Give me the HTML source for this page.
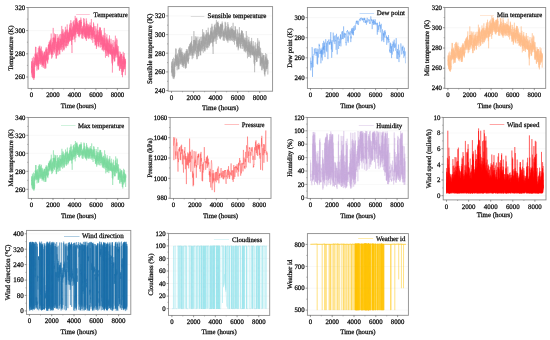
<!DOCTYPE html>
<html><head><meta charset="utf-8"><title>Weather time series</title>
<style>html,body{margin:0;padding:0;background:#fff}svg{display:block}text{stroke:#111;stroke-width:0.26px;text-rendering:geometricPrecision}</style>
</head><body>
<svg width="550" height="340" viewBox="0 0 550 340" font-family='"Liberation Serif", "DejaVu Serif", serif' font-size="6.6" fill="#111">
<rect width="550" height="340" fill="#fff"/>
<g font-size="6.77">
<line x1="28" y1="30.6" x2="129" y2="30.6" stroke="#f0f0f0" stroke-width="0.5"/>
<line x1="28" y1="53.8" x2="129" y2="53.8" stroke="#f0f0f0" stroke-width="0.5"/>
<line x1="28" y1="77" x2="129" y2="77" stroke="#f0f0f0" stroke-width="0.5"/>
<polyline points="31.4,67.9 31.5,72.6 31.5,70.6 31.6,65.2 31.6,61.1 31.6,65.6 31.7,67.8 31.7,66.2 31.7,68 31.8,62.1 31.8,62.3 31.9,70.4 31.9,73.5 32,69.8 32,76.9 32.1,64.5 32.1,64.3 32.2,72.6 32.2,74.8 32.2,69.8 32.3,68.5 32.3,58.1 32.3,58.3 32.4,68.5 32.5,72 32.5,68.7 32.5,68.5 32.6,61.3 32.6,60.4 32.7,73.4 32.7,77.2 32.8,69.2 32.8,70.1 32.9,67.2 32.9,69.8 32.9,74.4 33,78.4 33,73.8 33,75 33.1,78 33.1,75.3 33.2,69.2 33.2,77.9 33.3,69.2 33.3,66.7 33.4,56.7 33.4,59.5 33.5,71.1 33.5,73.6 33.5,70.1 33.5,68.8 33.6,62.9 33.6,64.9 33.7,77.4 33.8,80 33.8,76.9 33.8,77.3 33.9,73.5 33.9,69.9 34,72.4 34,78.5 34.1,75.5 34.1,73.6 34.1,60.8 34.2,65.8 34.2,70.9 34.2,72.9 34.3,78 34.3,71.9 34.4,61.7 34.4,63.7 34.5,73.9 34.5,73.3 34.5,76.6 34.6,73.1 34.7,58.1 34.7,58.7 34.7,66.3 34.8,64.5 34.8,67 34.8,64.4 34.9,58.2 34.9,57.2 35,62.2 35.1,65 35.1,62.1 35.1,59.9 35.2,54.3 35.2,56.3 35.2,53.4 35.3,60.6 35.3,56.6 35.4,54.9 35.4,50.2 35.5,46.8 35.5,56.7 35.5,57.7 35.6,62.4 35.7,54.8 35.7,57.2 35.7,55.9 35.8,60.9 35.8,64.7 35.9,58.6 35.9,56.2 35.9,47 36,47.8 36,63.3 36,62.6 36.1,65.6 36.1,65.6 36.2,58.7 36.2,57.7 36.3,61.4 36.3,62.8 36.3,63.9 36.4,61.4 36.5,53.8 36.5,57.7 36.5,64.5 36.6,66.1 36.6,63.6 36.6,61.5 36.7,55.2 36.7,55.4 36.8,62.7 36.8,63.2 36.9,70.6 36.9,64.2 37,53.3 37,54.5 37.1,63.3 37.1,65 37.1,62.1 37.2,60.9 37.2,52.2 37.2,52.8 37.3,61.8 37.3,60.3 37.4,63 37.4,61.3 37.4,58.9 37.5,56.9 37.6,64.8 37.6,65.6 37.7,62.6 37.7,59.8 37.7,54.9 37.8,55.2 37.8,62 37.9,69.3 37.9,63.8 37.9,64.2 38,56.5 38,57 38.1,64.7 38.1,66.7 38.2,63.1 38.2,63.9 38.3,55.2 38.3,48.1 38.4,65.2 38.4,69.7 38.4,65.4 38.5,65.2 38.5,60 38.5,60.8 38.6,66.8 38.6,69.3 38.7,63.1 38.8,60.5 38.8,61.8 38.8,57.9 38.9,63 38.9,65.6 39,57.9 39,58.1 39,46.5 39.1,49.6 39.1,54.2 39.1,52.7 39.2,56.3 39.2,53.3 39.3,50.4 39.3,51 39.4,59.4 39.4,63.8 39.5,57.5 39.5,54.3 39.6,46.9 39.6,46.8 39.6,60.3 39.7,61.1 39.7,55.6 39.7,55.2 39.8,46.1 39.8,45.7 39.8,51 39.9,52.7 40,54.7 40,53.6 40.1,48.6 40.1,48.3 40.2,58.5 40.2,60.7 40.2,63.9 40.3,62.1 40.3,51.2 40.3,51.5 40.4,55.5 40.4,56.1 40.5,62.8 40.5,57.7 40.6,48.8 40.6,49.6 40.7,59.1 40.7,60.6 40.7,64.8 40.8,59.6 40.8,53.6 40.9,52.4 40.9,55.8 40.9,54.9 41,60.3 41,53.7 41.1,50.7 41.1,52.3 41.2,57.6 41.2,58.7 41.2,61.2 41.3,57 41.4,46.6 41.4,48 41.5,58.5 41.5,59.6 41.5,62.3 41.6,61.7 41.6,55.2 41.6,55.7 41.7,59.3 41.8,64.3 41.8,60 41.8,59.3 41.9,50.5 41.9,50.5 42,66.7 42,67 42.1,59.3 42.1,63.2 42.1,53.4 42.2,52.8 42.2,59 42.2,59.7 42.3,65.1 42.3,62.4 42.4,56.8 42.4,56.8 42.5,61.3 42.5,62.8 42.6,65.3 42.6,63.8 42.7,52.4 42.7,51.3 42.7,60.3 42.8,59.4 42.8,63.2 42.9,56.3 42.9,65.5 43,57.1 43,58.9 43,64.8 43.1,61.6 43.1,64.3 43.1,53.9 43.2,55.6 43.3,66.4 43.3,67.9 43.3,62.4 43.4,61 43.4,56.6 43.5,55.4 43.5,62.5 43.6,66.2 43.6,61.5 43.6,61.2 43.7,57 43.7,55.9 43.8,63.8 43.8,64 43.8,59.1 43.9,59.3 43.9,52.9 44,52.5 44,60.4 44.1,63.4 44.1,59.6 44.1,60.7 44.2,56.8 44.2,55.1 44.2,58.7 44.3,57.6 44.4,52.2 44.4,58.9 44.5,52.1 44.5,52.3 44.5,53.9 44.6,61.8 44.6,57.9 44.6,55.6 44.7,51.3 44.7,51.6 44.8,65.6 44.8,68.5 44.9,66.1 44.9,64.1 45,59.8 45,59.4 45.1,65 45.1,68.7 45.1,63.5 45.2,63.1 45.2,56.3 45.3,56 45.3,62.3 45.3,62.2 45.4,66.7 45.4,61.4 45.5,51.8 45.5,49.6 45.6,65 45.6,65 45.7,63.4 45.7,63.5 45.7,54.9 45.8,59.7 45.8,63.2 45.9,68.3 45.9,62.2 45.9,60.8 46,47.5 46,53.6 46.1,59.8 46.1,56.4 46.2,57.7 46.2,56.7 46.3,50.4 46.3,49.8 46.4,55.2 46.4,59.8 46.4,54.1 46.5,59.6 46.5,49.3 46.5,50.6 46.6,59.1 46.6,60.9 46.7,57 46.7,56 46.8,51 46.8,47.4 46.9,54.4 46.9,53.9 46.9,56.3 47,56.2 47,51.6 47.1,52.5 47.1,58.8 47.2,61.7 47.2,58.1 47.2,56.9 47.3,48.8 47.3,48.8 47.4,58.7 47.4,58.5 47.5,62.5 47.5,62 47.6,54.5 47.6,52.8 47.6,58.7 47.7,59.6 47.7,63.3 47.7,63.7 47.8,57.7 47.8,60.1 47.9,57.8 47.9,60.1 48,55.5 48,55.2 48.1,51.9 48.1,51.9 48.2,54.9 48.2,54.3 48.2,51 48.3,50.7 48.3,45.1 48.3,45.9 48.4,54.4 48.4,58.6 48.5,51.8 48.5,51.1 48.6,44.2 48.6,44.7 48.7,48.5 48.7,45 48.8,48.6 48.8,48.8 48.8,46 48.9,44.9 48.9,52.2 49,54.4 49,48.2 49,49.2 49.1,43 49.1,41.9 49.2,47.9 49.2,47.8 49.3,52.7 49.3,50.9 49.3,43.8 49.4,45.5 49.4,50.7 49.5,52.6 49.5,49.5 49.5,49.3 49.6,43.5 49.6,42.3 49.7,54.3 49.7,55.1 49.8,48.4 49.8,46.4 49.9,40.7 49.9,42 50,49.2 50,49.3 50,50.9 50.1,48.7 50.1,43.9 50.2,43.4 50.2,46 50.2,49.3 50.3,51.7 50.3,53.8 50.4,41.1 50.4,40 50.5,47.4 50.6,50.2 50.6,47.7 50.6,47.1 50.7,41.2 50.7,41.6 50.7,50.3 50.8,52.1 50.8,44.3 50.8,43.5 50.9,38.6 50.9,38.9 51,46.9 51.1,49.9 51.1,45.5 51.1,44.6 51.2,33.6 51.2,34.5 51.3,47.2 51.3,48.3 51.3,55 51.4,52.7 51.4,45.3 51.4,45.8 51.5,53.6 51.5,55.5 51.6,58.6 51.6,56.2 51.7,49.6 51.7,49.3 51.7,53.4 51.8,52.4 51.8,54.7 51.9,49.9 51.9,44.8 52,43.8 52,52.4 52.1,51.2 52.1,54 52.1,49.9 52.2,47.3 52.2,47.6 52.3,56.1 52.3,57.4 52.4,53.4 52.4,51.3 52.5,42.8 52.5,42.1 52.5,46.2 52.6,44.4 52.6,48.1 52.6,46.5 52.7,44.3 52.7,43.2 52.8,47.1 52.8,49.4 52.9,51.9 52.9,48.2 52.9,37.8 53,45.4 53.1,51.2 53.1,54.9 53.1,48.6 53.2,45.1 53.2,30.7 53.2,27.9 53.3,43.6 53.4,42.8 53.4,40.1 53.5,40.8 53.5,39 53.5,37.8 53.6,48.2 53.6,50.7 53.7,47.2 53.7,46.2 53.7,40.4 53.8,37.9 53.8,44.8 53.9,48.2 53.9,44 54,43.3 54,37.8 54,37.4 54.1,48.8 54.1,47.6 54.2,52 54.2,47 54.3,42.7 54.3,38.2 54.4,40.7 54.4,53.4 54.4,44.9 54.5,42.5 54.5,33.5 54.5,34.5 54.6,46.9 54.7,49.9 54.7,44.7 54.7,42.4 54.8,38.7 54.8,40.3 54.9,49 54.9,48.4 54.9,44.8 55,44.6 55,39.5 55,40.2 55.1,45.1 55.1,46 55.2,49 55.2,48.3 55.3,37.5 55.3,37.5 55.4,41.2 55.4,41.8 55.5,38.2 55.5,34 55.5,42.8 55.6,35.5 55.6,39.2 55.7,41.4 55.7,47.1 55.7,46.8 55.8,41.7 55.8,43.5 55.9,49.7 56,50.6 56,49.1 56,50.2 56,55.8 56.1,47.8 56.1,53.8 56.2,58.7 56.2,54.4 56.3,54.1 56.3,49.7 56.3,51.9 56.4,57.5 56.4,58.3 56.5,52.3 56.5,50.7 56.6,42.9 56.6,41.9 56.7,46.3 56.7,50.8 56.7,45.5 56.8,47.6 56.8,44.6 56.9,43.8 56.9,49.6 56.9,52.4 57,44.5 57,47.8 57.1,36.8 57.1,34 57.2,43.7 57.2,47.8 57.3,44.3 57.3,44.5 57.4,37.9 57.4,38.2 57.4,48.1 57.5,52.2 57.5,49.4 57.5,47.4 57.6,40.9 57.7,41.5 57.7,52.8 57.7,55.5 57.8,51.8 57.8,49 57.9,42.3 57.9,43.6 58,49.7 58,55.2 58,48.7 58.1,46 58.1,38.1 58.1,40 58.2,49.1 58.3,49.4 58.3,46.3 58.3,45.8 58.4,40.4 58.4,45 58.5,42.3 58.5,46 58.5,50.3 58.6,48.1 58.6,40 58.7,36.5 58.7,46.7 58.7,48.8 58.8,48 58.8,47.7 58.9,39.2 58.9,38.2 59,50.4 59,49.8 59,47.7 59.1,47 59.2,42.1 59.2,41.4 59.3,42.8 59.3,43.8 59.3,34.5 59.4,36.3 59.4,39.7 59.4,39.3 59.5,48.5 59.5,49.5 59.5,54 59.6,48.6 59.7,43.7 59.7,43 59.8,51.6 59.8,51.5 59.8,54.5 59.9,51.5 59.9,43.9 60,44 60,47 60.1,49.8 60.1,46.8 60.1,46.2 60.2,40.4 60.2,39.2 60.3,45.6 60.3,48.1 60.4,43.6 60.4,43.1 60.5,33.9 60.5,36.3 60.5,42.9 60.6,43 60.6,39.9 60.7,39.1 60.7,41.9 60.7,39.8 60.8,45.4 60.8,46.7 60.9,43.9 60.9,44.8 61,38.3 61,41.7 61,46.6 61.1,50.2 61.1,46.2 61.2,46.3 61.2,41.4 61.3,43 61.3,48.7 61.3,49.2 61.4,41.7 61.4,41.2 61.5,36.1 61.5,34.3 61.6,41 61.6,45.4 61.7,39.9 61.7,36.4 61.7,26.3 61.8,25.9 61.8,36.7 61.8,38.8 61.9,41.5 61.9,39.1 62,31.6 62,33.9 62.1,43.9 62.1,43.3 62.1,47.1 62.2,44.9 62.2,38.4 62.3,42.8 62.3,47.3 62.4,46.7 62.4,51.6 62.4,45.7 62.5,35.5 62.5,33.9 62.6,40.3 62.6,41.4 62.6,44.9 62.7,40 62.8,29 62.8,32.1 62.9,38.8 62.9,40.8 63,37 63,36.7 63,30.4 63,31.3 63.1,37.6 63.1,39.8 63.2,43.8 63.2,41.1 63.3,33.9 63.3,32.9 63.4,43.1 63.4,47.3 63.5,45.6 63.5,44 63.6,34.1 63.6,34.1 63.6,47.2 63.7,49.9 63.7,46.2 63.7,44.7 63.8,39.5 63.8,40.1 63.9,46.7 63.9,47.5 64,50.5 64,47.9 64.1,40.8 64.1,41.7 64.1,45.9 64.2,49 64.2,45.8 64.3,45.3 64.3,35.8 64.3,34.6 64.4,41.9 64.4,38.2 64.5,40.2 64.5,42.4 64.5,36.1 64.6,35.4 64.7,40.5 64.7,45.6 64.8,42.7 64.8,41.1 64.8,31.6 64.9,31.8 64.9,35 65,39.1 65,36.4 65,33 65.1,34.9 65.1,32 65.2,36.9 65.2,37.9 65.3,36 65.3,34.4 65.4,26.9 65.4,26.8 65.4,36.5 65.5,36.5 65.5,42.1 65.5,46.4 65.6,35.1 65.6,32.9 65.7,36.6 65.7,39 65.8,32 65.8,30 65.8,32.5 65.9,31.5 66,42.7 66,43.1 66,39.6 66.1,48.1 66.1,38 66.2,39.6 66.2,45.3 66.3,44 66.3,46.3 66.3,45.4 66.4,37.9 66.4,37.5 66.5,42.2 66.6,43.3 66.6,41.2 66.6,40.9 66.6,31.5 66.7,29.5 66.7,37.6 66.8,38.3 66.8,36.1 66.8,35.6 66.9,31.3 66.9,31.9 67,41.9 67,45.9 67.1,40.5 67.1,38.1 67.2,25 67.2,24.4 67.3,36.7 67.3,38.1 67.3,35 67.4,34.1 67.4,29.6 67.4,31.3 67.5,36.4 67.5,37.1 67.6,42.5 67.6,40.2 67.7,33.6 67.7,34.3 67.8,43.8 67.8,46.1 67.9,41.6 67.9,39.6 67.9,32.3 67.9,33.1 68,42.1 68.1,43.4 68.1,38.2 68.1,36.5 68.2,35.1 68.2,34.9 68.3,40.1 68.3,44.3 68.4,40.6 68.4,37.5 68.4,32.5 68.5,35.4 68.5,39.1 68.6,40.2 68.6,42.6 68.7,42.6 68.7,33.9 68.7,33 68.8,36 68.8,37.3 68.9,40.8 68.9,39.2 69,32.4 69,31.4 69.1,35.6 69.1,38.4 69.1,35.8 69.2,35.2 69.2,29.8 69.2,30 69.3,38.9 69.4,41.8 69.4,38.7 69.4,37.6 69.5,27.6 69.5,28.3 69.6,36.6 69.6,39.9 69.7,35.3 69.7,33.7 69.7,24.6 69.8,26.1 69.8,37 69.9,40.6 69.9,37.8 69.9,36.9 70,30.4 70,29.1 70.1,36.7 70.1,41 70.2,37.1 70.2,33.4 70.2,25.4 70.3,23.1 70.3,30.9 70.4,29.2 70.4,32.4 70.5,30.2 70.5,27.8 70.5,28.8 70.6,35.4 70.7,37 70.7,34 70.7,33.1 70.8,24.9 70.8,20.2 70.9,36 70.9,37.1 70.9,40.4 71,38.1 71,28.7 71,28.9 71.1,35.6 71.1,35.9 71.2,30.5 71.2,34.5 71.3,30 71.3,30.9 71.4,34.2 71.4,36.6 71.4,41.6 71.5,38.5 71.5,23.2 71.6,30 71.6,42.2 71.6,44.9 71.7,39.2 71.7,38.8 71.8,34.1 71.8,35 71.9,39.7 72,53 72,39.2 72,36.7 72.1,33.7 72.1,33.3 72.2,37.2 72.2,39.8 72.2,34.4 72.2,33.5 72.3,29.3 72.3,30.5 72.4,36.3 72.4,39.2 72.5,35.1 72.5,35.1 72.6,26.5 72.6,27.6 72.7,37.4 72.7,33.7 72.7,37 72.8,32.9 72.8,27.7 72.9,29 72.9,33.2 72.9,36.1 73,39.8 73,35.3 73.1,22.1 73.1,22.2 73.2,28.7 73.2,30.9 73.3,27.2 73.3,25.9 73.3,21.2 73.4,25.3 73.4,33.6 73.5,36.1 73.5,31.1 73.5,30.7 73.6,24.4 73.6,23.6 73.7,32.8 73.8,36.1 73.8,32.2 73.8,31.5 73.8,28.9 73.9,27.1 73.9,32.4 74,36.5 74,33 74.1,32.3 74.1,20.6 74.1,20 74.2,32 74.2,31.1 74.3,34.8 74.3,31.8 74.4,25.5 74.4,25.7 74.5,38.4 74.5,39.3 74.6,32.4 74.6,31.4 74.6,24.8 74.7,26.5 74.7,30.1 74.8,32.6 74.8,27.6 74.9,23.6 74.9,27.3 74.9,26.4 75,29.7 75,42.2 75.1,28.5 75.1,29.5 75.2,15.9 75.2,17 75.2,30 75.3,30.4 75.3,34.2 75.3,30 75.4,24.8 75.4,26.1 75.5,31.4 75.6,35.1 75.6,30.9 75.6,28.5 75.7,18.5 75.7,20.6 75.8,33.3 75.8,37.8 75.9,33.1 75.9,31.5 75.9,21.1 75.9,23.6 76,31 76.1,32.2 76.1,28.8 76.1,29.2 76.2,18.7 76.2,18.3 76.3,25 76.3,27.9 76.4,24.9 76.4,25 76.5,20.9 76.5,19.7 76.5,29.4 76.6,32.3 76.6,26.4 76.6,25 76.7,18.2 76.7,17.7 76.8,25.4 76.9,29.3 76.9,26.1 76.9,24.8 76.9,19.4 77,20.3 77,28.8 77.1,30.8 77.1,34 77.2,30 77.2,23.3 77.3,21.9 77.3,31.1 77.4,31.4 77.4,28.5 77.4,28.9 77.5,24.1 77.5,25.8 77.5,22.7 77.6,24.6 77.6,33.7 77.7,28.2 77.7,25.2 77.8,27.7 77.8,30.6 77.9,31 77.9,28.6 77.9,29.7 78,23.6 78,24.8 78.1,29.4 78.1,29.8 78.1,33.9 78.2,30.7 78.2,28.1 78.3,29.7 78.3,36.1 78.4,35.8 78.4,31.9 78.4,30.8 78.5,26.6 78.6,25 78.6,28.6 78.6,29.4 78.6,31.6 78.7,28.5 78.7,23.3 78.8,25.9 78.9,30.6 78.9,36.3 78.9,31.6 79,30.8 79,20.8 79,22 79.1,33.9 79.2,37.3 79.2,29.9 79.2,28.9 79.3,24.1 79.3,21 79.4,31 79.4,34.2 79.5,29.6 79.5,28.3 79.5,20 79.6,20.5 79.6,33.2 79.6,32.8 79.7,35.5 79.7,32 79.8,22.2 79.8,22.2 79.9,28.4 80,30.5 80,25.2 80,26.7 80.1,20.8 80.1,21.8 80.2,30.3 80.2,34.3 80.2,28.7 80.2,27.9 80.3,21.8 80.4,23.7 80.4,31.6 80.4,31.7 80.5,28.5 80.5,28.4 80.6,19.9 80.6,21.5 80.7,29.8 80.7,34.3 80.8,29.6 80.8,29.8 80.8,17.6 80.9,18.2 80.9,26.4 81,27 81,22.1 81,23 81.1,20.5 81.1,19.7 81.2,26.9 81.2,27.8 81.2,26.1 81.3,25.5 81.3,21.9 81.4,22.5 81.4,27.6 81.5,27.7 81.5,33.3 81.5,32.4 81.6,28.4 81.6,29.1 81.7,33.2 81.8,38.2 81.8,34.7 81.8,32.5 81.8,27.9 81.9,33.6 81.9,29.4 82,31.1 82,34.1 82.1,32.8 82.1,31.2 82.1,30.6 82.2,34.2 82.2,37.1 82.3,38.7 82.3,37 82.4,28.1 82.4,27.3 82.5,33.8 82.5,32.9 82.5,35.1 82.6,34.3 82.6,27.4 82.7,26 82.7,32.7 82.8,32.1 82.8,29.8 82.9,28.9 82.9,31.5 82.9,31.6 83,36.7 83,38.7 83.1,35.1 83.1,33.9 83.2,29.5 83.2,29.6 83.2,34.3 83.3,34.2 83.3,31.9 83.3,30.7 83.4,25.1 83.4,25.3 83.5,30.4 83.5,31.5 83.5,29.7 83.6,30.7 83.7,18 83.7,25.1 83.8,32.2 83.8,35.8 83.8,32.2 83.9,30.5 83.9,23.3 84,24.3 84,29.1 84.1,32.5 84.1,28.7 84.1,26.6 84.2,20.4 84.2,18.9 84.3,26.8 84.3,25.1 84.4,28.2 84.4,28 84.4,31.3 84.5,28.2 84.5,35.3 84.5,37.3 84.6,27.6 84.6,27.8 84.7,22.5 84.7,23.5 84.8,34.5 84.8,31.8 84.8,33.8 84.9,32.8 85,29.4 85,29.8 85,34.5 85.1,34.1 85.1,36.5 85.1,33.4 85.2,28.5 85.2,29.9 85.3,34.2 85.4,37.4 85.4,32.4 85.4,30.8 85.5,26.2 85.5,26.3 85.6,38.3 85.6,33 85.6,39.2 85.7,35 85.7,27.8 85.8,27.5 85.8,32.5 85.9,37.3 85.9,33.7 85.9,31.7 86,24.3 86,24.1 86.1,31.3 86.1,34.2 86.2,31 86.2,29.6 86.2,23.4 86.3,18.4 86.3,34.1 86.4,36.3 86.4,40.9 86.4,34.8 86.5,28.3 86.6,20.8 86.6,34.9 86.6,34.7 86.7,31.5 86.7,31.6 86.7,28.2 86.8,30 86.9,35 86.9,38.5 86.9,33 87,31.3 87,23.3 87.1,24.9 87.1,34.7 87.1,37.3 87.2,31.9 87.2,31.5 87.3,24.2 87.3,24.3 87.4,35.1 87.4,34.9 87.4,32.7 87.5,33.1 87.5,25.9 87.6,26.7 87.6,33.1 87.7,32.1 87.7,30.1 87.7,29 87.8,26.9 87.8,26.8 87.9,28.1 87.9,31 87.9,36 88,31.8 88.1,29.2 88.1,28.4 88.1,36 88.2,38 88.2,34.4 88.2,31.6 88.3,27.3 88.3,27.9 88.4,35.7 88.5,39.1 88.5,36 88.5,34.5 88.6,25.1 88.6,25.9 88.7,33.2 88.7,35.6 88.8,32 88.8,29.4 88.8,24.9 88.9,24 88.9,29.6 88.9,31.4 89,36.7 89,31.5 89.1,27.5 89.1,26.9 89.2,34.3 89.2,35.5 89.2,33.5 89.3,34.5 89.3,29.4 89.4,29.4 89.4,32.6 89.4,35.3 89.5,38.5 89.5,36.7 89.6,26.8 89.6,27.9 89.7,37.1 89.7,38 89.8,35 89.8,33.7 89.9,25.4 89.9,25.4 89.9,31.5 90,33 90,35 90.1,31.5 90.1,22.5 90.1,24.6 90.2,31.7 90.3,31.7 90.3,28.7 90.3,29.1 90.4,26 90.4,25.6 90.5,27.3 90.5,26.4 90.5,32.1 90.6,31.5 90.6,25.8 90.7,25.4 90.7,32.9 90.8,36.4 90.8,39.1 90.8,37.3 90.9,27.6 90.9,27.3 91,33.5 91,35.1 91.1,31 91.1,30.2 91.2,26.2 91.2,28.1 91.2,31.7 91.3,37.7 91.3,32.2 91.3,29.8 91.4,19 91.4,20.7 91.5,31.3 91.5,31.3 91.6,34.9 91.6,33.2 91.7,27.4 91.7,26.9 91.8,34.6 91.8,40.2 91.8,36.8 91.9,35.5 91.9,27 92,27.7 92,35.7 92.1,35.7 92.1,32.8 92.1,32.1 92.2,30.5 92.2,31.1 92.3,34.9 92.3,35.3 92.3,37.9 92.4,35.7 92.4,30.6 92.5,31.8 92.5,34.8 92.6,33.1 92.6,36.3 92.6,34.4 92.7,28.2 92.7,29 92.8,38 92.8,42.9 92.9,39.1 92.9,38 93,27.1 93,28.2 93.1,38.2 93.1,38.9 93.1,34.1 93.1,33.9 93.2,29.5 93.2,30.7 93.3,29.2 93.3,35 93.4,31.9 93.4,31.5 93.5,23.2 93.5,22.4 93.6,30.9 93.6,27.4 93.6,30 93.7,26.6 93.7,23.6 93.8,25.3 93.8,34.2 93.8,33.5 93.9,37 93.9,32.8 94,30.9 94,30.7 94.1,35.3 94.1,37.4 94.2,34 94.2,33.7 94.3,26.5 94.3,26.1 94.3,37.3 94.4,38.9 94.4,35.4 94.4,34.8 94.5,31 94.5,31.6 94.6,37.7 94.6,39 94.7,36.8 94.7,36.5 94.7,34.3 94.8,35.6 94.9,41.1 94.9,42 94.9,39.8 95,39.8 95,38.6 95.1,39 95.1,41.9 95.1,43.6 95.2,45.7 95.2,42.7 95.3,37.7 95.3,39.3 95.3,43.9 95.4,45 95.5,40.3 95.5,39.9 95.5,34.9 95.6,36.4 95.6,39.9 95.7,44.4 95.7,36.9 95.7,35.4 95.8,26.2 95.8,27.8 95.9,39.9 95.9,42.7 96,40.6 96,39.1 96.1,28.6 96.1,28.6 96.1,39.2 96.2,39.8 96.2,43.1 96.2,38.9 96.3,34.5 96.3,35.3 96.4,42.5 96.4,49 96.5,44.3 96.5,43.8 96.6,35.4 96.6,36.7 96.7,46 96.7,47.2 96.7,41.1 96.8,40.9 96.8,34.2 96.8,34.9 96.9,45.8 96.9,46.2 97,39.1 97,36.9 97.1,30.8 97.1,33.1 97.2,40.1 97.2,41.5 97.3,37.3 97.3,38.7 97.3,30.5 97.4,30.7 97.4,34.8 97.4,36.5 97.5,39 97.5,36.1 97.6,23.6 97.6,26.4 97.7,38.6 97.7,42 97.7,39.1 97.8,40.5 97.8,38 97.9,38.1 97.9,42.6 98,44.2 98,39.5 98,38.7 98.1,30.8 98.1,30.2 98.2,36.4 98.2,37.1 98.3,40.1 98.3,38.1 98.4,36.3 98.4,35.5 98.5,41 98.5,42.7 98.5,46.1 98.6,41 98.6,35.3 98.7,36.2 98.7,43.9 98.8,46.3 98.8,43 98.8,42.4 98.9,33 98.9,31.8 99,41.2 99,47.4 99.1,41.6 99.1,40.3 99.2,33.1 99.2,32.1 99.2,41.3 99.3,42.2 99.3,35.9 99.3,35.8 99.4,29.5 99.4,30.2 99.5,35.8 99.5,37.5 99.6,39.8 99.6,37.1 99.7,27.2 99.7,28 99.8,37.6 99.8,42.2 99.8,38 99.9,35.7 99.9,30.5 100,28.4 100,32.5 100,34.8 100.1,37.4 100.1,33.2 100.2,27.7 100.2,27.5 100.3,39.9 100.3,41.8 100.3,44.4 100.4,42.8 100.4,27.8 100.5,33 100.5,45.3 100.5,47.5 100.6,43.2 100.6,44.5 100.7,37.4 100.8,35.8 100.8,39 100.8,40.1 100.9,36.2 100.9,35.4 100.9,31.8 101,33.4 101,41.6 101.1,43.9 101.1,39.9 101.1,39.6 101.2,34.2 101.2,33.6 101.3,40.6 101.3,40.6 101.4,36.5 101.4,36.2 101.5,30.4 101.5,31.3 101.6,40 101.6,39.5 101.6,45 101.7,42.2 101.7,36.8 101.7,38.5 101.8,46.9 101.8,46.2 101.9,42.9 101.9,42.4 102,36.2 102,37.2 102.1,42.8 102.1,44.9 102.1,50.1 102.2,46.9 102.2,38.1 102.3,37.7 102.3,44 102.4,44.2 102.4,40.7 102.4,41.1 102.5,37.7 102.5,37.8 102.6,46.4 102.6,49.3 102.7,46.1 102.7,45.9 102.8,37.2 102.8,39.2 102.9,45.9 102.9,48.5 102.9,44.7 103,43.4 103,34.8 103,35.7 103.1,46.9 103.1,50.6 103.2,43.1 103.2,42.1 103.3,35.4 103.3,37.4 103.4,47 103.4,47.3 103.4,44.7 103.5,46.5 103.5,43.2 103.6,43.6 103.6,46 103.7,47.5 103.7,43.6 103.7,45 103.8,40 103.9,46.1 103.9,38.5 103.9,51.6 104,47.2 104,50.1 104.1,38.2 104.1,40.4 104.1,44.2 104.2,46.5 104.2,42.9 104.2,41.5 104.3,34.3 104.3,27.9 104.4,45.3 104.4,44 104.5,41 104.5,42.6 104.5,40.2 104.6,41.6 104.7,47.2 104.7,49.6 104.7,47.5 104.8,46.1 104.8,36.9 104.9,35.8 104.9,41 105,46.3 105,43 105,40.1 105.1,33.1 105.1,32.9 105.2,44.9 105.2,46.5 105.2,49.8 105.3,47 105.3,43 105.4,43.9 105.4,56.7 105.5,57.7 105.5,54.8 105.5,53.9 105.6,45.7 105.6,44.4 105.7,51 105.7,53.4 105.8,47.7 105.8,46.7 105.9,39.3 105.9,38.5 105.9,42.4 106,45.6 106,50.6 106,46.7 106.1,39.7 106.1,39.9 106.2,49.7 106.3,50.4 106.3,45.4 106.3,48.2 106.4,43.8 106.4,43.9 106.5,50.1 106.5,49.5 106.5,56 106.6,50.4 106.6,37.3 106.7,39.4 106.7,49.7 106.7,48.5 106.8,44.7 106.8,43.4 106.9,34.3 106.9,35.3 107,45.3 107,47.1 107,50.3 107.1,46.6 107.1,42.1 107.2,45 107.2,51.6 107.3,56.1 107.3,46.8 107.3,51.2 107.4,41.7 107.4,39.7 107.5,51.6 107.5,52.2 107.6,49.8 107.6,48.2 107.6,42.9 107.7,41.1 107.8,48.7 107.8,54.3 107.8,50.4 107.9,46.7 107.9,38.7 107.9,39.3 108,50.1 108,51.5 108.1,48.2 108.1,47.8 108.2,42.4 108.2,44.4 108.3,49.2 108.3,52.6 108.3,51.1 108.4,52.5 108.4,48.6 108.5,49.7 108.5,52.6 108.6,57.2 108.6,53.8 108.6,49.9 108.7,43 108.7,45.4 108.8,51 108.9,54.4 108.9,50 108.9,49.9 109,40.3 109,40.3 109,53.6 109.1,54.1 109.1,50 109.1,47.9 109.2,40 109.2,38.6 109.3,46.6 109.3,44.7 109.4,50.8 109.4,44.4 109.5,36.9 109.5,35.4 109.6,39.5 109.6,42.1 109.6,40.8 109.7,42.1 109.7,43.1 109.7,43 109.8,49.7 109.8,53.3 109.9,50.7 109.9,51.2 110,44.8 110,44.4 110.1,52.3 110.1,50.8 110.2,53.7 110.2,52.5 110.2,44.3 110.3,44.8 110.3,49 110.3,51 110.4,54.2 110.4,50.9 110.5,45.7 110.5,45.8 110.6,53.9 110.6,54.5 110.7,51.6 110.7,50.5 110.8,42.6 110.8,43.8 110.8,47.9 110.9,50.6 110.9,54 111,51.5 111,38.8 111,38.9 111.1,50 111.2,50.2 111.2,53 111.2,54.8 111.3,46.4 111.3,45.9 111.4,50.1 111.4,53 111.5,50.7 111.5,49.7 111.5,44.1 111.6,45 111.6,52.7 111.7,56 111.7,51.8 111.7,53.1 111.8,50 111.8,50 111.9,58.9 111.9,63.4 112,61.4 112,59.3 112,52.8 112.1,45 112.1,56.5 112.2,61.6 112.2,55.8 112.2,57.2 112.3,49 112.3,49.4 112.4,72.6 112.5,62.6 112.5,65.4 112.5,60.2 112.5,52.6 112.6,51.2 112.7,57.5 112.7,62.9 112.7,58.5 112.8,57.5 112.8,43.4 112.8,43.7 112.9,53 112.9,54.1 113,49.7 113,47.5 113.1,40 113.1,40.5 113.2,51.2 113.2,51.2 113.2,54.1 113.3,53.7 113.3,49.5 113.4,52.3 113.4,59.3 113.5,58.3 113.5,55.1 113.6,54.3 113.6,50.3 113.6,47 113.7,51.8 113.7,54.7 113.8,52.3 113.8,51.2 113.9,46.8 113.9,48.9 113.9,51.4 114,52 114,55.5 114,52.8 114.1,47.8 114.1,48.7 114.2,57.2 114.3,57.6 114.3,61.5 114.3,57.8 114.4,49.5 114.4,49.6 114.5,55.6 114.5,56.7 114.5,61 114.6,60.2 114.6,50 114.6,49.9 114.7,56.5 114.8,61.4 114.8,53.2 114.8,50.7 114.9,42 115,42.7 115,49 115,53.9 115.1,49.7 115.1,48.8 115.1,40.5 115.2,42.4 115.2,54.5 115.3,55.8 115.3,48.6 115.3,48.2 115.4,35.7 115.4,42.1 115.5,52.5 115.5,51 115.6,55.4 115.6,50.2 115.7,44.8 115.7,45.6 115.8,51.5 115.8,51.4 115.8,57.7 115.9,56.1 115.9,50.1 115.9,50.8 115.9,48.9 116,52.6 116.1,57.3 116.1,53.1 116.2,47.9 116.2,51 116.2,53.7 116.3,53.9 116.4,49.6 116.4,49.6 116.4,44.1 116.5,45.9 116.5,49.4 116.6,53.3 116.6,44.2 116.6,43 116.7,38.4 116.7,41.3 116.8,48.5 116.8,49.7 116.9,52.8 116.9,48 117,39.8 117,41.3 117,54.8 117.1,53.5 117.1,55.1 117.2,54 117.2,47.8 117.2,49 117.3,51.7 117.3,50.9 117.4,53.8 117.4,49.8 117.5,45.6 117.5,47.1 117.6,55.5 117.6,57.5 117.6,53.9 117.7,53.4 117.7,49.5 117.7,53.8 117.8,58.4 117.8,62.3 117.9,66.2 117.9,62.4 118,52.3 118,52.2 118.1,61.4 118.1,64.4 118.2,58.6 118.2,56.4 118.2,48.4 118.3,46.2 118.3,63.4 118.3,62.5 118.4,65.3 118.4,63.1 118.5,58.4 118.5,57.8 118.6,62.7 118.6,66.2 118.7,63.6 118.7,62.4 118.8,55.7 118.8,55.4 118.9,61.9 118.9,62.1 118.9,60 118.9,57.2 119,51.3 119,54.2 119.1,61.2 119.1,62.5 119.2,59.3 119.3,60.4 119.3,57.5 119.3,56.8 119.4,65.1 119.4,70.4 119.5,64 119.5,62.8 119.5,56.9 119.5,60.5 119.6,67.1 119.6,68 119.7,70.8 119.7,67.1 119.8,56.7 119.8,57 119.9,63 119.9,59.8 120,63.6 120,61.3 120,56.8 120.1,56.9 120.1,58.9 120.2,61.8 120.2,59.4 120.2,56.9 120.3,51.8 120.3,53.9 120.4,62.7 120.4,63.2 120.5,68.8 120.5,65.2 120.6,54.8 120.6,56 120.7,63.4 120.7,66.3 120.7,61.8 120.8,60.6 120.8,53.8 120.9,56.1 120.9,63.9 120.9,67.8 121,61.7 121,61.1 121.1,53.9 121.1,54.4 121.2,65.4 121.2,69 121.2,62.4 121.3,61.7 121.3,55.4 121.4,54.2 121.4,65.9 121.4,64.8 121.5,62 121.5,60.4 121.6,54 121.6,55.6 121.7,67.7 121.7,71.6 121.8,68.1 121.8,65.4 121.8,60.3 121.9,61 121.9,72.5 122,75 122,70.4 122,69.8 122.1,65.7 122.2,66.4 122.2,71.8 122.3,75.1 122.3,71.2 122.3,68.3 122.4,58.9 122.4,60.7 122.5,71.6 122.5,77.2 122.5,68.6 122.6,67 122.6,62.1 122.6,61.3 122.7,68.1 122.8,72.3 122.8,67.7 122.8,66.8 122.9,59 122.9,56.4 123,60.3 123,61.2 123,64.3 123.1,61.7 123.2,52.9 123.2,51.8 123.2,57.7 123.2,56.9 123.3,63.7 123.4,63.3 123.4,55.3 123.4,63.5 123.5,69.7 123.5,71.7 123.6,68.1 123.6,65.8 123.7,58.1 123.7,57.8 123.8,68.4 123.8,66.2 123.8,69.4 123.8,66.9 123.9,61.9 124,60.9 124,65.4 124.1,69.2 124.1,63.2 124.1,62.6 124.2,57.8 124.2,53 124.3,60.9 124.3,66.6 124.4,60.9 124.4,64.8 124.4,56.9 124.5,57.4 124.5,64.4 124.6,65.4 124.6,60.9 124.7,62.4 124.7,59.9 124.7,58.9 124.8,66.6 124.8,69 124.9,65.9 124.9,67.2 124.9,59.1 125,58.7 125,63.7 125.1,62 125.1,65.7 125.1,65.1 125.2,62.5 125.2,60.9 125.3,69.5 125.3,75.2 125.4,70.9 125.4,69.5 125.5,59.5 125.5,59.2 125.6,63.6" fill="none" stroke="#ff6292" stroke-width="0.45" stroke-opacity="1.0" stroke-linejoin="round"/>
<rect x="28" y="7.5" width="101" height="80.9" fill="none" stroke="#8c8c8c" stroke-width="0.9"/>
<line x1="26.2" y1="7.5" x2="28" y2="7.5" stroke="#555" stroke-width="0.6"/>
<text x="25.2" y="9.7" text-anchor="end">320</text>
<line x1="26.2" y1="30.6" x2="28" y2="30.6" stroke="#555" stroke-width="0.6"/>
<text x="25.2" y="32.9" text-anchor="end">300</text>
<line x1="26.2" y1="53.8" x2="28" y2="53.8" stroke="#555" stroke-width="0.6"/>
<text x="25.2" y="56" text-anchor="end">280</text>
<line x1="26.2" y1="77" x2="28" y2="77" stroke="#555" stroke-width="0.6"/>
<text x="25.2" y="79.2" text-anchor="end">260</text>
<line x1="42.1" y1="88.4" x2="42.1" y2="89.5" stroke="#777" stroke-width="0.5"/>
<line x1="63.6" y1="88.4" x2="63.6" y2="89.5" stroke="#777" stroke-width="0.5"/>
<line x1="85.1" y1="88.4" x2="85.1" y2="89.5" stroke="#777" stroke-width="0.5"/>
<line x1="106.7" y1="88.4" x2="106.7" y2="89.5" stroke="#777" stroke-width="0.5"/>
<line x1="26.9" y1="19.1" x2="28" y2="19.1" stroke="#777" stroke-width="0.5"/>
<line x1="26.9" y1="42.2" x2="28" y2="42.2" stroke="#777" stroke-width="0.5"/>
<line x1="26.9" y1="65.4" x2="28" y2="65.4" stroke="#777" stroke-width="0.5"/>
<line x1="31.4" y1="88.4" x2="31.4" y2="90.2" stroke="#555" stroke-width="0.6"/>
<text x="31.4" y="96.9" text-anchor="middle">0</text>
<line x1="52.9" y1="88.4" x2="52.9" y2="90.2" stroke="#555" stroke-width="0.6"/>
<text x="52.9" y="96.9" text-anchor="middle">2000</text>
<line x1="74.4" y1="88.4" x2="74.4" y2="90.2" stroke="#555" stroke-width="0.6"/>
<text x="74.4" y="96.9" text-anchor="middle">4000</text>
<line x1="95.9" y1="88.4" x2="95.9" y2="90.2" stroke="#555" stroke-width="0.6"/>
<text x="95.9" y="96.9" text-anchor="middle">6000</text>
<line x1="117.4" y1="88.4" x2="117.4" y2="90.2" stroke="#555" stroke-width="0.6"/>
<text x="117.4" y="96.9" text-anchor="middle">8000</text>
<text x="78.5" y="107.8" text-anchor="middle">Time (hours)</text>
<text transform="translate(12.5 48) rotate(-90)" text-anchor="middle">Temperature (K)</text>
<line x1="76.2" y1="14.5" x2="89.8" y2="14.5" stroke="#ff6292" stroke-width="0.6" stroke-opacity="0.6"/>
<text x="93.6" y="16.8">Temperature</text>
</g>
<g font-size="7.00">
<line x1="168.1" y1="15.9" x2="272.6" y2="15.9" stroke="#f0f0f0" stroke-width="0.5"/>
<line x1="168.1" y1="34.6" x2="272.6" y2="34.6" stroke="#f0f0f0" stroke-width="0.5"/>
<line x1="168.1" y1="53.2" x2="272.6" y2="53.2" stroke="#f0f0f0" stroke-width="0.5"/>
<line x1="168.1" y1="71.9" x2="272.6" y2="71.9" stroke="#f0f0f0" stroke-width="0.5"/>
<polyline points="171.5,67.8 171.6,72.3 171.6,70.4 171.7,65.6 171.7,61.6 171.8,65.8 171.8,67.7 171.8,66.3 171.9,67.9 171.9,62.7 172,62.9 172,70.2 172.1,73 172.1,69.6 172.1,76.2 172.2,64.9 172.2,64.7 172.3,72.2 172.3,74.1 172.4,69.5 172.4,68.4 172.5,59 172.5,59.2 172.5,68.4 172.6,71.6 172.6,68.6 172.7,68.5 172.7,62 172.7,61.1 172.8,72.9 172.8,76.3 172.9,69 172.9,69.9 173,67.4 173,69.9 173.1,73.9 173.1,77.6 173.2,73.4 173.2,74.7 173.2,78.7 173.3,75.9 173.3,69.2 173.4,77 173.4,69 173.4,66.7 173.5,57.7 173.5,60.4 173.6,70.8 173.6,73 173.7,69.9 173.7,68.7 173.8,63.4 173.8,65.3 173.9,76.7 173.9,79.1 174,76.2 174,76.6 174,73.2 174.1,69.8 174.1,72 174.2,77.5 174.2,74.9 174.2,73.2 174.3,61.6 174.3,66.1 174.4,70.6 174.4,72.4 174.5,77.1 174.5,71.6 174.6,62.3 174.6,64.2 174.7,73.5 174.7,72.8 174.7,75.9 174.8,72.7 174.8,59 174.9,59.6 174.9,66.3 174.9,64.7 175,67 175,64.6 175.1,59 175.1,58.1 175.2,62.5 175.2,65.1 175.3,62.5 175.3,60.5 175.4,55.4 175.4,57.2 175.4,54.4 175.5,60.9 175.5,57.3 175.6,55.8 175.6,51.7 175.7,48.5 175.7,57.4 175.7,58.3 175.8,62.7 175.9,55.9 175.9,58.2 175.9,57 176,61.3 176,64.8 176.1,59.2 176.1,57.1 176.2,48.8 176.2,49.5 176.3,63.6 176.3,62.9 176.3,65.7 176.4,65.7 176.4,59.5 176.4,58.6 176.5,61.9 176.5,63.1 176.5,64.1 176.6,61.9 176.7,55 176.7,58.6 176.8,64.7 176.8,66.1 176.9,63.9 176.9,61.9 176.9,56.3 177,56.5 177,63 177.1,63.4 177.1,70.3 177.1,64.4 177.2,54.6 177.2,55.6 177.3,63.5 177.3,65.1 177.4,62.4 177.4,61.3 177.5,53.5 177.5,54.1 177.6,62.2 177.6,60.8 177.7,63.4 177.7,61.8 177.7,59.6 177.8,57.8 177.8,65 177.9,65.6 177.9,62.9 177.9,60.4 178,56 178,56.3 178.1,62.4 178.1,69.1 178.2,64 178.2,64.5 178.3,57.5 178.3,57.9 178.4,64.9 178.4,66.7 178.5,63.4 178.5,64.2 178.5,56.3 178.6,49.7 178.6,65.4 178.7,69.4 178.7,65.5 178.7,65.3 178.8,60.7 178.8,61.5 178.9,66.8 178.9,69.1 179,63.4 179,61.2 179.1,62.4 179.1,58.8 179.2,63.4 179.2,65.7 179.3,58.6 179.3,58.8 179.3,48.1 179.3,51.1 179.4,55.2 179.4,53.8 179.5,57.1 179.5,54.4 179.6,51.8 179.6,52.3 179.7,60 179.7,63.9 179.8,58.2 179.8,55.3 179.9,48.7 179.9,48.6 180,60.8 180,61.5 180,56.5 180.1,56.1 180.1,47.8 180.1,47.4 180.2,52.3 180.2,53.8 180.3,55.5 180.3,54.7 180.4,50.2 180.4,49.9 180.5,59.1 180.5,61.2 180.5,64.1 180.6,62.5 180.7,52.6 180.7,52.9 180.7,56.4 180.8,56.8 180.8,63 180.8,58.4 180.9,50.3 180.9,51.2 181,59.7 181,61 181.1,64.8 181.1,60.2 181.2,54.8 181.2,53.7 181.3,56.6 181.3,55.8 181.3,60.8 181.4,54.7 181.4,52.1 181.5,53.6 181.5,58.3 181.6,59.3 181.6,61.6 181.6,57.8 181.7,48.3 181.7,49.7 181.8,59.2 181.8,60.1 181.9,62.6 181.9,62.1 182,56.3 182,56.7 182.1,60 182.1,64.4 182.2,60.5 182.2,59.9 182.2,52 182.3,51.9 182.3,66.7 182.4,67 182.4,59.9 182.4,63.6 182.5,54.6 182.5,54.1 182.6,59.6 182.6,60.2 182.7,65.1 182.7,62.8 182.8,57.8 182.8,57.7 182.9,61.7 182.9,63.1 183,65.4 183,64.1 183,53.7 183.1,52.7 183.1,60.8 183.1,59.9 183.2,63.5 183.3,57.2 183.3,65.8 183.4,57.9 183.4,59.6 183.4,64.9 183.5,61.9 183.5,64.5 183.5,55.1 183.6,56.7 183.7,66.5 183.7,67.8 183.7,62.8 183.8,61.5 183.8,57.5 183.9,56.5 183.9,62.9 184,66.2 184,62 184,61.7 184.1,58 184.1,56.8 184.2,64.1 184.2,64.2 184.3,59.6 184.3,59.9 184.4,54.2 184.4,53.8 184.5,60.9 184.5,63.6 184.5,60.2 184.6,61.3 184.6,57.7 184.6,56.1 184.7,59.5 184.7,59 184.8,54.2 184.8,60.1 184.9,53.4 185,53.4 185,54.9 185,62.1 185.1,58.5 185.1,56.5 185.1,52.6 185.2,53 185.2,65.7 185.3,68.3 185.3,66.1 185.4,64.3 185.4,60.5 185.4,60.2 185.5,65.1 185.5,68.5 185.6,63.7 185.6,63.5 185.7,57.4 185.7,57.1 185.8,62.6 185.8,62.5 185.8,66.6 185.9,61.8 186,53.1 186,51.1 186,65.1 186.1,65.1 186.1,63.6 186.2,63.9 186.2,55.9 186.2,60.4 186.3,63.7 186.3,68.1 186.4,62.6 186.4,61.3 186.4,49.1 186.5,54.9 186.6,60.3 186.6,57.2 186.6,58.4 186.7,57.5 186.7,51.8 186.8,51.2 186.8,56.1 186.9,60.3 186.9,55 186.9,60.2 187,50.9 187,52 187.1,59.7 187.1,61.3 187.2,57.7 187.2,56.9 187.3,52.4 187.3,49.1 187.4,55.4 187.4,54.9 187.4,57.1 187.5,57.1 187.5,52.9 187.6,53.7 187.6,59.4 187.7,61.9 187.7,58.8 187.7,57.6 187.8,50.5 187.8,50.4 187.9,59.3 187.9,59.1 188,62.8 188,62.4 188.1,55.5 188.1,54 188.2,59.3 188.2,60.2 188.2,63.6 188.3,64 188.3,58.5 188.4,60.8 188.4,58.5 188.4,60.6 188.5,56.4 188.5,56.1 188.6,53.2 188.7,53.1 188.7,55.8 188.7,55.2 188.8,52.2 188.8,52 188.8,46.9 188.9,47.7 188.9,55.3 189,59.2 189,52.9 189.1,52.3 189.1,46.1 189.1,46.6 189.2,49.8 189.3,46.6 189.3,50 189.3,50.3 189.4,47.7 189.4,46.7 189.5,53.3 189.5,55.3 189.6,49.6 189.6,50.5 189.7,45 189.7,43.9 189.7,49.4 189.8,49.2 189.8,53.7 189.8,52.1 189.9,45.7 189.9,47.3 190,52 190,53.6 190.1,50.8 190.1,50.6 190.2,45.5 190.2,44.3 190.3,55.2 190.3,55.9 190.4,49.7 190.4,47.9 190.5,42.9 190.5,44.1 190.5,50.5 190.6,50.6 190.6,52.1 190.6,50.1 190.7,45.8 190.7,45.3 190.8,47.6 190.8,50.5 190.9,52.8 190.9,54.9 191,43.3 191,42.2 191.1,48.9 191.1,51.4 191.2,49.1 191.2,48.6 191.2,43.3 191.3,43.7 191.3,51.6 191.4,53.2 191.4,45.9 191.4,45.3 191.5,40.9 191.5,41.1 191.6,48.5 191.7,51 191.7,47 191.7,46.3 191.8,36.3 191.8,37.2 191.9,48.6 191.9,49.5 191.9,55.8 192,53.8 192,47.1 192.1,47.6 192.1,54.5 192.1,56.3 192.2,59.2 192.2,57.1 192.3,51.1 192.3,50.9 192.4,54.5 192.4,53.4 192.4,55.5 192.5,51.3 192.6,46.7 192.6,45.7 192.7,53.4 192.7,52.3 192.7,55 192.8,51.2 192.8,48.9 192.8,49.3 192.9,56.9 193,58.1 193,54.4 193,52.5 193.1,44.7 193.1,44.1 193.2,47.8 193.2,46.1 193.3,49.6 193.3,48.1 193.4,46.1 193.4,45.1 193.5,48.6 193.5,50.7 193.5,53 193.6,49.6 193.6,40.1 193.6,47.2 193.7,52.4 193.8,55.7 193.8,49.9 193.8,46.7 193.9,33.7 193.9,31.1 194,45.3 194,44.5 194.1,42.1 194.1,42.9 194.2,41.2 194.2,40.1 194.2,49.6 194.3,51.9 194.3,48.6 194.4,47.8 194.4,42.6 194.5,40.2 194.5,46.4 194.6,49.5 194.6,45.7 194.6,45.1 194.7,40.1 194.7,39.8 194.8,50.2 194.8,49 194.8,53.1 194.9,48.6 195,44.7 195,42.7 195,40.4 195.1,54.3 195.1,46.5 195.1,44.3 195.2,36.2 195.2,37.1 195.3,48.4 195.3,51.1 195.4,46.3 195.4,44.3 195.5,41 195.5,42.5 195.6,50.3 195.6,49.8 195.6,46.4 195.7,46.3 195.7,41.6 195.8,42.3 195.8,46.7 195.8,47.5 195.9,50.3 195.9,49.7 196,39.9 196,39.8 196.1,43.1 196.1,43.6 196.2,40.3 196.3,36.6 196.3,44.8 196.3,37.9 196.4,41.3 196.4,43.2 196.4,48.6 196.5,48.4 196.5,43.8 196.5,45.4 196.6,51 196.7,51.8 196.7,50.4 196.7,51.5 196.8,56.8 196.8,49.4 196.9,54.8 196.9,59.3 197,55.3 197,55.1 197,51.1 197.1,53.2 197.2,58.2 197.2,58.9 197.2,53.3 197.3,51.9 197.3,44.9 197.4,44 197.4,47.8 197.4,52 197.5,47.1 197.5,49.1 197.6,46.4 197.6,45.7 197.7,50.9 197.7,53.5 197.7,46.1 197.8,49.3 197.8,39.3 197.9,36.6 197.9,45.5 198,49.1 198,46 198.1,46.3 198.1,40.3 198.1,40.5 198.2,49.5 198.3,53.3 198.3,50.7 198.3,48.9 198.4,43.1 198.4,43.6 198.5,53.8 198.5,56.3 198.6,52.9 198.6,50.4 198.6,44.4 198.7,45.6 198.7,51 198.8,55.9 198.8,50 198.8,47.6 198.9,40.5 198.9,42.2 199,50.4 199.1,50.6 199.1,47.9 199.1,47.4 199.2,42.5 199.2,46.8 199.2,44.2 199.3,47.5 199.3,51.4 199.4,49.6 199.4,42.2 199.5,38.9 199.5,48.2 199.5,50.1 199.6,49.2 199.6,49.2 199.7,41.6 199.7,40.6 199.8,51.6 199.8,51 199.9,49.1 199.9,48.5 199.9,44.1 200.1,43.3 200.1,44.6 200.1,45.5 200.1,36.9 200.2,38.7 200.2,41.9 200.3,41.5 200.3,49.9 200.3,50.8 200.4,55 200.4,50 200.5,45.6 200.5,44.9 200.6,52.8 200.6,52.6 200.7,55.4 200.7,52.7 200.8,45.8 200.8,45.8 200.8,48.5 200.9,51 200.9,48.3 201,47.7 201,42.6 201.1,41.4 201.1,47.2 201.2,49.4 201.2,45.3 201.2,44.9 201.3,36.6 201.3,38.8 201.4,44.7 201.4,44.7 201.5,41.9 201.5,41.2 201.5,43.9 201.6,41.9 201.6,47 201.7,48.1 201.7,45.6 201.8,46.5 201.8,40.6 201.8,43.7 201.9,48.2 201.9,51.4 202,47.7 202,47.8 202.1,43.4 202.1,45 202.2,50 202.2,50.5 202.3,43.6 202.3,43.2 202.3,38.6 202.4,36.9 202.4,42.9 202.5,46.8 202.5,41.9 202.5,38.7 202.6,29.6 202.6,29.2 202.7,39 202.7,40.8 202.8,43.3 202.8,41.1 202.9,34.5 202.9,36.6 203,45.6 203,45.1 203,48.6 203.1,46.6 203.1,40.7 203.2,44.7 203.2,48.8 203.3,48.2 203.3,52.7 203.3,47.3 203.4,38 203.4,36.5 203.5,42.3 203.5,43.2 203.5,46.4 203.6,42 203.7,32 203.7,34.9 203.8,40.8 203.8,42.7 203.9,39.2 203.9,39 203.9,33.3 204,34.1 204,39.8 204,41.8 204.1,45.4 204.1,43.1 204.2,36.6 204.2,35.6 204.3,44.8 204.4,48.6 204.4,47.1 204.4,45.7 204.5,36.8 204.5,36.8 204.6,48.7 204.6,51 204.7,47.7 204.7,46.4 204.7,41.8 204.8,42.3 204.8,48.2 204.8,48.9 204.9,51.6 204.9,49.4 205,42.9 205,43.8 205.1,47.6 205.1,50.2 205.2,47.3 205.2,46.9 205.3,38.4 205.3,37.2 205.4,43.7 205.4,40.3 205.4,42.2 205.5,44.3 205.5,38.5 205.6,37.9 205.6,42.5 205.7,47.1 205.7,44.5 205.7,43 205.8,34.4 205.9,34.5 205.9,37.4 205.9,41.1 205.9,38.6 206,35.6 206.1,37.4 206.1,34.7 206.1,39.1 206.2,40 206.2,38.3 206.3,36.9 206.3,30.1 206.3,30 206.4,38.8 206.4,38.7 206.5,44 206.5,47.9 206.6,37.6 206.6,35.6 206.7,38.9 206.7,41 206.8,34.6 206.8,32.8 206.8,35.2 206.9,34.3 206.9,44.5 207,44.8 207,41.7 207.1,49.6 207.1,40.2 207.2,41.7 207.2,47 207.2,45.7 207.3,47.8 207.3,47.1 207.4,40.2 207.4,39.8 207.5,44.1 207.6,45 207.6,43.1 207.6,42.9 207.7,34.3 207.7,32.4 207.7,39.8 207.8,40.3 207.8,38.3 207.8,37.9 207.9,34.1 207.9,34.7 208,43.7 208,47.4 208.1,42.5 208.1,40.3 208.2,28.4 208.2,27.7 208.3,38.9 208.3,40.2 208.4,37.3 208.4,36.6 208.4,32.5 208.5,34.1 208.5,38.6 208.5,39.3 208.6,44.3 208.6,42.2 208.7,36.2 208.7,37 208.8,45.5 208.8,47.6 208.9,43.5 208.9,41.6 209,35.1 209,35.8 209.1,43.9 209.1,45.1 209.2,40.3 209.2,38.8 209.2,37.5 209.3,37.4 209.3,42.1 209.4,46 209.4,42.6 209.4,39.7 209.5,35.2 209.5,37.9 209.6,41.2 209.6,42.2 209.6,44.4 209.7,44.5 209.8,36.5 209.8,35.7 209.9,38.3 209.9,39.5 209.9,42.7 210,41.3 210,35.1 210,34.2 210.1,38 210.2,40.5 210.2,38.1 210.2,37.5 210.3,32.6 210.3,32.8 210.4,41 210.4,43.5 210.5,40.8 210.5,39.8 210.6,30.7 210.6,31.4 210.6,38.8 210.7,41.9 210.7,37.6 210.7,36.2 210.8,27.9 210.8,29.3 210.9,39.2 211,42.5 211,39.9 211,39.1 211.1,33.3 211.1,32.1 211.2,38.9 211.2,42.8 211.3,39.3 211.3,35.9 211.3,28.7 211.4,26.6 211.4,33.6 211.5,32 211.5,34.9 211.6,32.9 211.6,30.8 211.6,31.8 211.7,37.8 211.8,39.1 211.8,36.4 211.8,35.6 211.9,28.2 211.9,23.8 212,38.3 212,39.3 212,42.3 212.1,40.2 212.1,31.8 212.2,31.9 212.2,37.9 212.3,38.2 212.3,33.2 212.3,37 212.4,32.9 212.4,33.7 212.5,36.6 212.5,38.8 212.6,43.4 212.6,40.6 212.7,26.6 212.7,32.9 212.8,44 212.8,46.5 212.9,41.2 212.9,41 212.9,36.7 213,37.5 213,41.7 213.1,54 213.1,41.2 213.1,39 213.2,36.4 213.2,36 213.3,39.4 213.3,41.8 213.4,36.8 213.4,36 213.5,32.3 213.5,33.4 213.6,38.6 213.6,41.2 213.6,37.4 213.7,37.5 213.7,29.7 213.7,30.7 213.8,39.6 213.9,36.2 213.9,39.2 213.9,35.5 214,30.8 214,31.9 214.1,35.7 214.1,38.4 214.1,41.7 214.2,37.6 214.3,25.7 214.3,25.7 214.4,31.5 214.4,33.5 214.4,30.1 214.5,29 214.5,24.8 214.6,28.6 214.6,36 214.7,38.3 214.7,33.7 214.7,33.4 214.8,27.7 214.8,27 214.9,35.3 214.9,38.3 215,34.8 215,34.2 215,31.9 215.1,30.2 215.1,34.9 215.2,38.6 215.2,35.5 215.2,34.9 215.3,24.3 215.3,23.7 215.4,34.6 215.4,33.7 215.5,37.1 215.5,34.5 215.6,28.8 215.6,28.9 215.7,40.5 215.7,41.4 215.8,34.9 215.8,34.1 215.8,28 215.9,29.6 215.9,32.8 216,35.1 216,30.5 216.1,27 216.1,30.4 216.2,29.5 216.2,32.4 216.2,44 216.3,31.3 216.3,32.2 216.4,19.9 216.4,20.9 216.5,32.7 216.5,33 216.5,36.6 216.6,32.7 216.6,28.1 216.7,29.4 216.7,34.1 216.8,37.3 216.8,33.5 216.8,31.3 216.9,22.4 216.9,24.2 217,35.8 217.1,39.8 217.1,35.5 217.1,34.1 217.2,24.8 217.2,27 217.3,33.6 217.3,34.8 217.3,31.6 217.4,32 217.4,22.5 217.5,22 217.5,28.1 217.6,30.7 217.6,28 217.6,28.2 217.7,24.5 217.7,23.3 217.8,32.2 217.8,34.7 217.9,29.4 217.9,28.1 217.9,22 218,21.5 218.1,28.5 218.1,32 218.1,29.1 218.2,28 218.2,23 218.3,23.9 218.3,31.7 218.3,33.4 218.4,36.4 218.4,32.7 218.5,26.7 218.5,25.4 218.6,33.7 218.6,34 218.7,31.4 218.7,31.8 218.8,27.4 218.8,29 218.8,26 218.9,27.8 218.9,36.1 219,31.1 219,28.4 219.1,30.7 219.1,33.3 219.2,33.7 219.2,31.5 219.2,32.5 219.3,26.9 219.3,28.1 219.4,32.2 219.4,32.5 219.4,36.3 219.5,33.4 219.5,31.2 219.6,32.6 219.6,38.4 219.7,38.1 219.7,34.5 219.7,33.5 219.8,29.7 219.9,28.2 219.9,31.5 219.9,32.2 220,34.2 220,31.4 220,26.6 220.1,29.1 220.2,33.3 220.2,38.5 220.3,34.2 220.3,33.5 220.4,24.5 220.4,25.6 220.4,36.3 220.5,39.3 220.5,32.6 220.5,31.7 220.6,27.5 220.6,24.6 220.7,33.6 220.7,36.5 220.8,32.3 220.8,31.2 220.9,23.8 220.9,24.2 221,35.7 221,35.3 221,37.8 221.1,34.6 221.1,25.7 221.2,25.7 221.2,31.3 221.3,33.1 221.3,28.2 221.3,29.7 221.4,24.4 221.4,25.2 221.5,33 221.5,36.7 221.6,31.5 221.6,30.8 221.7,25.4 221.7,27.1 221.8,34.2 221.8,34.2 221.8,31.3 221.9,31.3 221.9,23.5 222,25 222,32.6 222.1,36.6 222.1,32.3 222.1,32.6 222.2,21.5 222.2,22 222.3,29.4 222.3,29.9 222.4,25.4 222.4,26.4 222.5,24.1 222.5,23.3 222.6,29.9 222.6,30.7 222.6,29.1 222.7,28.6 222.7,25.3 222.8,25.9 222.8,30.6 222.8,30.6 222.9,35.8 222.9,35 222.9,31.3 223,32 223.1,35.8 223.1,40.3 223.2,37.1 223.2,35.1 223.2,30.9 223.3,36.2 223.3,32.3 223.4,33.7 223.4,36.5 223.5,35.4 223.5,33.9 223.5,33.4 223.6,36.7 223.6,39.3 223.7,40.7 223.7,39.3 223.8,31.2 223.8,30.4 223.9,36.3 223.9,35.3 223.9,37.4 224,36.8 224,30.5 224.1,29.2 224.1,35.3 224.2,34.6 224.2,32.5 224.3,31.8 224.3,34.3 224.3,34.3 224.4,38.9 224.4,40.8 224.5,37.5 224.5,36.4 224.6,32.4 224.6,32.5 224.7,36.7 224.7,36.5 224.7,34.5 224.8,33.4 224.8,28.3 224.9,28.5 224.9,33.1 225,34.1 225,32.4 225,33.4 225.1,21.8 225.1,28.3 225.2,34.8 225.3,38 225.3,34.8 225.3,33.2 225.4,26.7 225.4,27.6 225.4,31.9 225.5,35 225.6,31.5 225.6,29.6 225.6,24 225.7,22.6 225.7,29.7 225.8,28.2 225.8,31.1 225.8,30.9 225.9,34.1 225.9,31.2 226,37.7 226,39.5 226.1,30.4 226.1,30.7 226.2,26 226.2,27 226.3,36.9 226.3,34.4 226.3,36.2 226.4,35.4 226.4,32.3 226.4,32.7 226.5,36.9 226.5,36.5 226.6,38.7 226.6,35.9 226.7,31.4 226.7,32.7 226.8,36.7 226.8,39.5 226.9,34.9 226.9,33.5 227,29.5 227,29.6 227.1,40.4 227.1,35.4 227.1,41.2 227.2,37.4 227.2,30.9 227.2,30.6 227.3,35.1 227.4,39.4 227.4,36.1 227.4,34.3 227.5,27.6 227.5,27.4 227.6,33.9 227.7,36.5 227.7,33.6 227.7,32.4 227.7,26.9 227.8,22.2 227.8,36.5 227.9,38.5 227.9,42.7 227.9,37.1 228,31.5 228.1,24.3 228.1,37.3 228.2,37.1 228.2,34.2 228.2,34.2 228.2,31.1 228.3,32.9 228.4,37.4 228.4,40.5 228.5,35.5 228.5,34.1 228.5,26.8 228.6,28.2 228.6,37 228.7,39.4 228.7,34.5 228.7,34.1 228.8,27.5 228.8,27.7 228.9,37.4 229,37.2 229,35.2 229,35.6 229.1,29.1 229.1,29.8 229.2,35.6 229.2,34.7 229.3,32.9 229.3,31.8 229.3,30 229.4,29.9 229.4,31 229.4,33.6 229.5,38.2 229.5,34.5 229.6,32.1 229.6,31.4 229.7,38.3 229.7,40.1 229.8,36.8 229.8,34.2 229.9,30.4 229.9,31 230,38 230,41.1 230.1,38.3 230.1,36.9 230.1,28.4 230.2,29.1 230.2,35.7 230.2,37.9 230.3,34.5 230.3,32.2 230.4,28.2 230.4,27.3 230.5,32.4 230.5,34 230.5,38.8 230.6,34.1 230.7,30.7 230.7,30.1 230.8,36.7 230.8,37.8 230.8,36 230.9,36.9 230.9,32.3 230.9,32.3 231,35.2 231,37.6 231.1,40.5 231.1,38.9 231.2,30 231.2,31 231.3,39.4 231.3,40.1 231.4,37.3 231.4,36.2 231.5,28.7 231.5,28.7 231.5,34.1 231.6,35.4 231.6,37.2 231.7,34.1 231.7,26.1 231.7,27.9 231.8,34.3 231.9,34.2 231.9,31.6 231.9,31.9 232,29.2 232,28.8 232.1,30.2 232.1,29.4 232.2,34.6 232.2,34.2 232.3,28.9 232.3,28.6 232.3,35.4 232.4,38.5 232.4,41 232.4,39.5 232.5,30.8 232.5,30.5 232.6,36 232.7,37.5 232.7,33.7 232.7,33 232.8,29.3 232.8,31.1 232.9,34.3 232.9,39.8 233,34.8 233,32.5 233.1,22.8 233.1,24.3 233.1,33.9 233.2,34 233.2,37.2 233.2,35.8 233.3,30.5 233.3,30 233.4,37 233.4,42.1 233.5,38.9 233.5,37.8 233.6,30.3 233.6,30.9 233.7,37.9 233.7,38 233.8,35.4 233.8,33.3 233.8,34.7 233.9,33.8 233.9,37.3 233.9,37.6 234,40 234,38 234.1,33.5 234.1,34.6 234.2,37.2 234.2,35.6 234.2,38.6 234.3,36.9 234.3,31.2 234.4,32 234.5,40.2 234.5,44.6 234.6,41.1 234.6,40.1 234.6,30.3 234.7,31.3 234.7,40.3 234.8,41 234.8,36.6 234.8,36.4 234.9,32.4 234.9,33.5 235,32 235,37.3 235.1,34.4 235.1,34.1 235.2,26.7 235.2,26 235.3,33.5 235.3,30.3 235.3,32.7 235.4,29.6 235.4,26.9 235.4,28.5 235.5,36.7 235.5,36 235.6,39.2 235.6,35.4 235.7,33.7 235.7,33.5 235.8,37.7 235.8,39.5 235.9,36.4 235.9,36.2 236,29.7 236,29.3 236.1,39.4 236.1,41 236.1,37.8 236.2,37.2 236.2,33.7 236.2,34.4 236.3,39.9 236.4,41 236.4,39.1 236.4,38.8 236.4,36.8 236.5,38.1 236.6,43 236.6,43.8 236.6,41.8 236.7,41.9 236.7,40.8 236.8,41.2 236.8,43.7 236.9,45.3 236.9,47.2 236.9,44.5 237,40 237,41.5 237.1,45.7 237.2,46.6 237.2,42.3 237.2,41.9 237.3,37.5 237.3,38.8 237.4,41.9 237.4,45.9 237.5,39.1 237.5,37.8 237.6,29.5 237.6,30.9 237.6,41.8 237.7,44.4 237.7,42.5 237.7,41.1 237.8,31.7 237.8,31.7 237.9,41.2 237.9,41.8 238,44.8 238,41.1 238.1,37.1 238.1,37.8 238.2,44.3 238.2,50.3 238.3,45.9 238.3,45.5 238.3,38 238.4,39.1 238.4,47.6 238.4,48.6 238.5,43 238.5,42.9 238.6,36.8 238.6,37.5 238.7,47.4 238.7,47.6 238.8,41.1 238.8,39.2 238.9,33.7 238.9,35.8 239,42.1 239,43.3 239,39.5 239.1,40.8 239.1,33.3 239.2,33.6 239.2,37.2 239.2,38.7 239.3,40.9 239.3,38.4 239.4,27.1 239.4,29.6 239.5,40.6 239.5,43.8 239.5,41.1 239.6,42.5 239.6,40.2 239.7,40.4 239.7,44.6 239.8,45.8 239.8,41.5 239.9,40.8 239.9,33.7 240,33.1 240,38.6 240,39.2 240.1,42.1 240.2,40.3 240.2,38.7 240.2,38 240.3,42.9 240.3,44.5 240.3,47.5 240.4,43 240.5,37.9 240.5,38.7 240.5,45.6 240.6,47.7 240.6,44.8 240.6,44.3 240.7,35.7 240.7,34.6 240.8,43.1 240.9,48.8 240.9,43.4 240.9,42.3 241,35.8 241,34.9 241.1,43.2 241.1,44 241.2,38.2 241.2,38.1 241.3,32.5 241.3,33.1 241.3,38.1 241.4,39.6 241.4,41.8 241.5,39.4 241.5,30.3 241.5,31.1 241.6,39.7 241.6,43.9 241.7,40.1 241.7,38.1 241.8,33.5 241.8,31.5 241.9,35.1 241.9,37.2 241.9,39.5 242,35.7 242,30.8 242.1,30.6 242.1,41.8 242.1,43.6 242.2,46 242.2,44.6 242.3,31 242.3,35.8 242.4,47 242.4,48.9 242.4,44.9 242.5,46.2 242.6,39.8 242.6,38.2 242.7,41.1 242.7,42 242.8,38.5 242.8,37.8 242.8,34.5 242.9,36.1 242.9,43.5 243,45.6 243,41.9 243,41.7 243.1,36.8 243.1,36.2 243.2,42.6 243.2,42.5 243.3,38.6 243.3,38.5 243.3,33.3 243.4,34.1 243.5,42 243.5,41.5 243.5,46.6 243.6,44 243.6,39.2 243.6,40.8 243.7,48.4 243.7,47.7 243.8,44.6 243.8,44.3 243.9,38.6 243.9,39.5 244,44.6 244,46.5 244.1,51.3 244.1,48.4 244.2,40.5 244.2,40.1 244.3,45.7 244.3,45.9 244.3,42.6 244.4,43.1 244.4,40 244.5,40.1 244.5,48 244.5,50.5 244.6,47.6 244.6,47.5 244.7,39.6 244.7,41.4 244.8,47.4 244.8,49.7 244.9,46.3 244.9,45.1 244.9,37.4 245,38.2 245,48.4 245.1,51.8 245.1,44.8 245.2,44 245.2,37.9 245.2,39.8 245.3,48.4 245.4,48.8 245.4,46.4 245.4,48 245.5,45.1 245.5,45.4 245.6,47.6 245.6,48.9 245.7,45.3 245.7,46.7 245.7,42.1 245.8,47.7 245.8,40.6 245.9,52.6 245.9,48.6 245.9,51.3 246,40.5 246,42.6 246.1,45.9 246.2,47.9 246.2,44.7 246.2,43.4 246.3,37 246.3,31 246.4,46.8 246.4,45.7 246.4,42.9 246.5,44.5 246.5,42.3 246.6,43.6 246.6,48.7 246.7,50.8 246.7,48.9 246.7,47.7 246.8,39.3 246.8,38.3 246.9,42.9 247,47.7 247,44.8 247,42.1 247.1,35.9 247.1,35.7 247.2,46.5 247.2,47.9 247.2,50.9 247.3,48.5 247.3,45.1 247.4,45.9 247.4,57.4 247.5,58.3 247.5,55.7 247.5,54.9 247.6,47.5 247.6,46.3 247.7,52.3 247.7,54.4 247.8,49.1 247.8,48.2 247.9,41.5 247.9,40.7 247.9,44.3 248,47.1 248,51.7 248.1,48.3 248.1,42 248.1,42.2 248.2,51 248.3,51.6 248.3,47 248.3,49.7 248.4,45.7 248.4,45.8 248.5,51.3 248.5,50.7 248.6,56.8 248.6,51.7 248.6,39.7 248.7,41.7 248.8,50.9 248.8,49.9 248.8,46.3 248.9,45.2 248.9,36.9 248.9,37.8 249,46.9 249,48.6 249.1,51.4 249.1,48.1 249.2,44.2 249.2,46.8 249.3,52.7 249.3,56.8 249.3,48.2 249.4,52.4 249.5,43.8 249.5,42 249.5,52.7 249.6,53.3 249.6,51.1 249.6,49.7 249.7,44.8 249.8,43.2 249.8,50.1 249.9,55.2 249.9,51.6 249.9,48.2 250,41.1 250,41.6 250.1,51.3 250.1,52.7 250.2,49.6 250.2,49.2 250.2,44.3 250.3,46.2 250.3,50.6 250.4,53.7 250.4,52.2 250.4,53.6 250.5,50.2 250.6,51.1 250.6,53.7 250.6,57.9 250.7,54.7 250.7,51.2 250.8,45 250.8,47.2 250.9,52.2 250.9,55.3 251,51.3 251,51.2 251,42.5 251.1,42.5 251.1,54.6 251.1,55 251.2,51.3 251.2,49.4 251.3,42.1 251.3,40.9 251.4,48.2 251.4,46.3 251.5,52 251.5,46.1 251.6,39.3 251.6,37.9 251.7,41.5 251.7,43.9 251.7,42.7 251.8,44 251.8,45 251.9,44.9 251.9,50.9 251.9,54.2 252,51.9 252,52.4 252.1,46.7 252.1,46.3 252.2,53.4 252.2,51.9 252.3,54.7 252.3,53.6 252.3,46.1 252.4,46.6 252.5,50.3 252.5,52.1 252.5,55 252.6,52.1 252.6,47.6 252.6,47.7 252.7,54.9 252.8,55.4 252.8,52.8 252.8,51.7 252.9,44.6 252.9,45.7 252.9,49.5 253,51.8 253.1,54.9 253.1,52.7 253.2,41.1 253.2,41.3 253.3,51.2 253.3,51.4 253.3,54.1 253.3,55.7 253.4,48.1 253.4,47.5 253.5,51.4 253.6,54 253.6,51.9 253.6,51 253.7,46 253.7,46.9 253.8,53.7 253.8,56.8 253.9,52.9 253.9,54.2 253.9,51.4 254,51.4 254,59.5 254.1,63.7 254.1,61.8 254.1,60 254.2,54 254.2,46.8 254.3,57.3 254.3,61.9 254.4,56.6 254.4,58 254.5,50.6 254.5,50.9 254.6,72.2 254.6,62.9 254.7,65.5 254.7,60.8 254.7,53.9 254.8,52.6 254.8,58.2 254.9,63.1 254.9,59.1 254.9,58.3 255,45.4 255,45.7 255.1,54 255.1,55 255.2,51 255.2,49 255.3,42.3 255.3,42.7 255.4,52.3 255.4,52.4 255.4,55 255.5,54.7 255.5,51 255.6,53.6 255.6,59.9 255.7,58.9 255.7,56 255.8,55.4 255.8,51.7 255.8,48.7 255.9,52.9 255.9,55.6 256,53.4 256,52.4 256.1,48.5 256.1,50.4 256.1,52.8 256.2,53.1 256.2,56.3 256.3,53.9 256.3,49.3 256.3,50.3 256.4,57.9 256.5,58.3 256.5,61.9 256.5,58.5 256.6,51.1 256.6,51.1 256.7,56.4 256.7,57.4 256.8,61.4 256.8,60.8 256.9,51.5 256.9,51.4 256.9,57.3 257,61.7 257,54.2 257.1,52 257.1,44.1 257.2,44.6 257.2,50.3 257.3,54.8 257.3,51 257.3,50.2 257.4,42.7 257.4,44.4 257.5,55.4 257.5,56.6 257.6,50 257.6,49.6 257.7,38.2 257.7,44.1 257.7,53.6 257.8,52.2 257.8,56.2 257.8,51.5 257.9,46.6 257.9,47.3 258,52.7 258,52.5 258.1,58.4 258.1,56.9 258.2,51.5 258.2,52.2 258.2,50.4 258.3,53.6 258.3,57.9 258.4,54.1 258.4,49.6 258.5,52.3 258.5,54.8 258.6,54.8 258.6,51 258.6,50.9 258.7,46 258.8,47.6 258.8,50.7 258.9,54.3 258.9,45.9 258.9,44.9 259,40.6 259,43.3 259.1,49.9 259.1,50.9 259.1,53.8 259.2,49.4 259.2,42 259.3,43.5 259.3,55.7 259.3,54.6 259.4,56 259.5,55.1 259.5,49.3 259.5,50.4 259.6,52.9 259.6,52.1 259.7,54.7 259.7,51.1 259.8,47.3 259.8,48.8 259.9,56.4 259.9,58.2 260,54.9 260,54.5 260,50.9 260.1,54.9 260.1,59.1 260.1,62.6 260.2,66.2 260.2,62.7 260.3,53.6 260.3,53.5 260.4,61.8 260.4,64.5 260.5,59.2 260.5,57.2 260.6,50.1 260.6,48 260.7,63.6 260.7,62.9 260.7,65.4 260.8,63.5 260.8,59.2 260.9,58.6 260.9,63 261,66.2 261,63.9 261,62.7 261.1,56.7 261.1,56.5 261.2,62.3 261.2,62.5 261.3,60.5 261.3,58 261.4,52.7 261.4,55.3 261.5,61.6 261.5,62.8 261.5,59.9 261.6,61 261.6,58.3 261.6,57.7 261.7,65.3 261.8,70.1 261.8,64.3 261.8,63.2 261.9,57.8 261.9,61.2 262,67.1 262,67.9 262,70.4 262.1,67.1 262.1,57.7 262.2,57.9 262.2,63.3 262.3,60.3 262.3,63.9 262.3,61.8 262.4,57.7 262.4,57.8 262.5,59.6 262.5,62.1 262.6,60 262.6,57.7 262.7,53.1 262.7,55.1 262.8,63 262.8,63.5 262.8,68.6 262.9,65.4 262.9,55.9 263,57 263,63.6 263.1,66.4 263.1,62.2 263.2,61.2 263.2,55 263.3,57 263.3,64.1 263.3,67.6 263.4,62 263.4,61.6 263.5,55.2 263.5,55.6 263.6,65.6 263.6,68.8 263.6,62.6 263.7,62.2 263.7,56.5 263.8,55.4 263.8,66 263.8,64.9 263.9,62.4 263.9,61 264,55.2 264,56.7 264.1,67.7 264.2,71.2 264.2,68 264.2,65.6 264.2,61 264.3,61.6 264.4,72.1 264.4,74.4 264.5,70.2 264.5,69.6 264.5,66 264.6,66.6 264.6,71.4 264.7,74.4 264.7,70.9 264.7,68.3 264.8,59.7 264.8,61.4 264.9,71.3 264.9,76.4 265,68.5 265,67 265,62.7 265.1,61.9 265.2,68 265.2,71.8 265.2,67.7 265.3,66.9 265.3,59.8 265.4,57.3 265.4,60.8 265.4,61.6 265.5,64.4 265.5,62.2 265.6,54.2 265.6,53.1 265.7,58.4 265.7,57.7 265.7,64 265.9,63.7 265.9,56.4 265.9,63.9 266,69.5 266,71.3 266,68.1 266.1,65.9 266.1,59 266.1,58.7 266.2,68.3 266.2,66.2 266.3,69.2 266.3,66.9 266.4,62.5 266.4,61.5 266.5,65.6 266.5,69.1 266.6,63.5 266.6,63 266.7,58.6 266.7,54.2 266.7,61.4 266.8,66.5 266.8,61.4 266.9,65.1 266.9,57.9 266.9,58.3 267,64.6 267.1,65.5 267.1,61.4 267.2,62.9 267.2,60.6 267.2,59.7 267.3,66.7 267.3,68.9 267.4,66 267.4,67.2 267.4,59.9 267.5,59.6 267.5,64 267.6,62.3 267.6,65.8 267.6,65.3 267.7,63 267.7,61.5 267.8,69.4 267.8,74.5 267.9,70.6 267.9,69.3 268,60.3 268,60 268.1,63.8" fill="none" stroke="#a3a3a3" stroke-width="0.45" stroke-opacity="1.0" stroke-linejoin="round"/>
<rect x="168.1" y="6.6" width="104.5" height="84.6" fill="none" stroke="#8c8c8c" stroke-width="0.9"/>
<line x1="166.2" y1="15.9" x2="168.1" y2="15.9" stroke="#555" stroke-width="0.6"/>
<text x="165.2" y="18.2" text-anchor="end">320</text>
<line x1="166.2" y1="34.6" x2="168.1" y2="34.6" stroke="#555" stroke-width="0.6"/>
<text x="165.2" y="36.9" text-anchor="end">300</text>
<line x1="166.2" y1="53.2" x2="168.1" y2="53.2" stroke="#555" stroke-width="0.6"/>
<text x="165.2" y="55.5" text-anchor="end">280</text>
<line x1="166.2" y1="71.9" x2="168.1" y2="71.9" stroke="#555" stroke-width="0.6"/>
<text x="165.2" y="74.2" text-anchor="end">260</text>
<line x1="166.2" y1="90.6" x2="168.1" y2="90.6" stroke="#555" stroke-width="0.6"/>
<text x="165.2" y="92.9" text-anchor="end">240</text>
<line x1="182.5" y1="91.2" x2="182.5" y2="92.3" stroke="#777" stroke-width="0.5"/>
<line x1="204.6" y1="91.2" x2="204.6" y2="92.3" stroke="#777" stroke-width="0.5"/>
<line x1="226.6" y1="91.2" x2="226.6" y2="92.3" stroke="#777" stroke-width="0.5"/>
<line x1="248.7" y1="91.2" x2="248.7" y2="92.3" stroke="#777" stroke-width="0.5"/>
<line x1="167" y1="25.2" x2="168.1" y2="25.2" stroke="#777" stroke-width="0.5"/>
<line x1="167" y1="43.9" x2="168.1" y2="43.9" stroke="#777" stroke-width="0.5"/>
<line x1="167" y1="62.6" x2="168.1" y2="62.6" stroke="#777" stroke-width="0.5"/>
<line x1="167" y1="81.3" x2="168.1" y2="81.3" stroke="#777" stroke-width="0.5"/>
<line x1="171.5" y1="91.2" x2="171.5" y2="93" stroke="#555" stroke-width="0.6"/>
<text x="171.5" y="99.6" text-anchor="middle">0</text>
<line x1="193.6" y1="91.2" x2="193.6" y2="93" stroke="#555" stroke-width="0.6"/>
<text x="193.6" y="99.6" text-anchor="middle">2000</text>
<line x1="215.6" y1="91.2" x2="215.6" y2="93" stroke="#555" stroke-width="0.6"/>
<text x="215.6" y="99.6" text-anchor="middle">4000</text>
<line x1="237.7" y1="91.2" x2="237.7" y2="93" stroke="#555" stroke-width="0.6"/>
<text x="237.7" y="99.6" text-anchor="middle">6000</text>
<line x1="259.7" y1="91.2" x2="259.7" y2="93" stroke="#555" stroke-width="0.6"/>
<text x="259.7" y="99.6" text-anchor="middle">8000</text>
<text x="220.3" y="110.4" text-anchor="middle">Time (hours)</text>
<text transform="translate(152.2 48.9) rotate(-90)" text-anchor="middle">Sensible temperature (K)</text>
<line x1="190.8" y1="16.5" x2="204.3" y2="16.5" stroke="#a3a3a3" stroke-width="0.6" stroke-opacity="0.6"/>
<text x="207.5" y="18.3">Sensible temperature</text>
</g>
<g font-size="6.76">
<line x1="307.4" y1="17.6" x2="408.2" y2="17.6" stroke="#f0f0f0" stroke-width="0.5"/>
<line x1="307.4" y1="37.7" x2="408.2" y2="37.7" stroke="#f0f0f0" stroke-width="0.5"/>
<line x1="307.4" y1="57.8" x2="408.2" y2="57.8" stroke="#f0f0f0" stroke-width="0.5"/>
<line x1="307.4" y1="77.9" x2="408.2" y2="77.9" stroke="#f0f0f0" stroke-width="0.5"/>
<polyline points="310.5,57.6 310.7,70.4 310.9,64 311,60.8 311.2,64.2 311.4,62.9 311.6,67.7 311.8,65.1 312,63.9 312.1,47.1 312.3,50.6 312.5,76.9 312.7,55.8 312.9,62.6 313.1,67.2 313.2,61.5 313.4,58.6 313.6,57.4 313.8,54.2 314,54.4 314.2,55.1 314.3,48.7 314.5,51.7 314.7,53 314.9,53.9 315.1,53.2 315.3,48.2 315.4,52.3 315.6,53 315.8,52.4 316,55.9 316.2,55.6 316.4,52.7 316.5,52.1 316.7,53.5 316.9,48.4 317.1,63.8 317.3,52.2 317.5,57.5 317.6,64.5 317.8,59.8 318,49.2 318.2,53.6 318.4,57.5 318.6,56.9 318.7,52 318.9,48.9 319.1,43.8 319.3,46.2 319.5,44.9 319.7,46.9 319.8,54 320,48.5 320.2,49.1 320.4,49.5 320.6,53.6 320.8,51 320.9,63.3 321.1,54.4 321.3,50 321.5,57.5 321.7,49.5 321.9,54.2 322,47.7 322.2,60.3 322.4,60.5 322.6,49.6 322.8,43.1 323,54.1 323.1,54.6 323.3,46.9 323.5,49.3 323.7,40.8 323.9,50 324.1,45.8 324.2,53.3 324.4,42.5 324.6,46.5 324.8,46.1 325,57 325.2,42.9 325.3,43.1 325.5,43.2 325.7,39.2 325.9,40.6 326.1,43.6 326.2,50.3 326.4,50.8 326.6,42.8 326.8,52.1 327,50.9 327.2,48.2 327.3,46.4 327.5,41.1 327.7,47.7 327.9,59.1 328.1,52.1 328.3,42.9 328.4,39.6 328.6,40.9 328.8,42.4 329,44.4 329.2,44.5 329.4,42.5 329.5,43.6 329.7,42.3 329.9,44.8 330.1,39.3 330.3,43.3 330.5,36.9 330.6,34.2 330.8,32.1 331,41.7 331.2,45.3 331.4,49.5 331.6,41.7 331.7,57.8 331.9,40.9 332.1,40.1 332.3,48.6 332.5,51.9 332.7,49.1 332.8,44.4 333,43.2 333.2,32.6 333.4,36.9 333.6,38.8 333.8,41.7 333.9,36.9 334.1,36.1 334.3,35.9 334.5,42.6 334.7,43.1 334.9,44.1 335,40.9 335.2,35.3 335.4,40.5 335.6,41.3 335.8,40.1 336,41.5 336.1,49.8 336.3,43.5 336.5,33.8 336.7,37.8 336.9,41.8 337.1,48.6 337.2,54.4 337.4,43.9 337.6,37.2 337.8,37.6 338,39.5 338.2,36.5 338.3,36.5 338.5,48.8 338.7,49 338.9,41.1 339.1,43.5 339.3,45 339.4,45 339.6,46 339.8,38.6 340,43.4 340.2,41.7 340.4,34.7 340.5,38.3 340.7,34.3 340.9,46.4 341.1,37.6 341.3,39.5 341.4,38.4 341.6,33.7 341.8,32.6 342,31.7 342.2,33.9 342.4,31.1 342.5,37.5 342.7,39 342.9,33.7 343.1,39.2 343.3,31.4 343.5,29.8 343.6,26.4 343.8,33.1 344,36.5 344.2,37.5 344.4,32.8 344.6,35.6 344.7,37.7 344.9,37.3 345.1,33.3 345.3,34.8 345.5,33.8 345.7,33.8 345.8,42.7 346,42 346.2,45.5 346.4,37.9 346.6,32.4 346.8,31.2 346.9,31.8 347.1,31.4 347.3,31.3 347.5,30 347.7,34.3 347.9,41.3 348,36.3 348.2,42.8 348.4,35.9 348.6,31.6 348.8,32.5 349,32.1 349.1,34 349.3,32.8 349.5,35.2 349.7,35.3 349.9,35.1 350.1,33.8 350.2,30.9 350.4,34.7 350.6,35.6 350.8,42.1 351,36.4 351.2,38.4 351.3,32.4 351.5,28.5 351.7,33.1 351.9,33 352.1,29.7 352.3,33.9 352.4,27.8 352.6,32.9 352.8,34.9 353,32.1 353.2,32.8 353.4,28.3 353.5,35.3 353.7,26.4 353.9,26.2 354.1,28.7 354.3,29.3 354.5,30.7 354.6,27.8 354.8,25.3 355,25.5 355.2,27.4 355.4,29.7 355.6,26.5 355.7,22.8 355.9,22.7 356.1,22.5 356.3,21.2 356.5,23.7 356.6,20.8 356.8,22 357,21.1 357.2,20.6 357.4,21.3 357.6,24.4 357.7,21.5 357.9,21 358.1,21.5 358.3,25 358.5,24.9 358.7,22.9 358.8,20.8 359,20.7 359.2,20.5 359.4,19.6 359.6,19.8 359.8,20.1 359.9,18.7 360.1,21.2 360.3,20.7 360.5,18.1 360.7,18.9 360.9,19.1 361,18 361.2,17.5 361.4,17.8 361.6,18.7 361.8,19.4 362,18.4 362.1,20.3 362.3,20.5 362.5,18.8 362.7,20.1 362.9,18 363.1,19.6 363.2,19.1 363.4,20.5 363.6,22.3 363.8,22.1 364,18.4 364.2,19.9 364.3,17.8 364.5,20.1 364.7,18.7 364.9,18.2 365.1,23 365.3,21.5 365.4,20.7 365.6,22.1 365.8,23 366,19.8 366.2,22.9 366.4,24.7 366.5,24.1 366.7,20.8 366.9,21.9 367.1,17.8 367.3,18.8 367.5,18.7 367.6,19.6 367.8,22.5 368,21.9 368.2,19.8 368.4,19.4 368.6,19.4 368.7,19.7 368.9,19.6 369.1,21.2 369.3,19.5 369.5,21.1 369.7,23.7 369.8,23.9 370,22.3 370.2,23.7 370.4,20.9 370.6,21.2 370.8,16.3 370.9,17.3 371.1,20.2 371.3,19.7 371.5,19.8 371.7,21.3 371.8,19.2 372,19.9 372.2,29.1 372.4,22 372.6,22.6 372.8,21.3 372.9,20.3 373.1,23.4 373.3,19.9 373.5,24.9 373.7,22.6 373.9,19.3 374,20.9 374.2,23.6 374.4,21 374.6,21.5 374.8,24.8 375,23 375.1,23.6 375.3,19.4 375.5,23.7 375.7,22.5 375.9,24.6 376.1,25.2 376.2,24.8 376.4,24.3 376.6,23 376.8,23 377,26.8 377.2,32.4 377.3,34.7 377.5,22.8 377.7,28.8 377.9,32.1 378.1,31.6 378.3,29.8 378.4,25.5 378.6,29.8 378.8,28.5 379,27.6 379.2,24.9 379.4,26.2 379.5,21.8 379.7,24.8 379.9,26.3 380.1,27.6 380.3,32.4 380.5,24.9 380.6,27.1 380.8,28.5 381,26.3 381.2,23.8 381.4,24.9 381.6,31.2 381.7,41.3 381.9,36 382.1,33.2 382.3,31.5 382.5,29.4 382.7,33.1 382.8,33.4 383,40.3 383.2,32.8 383.4,35.5 383.6,33.5 383.8,42.1 383.9,38 384.1,31.1 384.3,36.4 384.5,37.4 384.7,33.7 384.9,30.1 385,34.7 385.2,31.9 385.4,31.8 385.6,34.8 385.8,36.6 386,37.9 386.1,38 386.3,37.9 386.5,35.7 386.7,44.8 386.9,41.2 387,37 387.2,39.3 387.4,38.5 387.6,39.3 387.8,37.2 388,41 388.1,42.8 388.3,38.4 388.5,35.1 388.7,40.4 388.9,38.9 389.1,41.5 389.2,41 389.4,46.1 389.6,51.6 389.8,49.6 390,50.2 390.2,53.1 390.3,48 390.5,42.7 390.7,48.6 390.9,43.6 391.1,52.8 391.3,45.9 391.4,54.5 391.6,58.1 391.8,46.6 392,51.9 392.2,54.6 392.4,53.1 392.5,48.6 392.7,44.2 392.9,46.8 393.1,41.4 393.3,47.2 393.5,51.4 393.6,49 393.8,42.6 394,45.4 394.2,39.7 394.4,43.7 394.6,48 394.7,45.3 394.9,45.5 395.1,46.8 395.3,43.5 395.5,47.7 395.7,48.2 395.8,50.8 396,41.5 396.2,38.1 396.4,42 396.6,44.7 396.8,58.7 396.9,51 397.1,51.5 397.3,53.1 397.5,49 397.7,59 397.9,55 398,52.4 398.2,54.7 398.4,50.8 398.6,44.5 398.8,57.1 399,62.1 399.1,53.7 399.3,50.4 399.5,57.2 399.7,56.8 399.9,55.1 400.1,51.8 400.2,51.4 400.4,47.8 400.6,46.3 400.8,43.4 401,44.1 401.2,46.2 401.3,46.9 401.5,48 401.7,54.4 401.9,52.8 402.1,51.8 402.2,46.7 402.4,50.6 402.6,47.3 402.8,48.1 403,45.7 403.2,48.1 403.3,53.6 403.5,50.9 403.7,57.6 403.9,57 404.1,57 404.3,55 404.4,47.6 404.6,55.7 404.8,54.6 405,54.6 405.2,51.4 405.4,59.5 405.5,63.3" fill="none" stroke="#5b9cf0" stroke-width="0.42" stroke-opacity="1.0" stroke-linejoin="round"/>
<rect x="307.4" y="7.5" width="100.9" height="81" fill="none" stroke="#8c8c8c" stroke-width="0.9"/>
<line x1="305.6" y1="17.6" x2="307.4" y2="17.6" stroke="#555" stroke-width="0.6"/>
<text x="304.6" y="19.8" text-anchor="end">300</text>
<line x1="305.6" y1="37.7" x2="307.4" y2="37.7" stroke="#555" stroke-width="0.6"/>
<text x="304.6" y="39.9" text-anchor="end">280</text>
<line x1="305.6" y1="57.8" x2="307.4" y2="57.8" stroke="#555" stroke-width="0.6"/>
<text x="304.6" y="60" text-anchor="end">260</text>
<line x1="305.6" y1="77.9" x2="307.4" y2="77.9" stroke="#555" stroke-width="0.6"/>
<text x="304.6" y="80.1" text-anchor="end">240</text>
<line x1="321.4" y1="88.5" x2="321.4" y2="89.5" stroke="#777" stroke-width="0.5"/>
<line x1="343" y1="88.5" x2="343" y2="89.5" stroke="#777" stroke-width="0.5"/>
<line x1="364.8" y1="88.5" x2="364.8" y2="89.5" stroke="#777" stroke-width="0.5"/>
<line x1="386.4" y1="88.5" x2="386.4" y2="89.5" stroke="#777" stroke-width="0.5"/>
<line x1="306.2" y1="27.7" x2="307.4" y2="27.7" stroke="#777" stroke-width="0.5"/>
<line x1="306.2" y1="47.8" x2="307.4" y2="47.8" stroke="#777" stroke-width="0.5"/>
<line x1="306.2" y1="67.8" x2="307.4" y2="67.8" stroke="#777" stroke-width="0.5"/>
<line x1="310.5" y1="88.5" x2="310.5" y2="90.2" stroke="#555" stroke-width="0.6"/>
<text x="310.5" y="96.9" text-anchor="middle">0</text>
<line x1="332.2" y1="88.5" x2="332.2" y2="90.2" stroke="#555" stroke-width="0.6"/>
<text x="332.2" y="96.9" text-anchor="middle">2000</text>
<line x1="353.9" y1="88.5" x2="353.9" y2="90.2" stroke="#555" stroke-width="0.6"/>
<text x="353.9" y="96.9" text-anchor="middle">4000</text>
<line x1="375.6" y1="88.5" x2="375.6" y2="90.2" stroke="#555" stroke-width="0.6"/>
<text x="375.6" y="96.9" text-anchor="middle">6000</text>
<line x1="397.3" y1="88.5" x2="397.3" y2="90.2" stroke="#555" stroke-width="0.6"/>
<text x="397.3" y="96.9" text-anchor="middle">8000</text>
<text x="357.8" y="107.8" text-anchor="middle">Time (hours)</text>
<text transform="translate(291.9 48) rotate(-90)" text-anchor="middle">Dew point (K)</text>
<line x1="359.5" y1="13.5" x2="374.1" y2="13.5" stroke="#5b9cf0" stroke-width="0.6" stroke-opacity="0.6"/>
<text x="376.7" y="15.4">Dew point</text>
</g>
<g font-size="6.76">
<line x1="444.8" y1="27.7" x2="545.6" y2="27.7" stroke="#f0f0f0" stroke-width="0.5"/>
<line x1="444.8" y1="48" x2="545.6" y2="48" stroke="#f0f0f0" stroke-width="0.5"/>
<line x1="444.8" y1="68.2" x2="545.6" y2="68.2" stroke="#f0f0f0" stroke-width="0.5"/>
<polyline points="447.9,61.2 448,65.4 448,63.6 448.1,58.9 448.1,55.3 448.1,59.3 448.2,61.2 448.2,59.8 448.2,61.3 448.3,56.3 448.3,56.4 448.4,63.5 448.4,66.2 448.5,62.9 448.5,69.1 448.6,58.3 448.6,58.1 448.7,65.3 448.7,67.3 448.8,62.9 448.8,61.8 448.8,52.7 448.9,52.9 448.9,61.8 449,64.9 449,62 449,61.8 449.1,55.5 449.1,54.7 449.2,66 449.2,69.4 449.3,62.4 449.3,63.2 449.4,60.6 449.4,62.9 449.4,66.9 449.5,70.4 449.5,66.5 449.5,67.6 449.6,70.9 449.6,68.3 449.7,62.5 449.7,70 449.8,62.4 449.8,60.2 449.9,51.5 449.9,54 450,64.1 450,66.2 450,63.2 450.1,62 450.1,56.9 450.1,58.7 450.2,69.6 450.3,71.9 450.3,69.1 450.3,69.5 450.4,66.2 450.4,63.1 450.5,65.2 450.5,70.5 450.6,67.9 450.6,66.3 450.6,55.1 450.7,59.4 450.7,63.9 450.8,65.7 450.8,70.1 450.8,64.8 450.9,55.8 450.9,57.6 451,66.5 451,66 451,68.9 451.1,65.9 451.2,52.7 451.2,53.3 451.3,59.9 451.3,58.3 451.3,60.5 451.4,58.2 451.4,52.8 451.5,52 451.5,56.3 451.6,58.7 451.6,56.2 451.6,54.3 451.7,49.4 451.7,51.1 451.8,48.6 451.8,54.9 451.9,51.4 451.9,49.9 451.9,45.9 452,42.9 452,51.5 452,52.3 452.1,56.5 452.2,49.9 452.2,51.9 452.2,50.8 452.3,55.2 452.3,58.5 452.4,53.2 452.4,51.1 452.5,43.1 452.5,43.8 452.6,57.3 452.6,56.7 452.6,59.3 452.7,59.2 452.7,53.2 452.7,52.4 452.8,55.6 452.8,56.8 452.8,57.8 452.9,55.6 453,49 453,52.4 453.1,58.3 453.1,59.7 453.2,57.5 453.2,55.7 453.2,50.2 453.3,50.4 453.3,56.8 453.4,57.2 453.4,63.6 453.4,58 453.5,48.6 453.5,49.6 453.6,57.2 453.6,58.8 453.7,56.2 453.7,55.1 453.8,47.6 453.8,48.1 453.9,56 453.9,54.6 453.9,57 453.9,55.5 454,53.4 454,51.7 454.1,58.6 454.2,59.3 454.2,56.7 454.2,54.2 454.3,49.9 454.3,50.2 454.4,56.1 454.4,62.5 454.4,57.7 454.5,58.1 454.5,51.4 454.6,51.7 454.6,58.5 454.7,60.2 454.7,57.1 454.7,57.7 454.8,50.2 454.8,44 454.9,58.9 454.9,62.8 455,59.1 455,58.9 455,54.4 455.1,55.1 455.1,60.3 455.2,62.5 455.2,57.1 455.3,54.8 455.3,55.9 455.4,52.6 455.4,57 455.4,59.2 455.5,52.6 455.5,52.7 455.5,42.6 455.6,45.4 455.7,49.3 455.7,48 455.7,51.2 455.8,48.5 455.8,46.1 455.9,46.5 455.9,53.9 456,57.7 456,52.2 456,49.4 456.1,43 456.1,42.9 456.2,54.7 456.2,55.3 456.3,50.5 456.3,50.2 456.4,42.2 456.4,41.9 456.4,46.5 456.5,48 456.5,49.7 456.6,48.8 456.6,44.4 456.6,44.2 456.7,53.1 456.7,55 456.7,57.8 456.8,56.3 456.9,46.7 456.9,47 457,50.5 457,51 457,56.8 457.1,52.4 457.1,44.6 457.1,45.4 457.2,53.6 457.2,54.9 457.3,58.6 457.3,54 457.4,48.8 457.4,47.8 457.5,50.7 457.5,50 457.5,54.6 457.6,48.9 457.6,46.3 457.7,47.7 457.7,52.3 457.7,53.3 457.8,55.5 457.8,51.8 457.9,42.7 457.9,44 458,53.1 458,54 458.1,56.4 458.1,55.8 458.2,50.2 458.2,50.6 458.2,53.8 458.3,58.2 458.3,54.4 458.4,53.8 458.4,46.1 458.4,46.1 458.5,60.2 458.5,60.5 458.6,53.8 458.6,57.2 458.7,48.7 458.7,48.1 458.8,53.5 458.8,54.1 458.8,58.8 458.9,56.5 458.9,51.6 459,51.6 459,55.5 459,56.8 459.1,59 459.1,57.7 459.2,47.7 459.2,46.8 459.3,54.6 459.3,53.8 459.3,57.2 459.4,51.1 459.4,59.2 459.5,51.8 459.5,53.4 459.6,58.6 459.6,55.7 459.7,58.1 459.7,49.1 459.7,50.5 459.8,60 459.8,61.3 459.9,56.5 459.9,55.3 460,51.4 460,50.4 460.1,56.6 460.1,59.8 460.2,55.7 460.2,55.5 460.2,51.8 460.3,50.8 460.3,57.7 460.3,57.9 460.4,53.6 460.4,53.8 460.5,48.2 460.5,47.8 460.6,54.7 460.6,57.3 460.7,54 460.7,55 460.8,51.6 460.8,50.1 460.8,53.3 460.9,52.3 460.9,47.6 461,53.4 461,47.5 461.1,47.6 461.1,49 461.2,56 461.2,52.5 461.2,50.5 461.2,46.8 461.3,47.1 461.4,59.3 461.4,61.8 461.5,59.7 461.5,57.9 461.5,54.2 461.6,53.9 461.6,58.7 461.7,62 461.7,57.4 461.7,57.1 461.8,51.2 461.8,50.9 461.9,56.4 461.9,56.3 461.9,60.2 462,55.6 462.1,47.2 462.1,45.3 462.1,58.7 462.2,58.8 462.2,57.3 462.3,57.5 462.3,49.9 462.3,54.1 462.4,57.2 462.4,61.7 462.5,56.3 462.5,55.1 462.5,43.5 462.6,48.8 462.7,54.2 462.7,51.3 462.7,52.4 462.8,51.5 462.8,46 462.9,45.5 462.9,50.2 463,54.2 463,49.3 463,54 463.1,45.1 463.1,46.2 463.2,53.6 463.2,55.2 463.3,51.8 463.3,50.9 463.3,46.5 463.4,43.4 463.4,49.5 463.5,49.1 463.5,51.2 463.5,51.1 463.6,47 463.6,47.8 463.7,53.3 463.8,55.8 463.8,52.8 463.8,51.6 463.9,44.7 463.9,44.6 464,53.3 464,53.1 464,56.5 464.1,56.1 464.1,49.6 464.2,48.1 464.2,53.2 464.3,54.1 464.3,57.3 464.3,57.6 464.4,52.4 464.4,54.5 464.5,52.5 464.5,54.5 464.6,50.5 464.6,50.2 464.6,47.3 464.7,47.4 464.7,49.9 464.8,49.4 464.8,46.5 464.8,46.3 464.9,41.4 464.9,42.1 465,49.5 465,53.2 465.1,47.2 465.1,46.6 465.2,40.6 465.2,41 465.3,44.3 465.3,41.3 465.3,44.5 465.4,44.7 465.4,42.2 465.4,41.2 465.5,47.6 465.5,49.5 465.6,44.1 465.6,45 465.7,39.6 465.7,38.6 465.8,43.9 465.8,43.8 465.8,48 465.9,46.5 465.9,40.3 466,41.8 466,46.3 466.1,47.9 466.1,45.2 466.1,45 466.2,40 466.2,38.9 466.3,49.4 466.3,50.1 466.4,44.2 466.4,42.5 466.5,37.6 466.5,38.7 466.6,45 466.6,45.1 466.6,46.5 466.6,44.5 466.7,40.4 466.8,39.9 466.8,42.2 466.8,45 466.9,47.2 466.9,49 467,37.9 467,36.9 467.1,43.4 467.1,45.8 467.2,43.7 467.2,43.1 467.2,38 467.3,38.3 467.3,45.9 467.4,47.5 467.4,40.7 467.4,40 467.5,35.8 467.5,36 467.6,43 467.6,45.5 467.7,41.7 467.7,41 467.8,31.4 467.8,32.2 467.8,43.2 467.9,44.2 467.9,50 467.9,48 468,41.5 468,42 468.1,48.8 468.1,50.4 468.2,53.2 468.2,51.1 468.3,45.3 468.3,45.1 468.3,48.6 468.4,47.7 468.4,49.8 468.5,45.6 468.5,41.2 468.5,40.2 468.6,47.7 468.7,46.7 468.7,49.2 468.7,45.6 468.8,43.3 468.8,43.6 468.9,51 468.9,52.1 469,48.7 469,46.8 469.1,39.4 469.1,38.8 469.1,42.4 469.2,40.8 469.2,44.1 469.2,42.6 469.3,40.7 469.3,39.8 469.4,43.2 469.4,45.2 469.5,47.3 469.5,44.1 469.5,35.1 469.6,41.6 469.7,46.8 469.7,50 469.7,44.4 469.8,41.4 469.8,28.8 469.8,26.4 469.9,40.1 470,39.4 470,37 470.1,37.7 470.1,36.1 470.1,35 470.2,44.1 470.2,46.3 470.3,43.2 470.3,42.4 470.4,37.3 470.4,35.1 470.4,41.1 470.5,44.1 470.5,40.4 470.6,39.8 470.6,35 470.6,34.7 470.7,44.6 470.7,43.6 470.8,47.4 470.8,43 470.9,39.3 470.9,35.4 471,37.6 471,48.7 471,41.2 471.1,39.1 471.1,31.3 471.1,32.2 471.2,43 471.3,45.6 471.3,41.1 471.3,39.1 471.4,35.8 471.4,37.2 471.5,44.8 471.5,44.3 471.5,41.1 471.6,41 471.6,36.5 471.7,37.1 471.7,41.4 471.7,42.2 471.8,44.8 471.8,44.1 471.9,34.8 471.9,34.7 472,38 472,38.5 472.1,35.3 472.1,31.7 472.2,39.4 472.2,33 472.2,36.3 472.3,38.2 472.3,43.2 472.4,42.9 472.4,38.5 472.4,40 472.5,45.4 472.6,46.2 472.6,44.9 472.6,45.9 472.7,50.8 472.7,43.8 472.8,49 472.8,53.2 472.8,49.5 472.9,49.2 472.9,45.4 473,47.3 473,52.2 473,52.9 473.1,47.7 473.1,46.3 473.2,39.5 473.2,38.6 473.3,42.4 473.3,46.4 473.4,41.7 473.4,43.6 473.5,41 473.5,40.3 473.6,45.3 473.6,47.8 473.6,40.9 473.6,43.8 473.7,34.2 473.8,31.7 473.8,40.2 473.8,43.7 473.9,40.7 473.9,40.9 474,35.2 474,35.4 474.1,44.1 474.1,47.6 474.2,45.1 474.2,43.4 474.2,37.8 474.3,38.3 474.3,48.1 474.4,50.5 474.4,47.2 474.4,44.8 474.5,39 474.5,40.1 474.6,45.4 474.6,50.2 474.7,44.5 474.7,42.2 474.7,35.3 474.8,36.9 474.8,44.9 474.9,45.1 474.9,42.5 474.9,42 475,37.3 475.1,41.3 475.1,39 475.1,42.1 475.2,45.9 475.2,44 475.3,36.9 475.3,33.9 475.4,42.8 475.4,44.6 475.4,43.9 475.5,43.7 475.5,36.3 475.6,35.4 475.6,46 475.7,45.5 475.7,43.6 475.7,43.1 475.8,38.8 475.9,38.1 475.9,39.4 475.9,40.2 475.9,32.2 476,33.7 476,36.7 476.1,36.3 476.1,44.4 476.2,45.2 476.2,49.2 476.2,44.4 476.3,40.2 476.3,39.6 476.4,47.1 476.4,47 476.5,49.6 476.5,47 476.6,40.4 476.6,40.4 476.6,43 476.7,45.5 476.7,42.9 476.8,42.3 476.8,37.3 476.9,36.3 476.9,41.8 477,44 477,40.1 477,39.6 477.1,31.6 477.1,33.7 477.2,39.5 477.2,39.5 477.3,36.8 477.3,36.1 477.3,38.6 477.4,36.8 477.4,41.6 477.5,42.8 477.5,40.4 477.5,41.1 477.6,35.5 477.6,38.5 477.7,42.7 477.7,45.9 477.8,42.4 477.8,42.4 477.8,38.1 477.9,39.6 478,44.5 478,45 478,38.5 478.1,38 478.1,33.6 478.2,32 478.2,37.8 478.2,41.6 478.3,36.9 478.3,33.9 478.4,25 478.4,24.7 478.5,34.1 478.5,35.9 478.5,38.2 478.6,36.1 478.6,29.7 478.7,31.6 478.7,40.4 478.7,39.9 478.8,43.2 478.8,41.2 478.9,35.6 478.9,39.4 479,43.3 479,42.8 479,47.1 479.1,41.9 479.2,33 479.2,31.6 479.3,37.3 479.3,38.1 479.3,41.2 479.3,36.9 479.4,27.4 479.4,30.1 479.5,35.9 479.5,37.6 479.6,34.4 479.6,34.1 479.7,28.6 479.7,29.4 479.8,34.9 479.8,36.8 479.8,40.2 479.9,37.9 479.9,31.6 480,30.7 480,39.6 480.1,43.3 480.1,41.8 480.1,40.5 480.2,31.8 480.2,31.8 480.3,43.3 480.3,45.5 480.4,42.3 480.4,41.1 480.4,36.5 480.5,37 480.5,42.8 480.6,43.5 480.6,46.1 480.7,43.9 480.7,37.6 480.7,38.5 480.8,42.1 480.9,44.8 480.9,42 480.9,41.6 481,33.3 481,32.2 481.1,38.6 481.1,35.3 481.1,37.1 481.2,39 481.2,33.6 481.3,33 481.3,37.4 481.4,41.8 481.4,39.3 481.4,37.9 481.5,29.6 481.6,29.8 481.6,32.6 481.6,36.1 481.6,33.8 481.7,30.9 481.7,32.5 481.8,30 481.8,34.2 481.9,35.1 481.9,33.5 481.9,32.1 482,25.6 482,25.5 482.1,33.9 482.1,33.9 482.2,38.8 482.2,42.5 482.3,32.7 482.3,30.8 482.4,34 482.4,36 482.4,30 482.5,28.3 482.5,30.4 482.6,29.6 482.6,39.3 482.7,39.6 482.7,36.6 482.8,44 482.8,35.2 482.8,36.6 482.9,41.6 482.9,40.5 483,42.4 483,41.7 483.1,35.1 483.1,34.7 483.1,38.9 483.2,39.8 483.2,38 483.2,37.7 483.3,29.5 483.3,27.8 483.4,34.9 483.5,35.4 483.5,33.5 483.5,33.1 483.6,29.3 483.6,29.9 483.7,38.6 483.7,42.1 483.7,37.4 483.8,35.3 483.8,23.9 483.9,23.3 483.9,34 484,35.3 484,32.6 484,31.8 484.1,27.9 484.1,29.3 484.2,33.8 484.2,34.4 484.3,39.2 484.3,37.1 484.3,31.4 484.4,32 484.4,40.3 484.5,42.3 484.5,38.4 484.5,36.6 484.6,30.2 484.6,30.9 484.7,38.7 484.7,39.9 484.8,35.4 484.8,33.9 484.8,32.6 484.9,32.5 484.9,37 485,40.7 485,37.5 485.1,34.7 485.1,30.4 485.1,33 485.2,36.2 485.2,37.2 485.2,39.3 485.3,39.2 485.4,31.6 485.4,30.9 485.5,33.5 485.5,34.6 485.5,37.6 485.6,36.2 485.6,30.3 485.7,29.4 485.7,33.1 485.8,35.6 485.8,33.3 485.8,32.7 485.9,28 485.9,28.2 486,36 486,38.5 486.1,35.8 486.1,34.9 486.2,26.1 486.2,26.8 486.3,34 486.3,36.9 486.3,32.8 486.3,31.5 486.4,23.5 486.4,24.8 486.5,34.3 486.6,37.5 486.6,35 486.6,34.2 486.7,28.5 486.7,27.5 486.8,34 486.8,37.8 486.9,34.4 486.9,31.2 486.9,24.2 487,22.2 487,29.1 487,27.5 487.1,30.3 487.1,28.4 487.2,26.3 487.2,27.2 487.3,33 487.3,34.3 487.4,31.7 487.4,31 487.5,23.8 487.5,19.7 487.5,33.4 487.6,34.4 487.6,37.3 487.6,35.3 487.7,27.1 487.7,27.3 487.8,33.2 487.8,33.4 487.9,28.7 487.9,32.2 488,28.2 488,29 488.1,31.9 488.1,34 488.1,38.4 488.2,35.7 488.2,22.3 488.3,28.2 488.3,38.9 488.3,41.2 488.4,36.2 488.4,35.9 488.5,31.8 488.5,32.6 488.6,36.7 488.6,48.3 488.7,36.2 488.7,34.1 488.7,31.5 488.8,31.1 488.8,34.5 488.9,36.8 488.9,32.1 488.9,31.3 489,27.6 489,28.7 489.1,33.7 489.1,36.2 489.2,32.7 489.2,32.7 489.3,25.2 489.3,26.2 489.4,34.7 489.4,31.5 489.4,34.3 489.5,30.8 489.5,26.3 489.5,27.3 489.6,31 489.6,33.6 489.7,36.8 489.7,32.8 489.8,21.4 489.8,21.4 489.9,27.1 489.9,29 490,25.8 490,24.7 490,20.6 490.1,24.1 490.1,31.4 490.2,33.5 490.2,29.2 490.2,28.8 490.3,23.3 490.3,22.7 490.4,30.6 490.5,33.6 490.5,30.1 490.5,29.6 490.5,27.3 490.6,25.7 490.6,30.3 490.7,33.9 490.7,30.9 490.8,30.3 490.8,20.1 490.8,19.5 490.9,30 490.9,29.2 491,32.4 491,29.8 491.1,24.3 491.1,24.5 491.2,35.6 491.2,36.4 491.3,30.3 491.3,29.5 491.3,23.7 491.4,25.2 491.4,28.3 491.5,30.5 491.5,26.2 491.6,22.7 491.6,25.9 491.6,25.1 491.7,27.9 491.7,38.9 491.8,26.9 491.8,27.8 491.9,15.9 491.9,16.9 492,28.2 492,28.6 492,31.9 492.1,28.2 492.1,23.7 492.1,24.9 492.2,29.5 492.3,32.7 492.3,29 492.3,26.9 492.4,18.2 492.4,20 492.5,31.1 492.5,35 492.6,30.9 492.6,29.5 492.6,20.5 492.7,22.6 492.7,29.1 492.8,30.2 492.8,27.2 492.8,27.5 492.9,18.4 492.9,18 493,23.9 493,26.4 493.1,23.8 493.1,23.9 493.2,20.3 493.2,19.2 493.2,27.7 493.3,30.2 493.3,25.1 493.3,23.9 493.4,18 493.4,17.5 493.5,24.3 493.6,27.6 493.6,24.8 493.6,23.7 493.6,19 493.7,19.8 493.8,27.2 493.8,28.9 493.8,31.7 493.9,28.2 493.9,22.3 494,21.2 494,29.1 494.1,29.5 494.1,27 494.1,27.3 494.2,23.1 494.2,24.6 494.3,21.9 494.3,23.6 494.3,31.5 494.4,26.6 494.4,24 494.5,26.2 494.5,28.7 494.6,29.1 494.6,27 494.6,27.9 494.7,22.7 494.7,23.7 494.8,27.7 494.8,28.1 494.9,31.6 494.9,28.8 495,26.6 495,27.9 495.1,33.6 495.1,33.2 495.2,29.9 495.2,28.9 495.2,25.3 495.3,23.9 495.3,27.1 495.3,27.7 495.4,29.7 495.4,26.9 495.5,22.4 495.5,24.7 495.6,28.8 495.6,33.8 495.7,29.6 495.7,28.9 495.8,20.2 495.8,21.3 495.8,31.6 495.9,34.6 495.9,28.2 495.9,27.3 496,23.1 496,20.4 496.1,29.1 496.1,31.9 496.2,27.9 496.2,26.7 496.3,19.6 496.3,19.9 496.4,31 496.4,30.6 496.4,33 496.5,30 496.5,21.5 496.5,21.4 496.6,26.8 496.7,28.7 496.7,24 496.7,25.4 496.8,20.2 496.8,21 496.9,28.5 496.9,32 497,27.1 497,26.4 497,21.1 497.1,22.8 497.1,29.6 497.2,29.7 497.2,27 497.2,26.8 497.3,19.4 497.3,20.8 497.4,28.1 497.4,32 497.5,27.9 497.5,28.1 497.6,17.4 497.6,18 497.6,25 497.7,25.6 497.7,21.3 497.8,22.2 497.8,20 497.8,19.2 497.9,25.5 497.9,26.3 498,24.9 498,24.3 498.1,21.2 498.2,21.7 498.2,26.2 498.2,26.2 498.2,31.1 498.3,30.4 498.3,26.8 498.4,27.4 498.4,31.1 498.5,35.4 498.5,32.4 498.5,30.4 498.6,26.4 498.6,31.4 498.6,27.7 498.7,29.2 498.8,31.8 498.8,30.7 498.8,29.3 498.9,28.8 499,31.9 499,34.4 499,35.8 499,34.4 499.1,26.6 499.1,25.9 499.2,31.6 499.2,30.7 499.3,32.7 499.3,32 499.4,26 499.4,24.7 499.4,30.6 499.5,30 499.5,28 499.6,27.3 499.6,29.6 499.7,29.6 499.7,34.1 499.8,35.8 499.8,32.7 499.8,31.6 499.9,27.8 499.9,27.9 500,32 500,31.9 500.1,29.9 500.1,28.8 500.1,23.9 500.2,24.1 500.2,28.6 500.3,29.6 500.3,28 500.3,28.8 500.4,17.8 500.4,23.9 500.5,30.1 500.6,33.3 500.6,30.2 500.6,28.6 500.7,22.4 500.7,23.3 500.7,27.4 500.8,30.5 500.9,27.1 500.9,25.2 500.9,19.8 501,18.5 501,25.4 501.1,24 501.1,26.7 501.1,26.5 501.2,29.4 501.2,26.6 501.3,32.9 501.3,34.6 501.4,26.1 501.4,26.3 501.4,21.7 501.5,22.6 501.5,32.2 501.6,29.8 501.6,31.5 501.6,30.7 501.7,27.7 501.7,28.1 501.8,32.1 501.8,31.8 501.9,33.9 501.9,31.2 502,26.9 502,28.1 502.1,31.9 502.1,34.7 502.1,30.3 502.2,28.9 502.2,24.9 502.2,25 502.3,35.5 502.4,30.9 502.4,36.3 502.4,32.6 502.5,26.3 502.5,26 502.6,30.4 502.6,34.6 502.7,31.5 502.7,29.7 502.7,23.2 502.8,23 502.8,29.4 502.9,31.9 502.9,29.1 502.9,27.9 503,22.5 503,18.1 503.1,31.8 503.1,33.7 503.1,37.8 503.2,32.4 503.3,26.8 503.3,20.2 503.4,32.5 503.4,32.4 503.4,29.6 503.5,29.6 503.5,26.6 503.5,28.3 503.6,32.6 503.7,35.7 503.7,30.8 503.8,29.3 503.8,22.4 503.8,23.8 503.9,32.3 503.9,34.6 504,29.9 504,29.5 504,23.1 504.1,23.3 504.1,32.7 504.2,32.5 504.2,30.6 504.2,30.9 504.3,24.6 504.3,25.3 504.4,30.9 504.4,30.1 504.5,28.3 504.5,27.3 504.6,25.5 504.6,25.4 504.6,26.6 504.7,29.1 504.7,33.4 504.8,29.8 504.8,27.5 504.8,26.8 504.9,33.5 504.9,35.2 505,32.1 505,29.6 505.1,25.9 505.1,26.4 505.2,33.2 505.2,36.2 505.3,33.5 505.3,32.1 505.3,23.9 505.4,24.6 505.4,31.1 505.4,33.1 505.5,29.9 505.5,27.7 505.6,23.8 505.6,23 505.7,27.9 505.7,29.5 505.7,34 505.8,29.5 505.9,26 505.9,25.5 506,32 506,33.1 506,31.3 506,32.2 506.1,27.7 506.1,27.7 506.2,30.5 506.2,32.9 506.3,35.6 506.3,34 506.4,25.5 506.4,26.4 506.5,34.5 506.5,35.2 506.6,32.6 506.6,31.5 506.6,24.2 506.7,24.2 506.7,29.5 506.7,30.8 506.8,32.6 506.8,29.5 506.9,21.7 506.9,23.5 507,29.7 507,29.7 507.1,27.1 507.1,27.4 507.1,24.7 507.2,24.4 507.2,25.9 507.3,25.1 507.3,30 507.4,29.6 507.4,24.6 507.4,24.2 507.5,30.7 507.5,33.8 507.6,36.1 507.6,34.6 507.7,26.2 507.7,25.9 507.8,31.3 507.8,32.7 507.8,29.1 507.9,28.4 507.9,24.9 508,26.6 508,29.7 508.1,35 508.1,30.2 508.1,28 508.2,18.7 508.2,20.1 508.3,29.3 508.3,29.4 508.4,32.5 508.4,31.1 508.4,25.9 508.5,25.5 508.5,32.2 508.6,37.2 508.6,34.2 508.6,33 508.7,25.7 508.7,26.3 508.8,33.2 508.8,33.2 508.9,30.7 508.9,30 509,28.7 509,29.2 509,32.5 509.1,32.8 509.1,35.1 509.2,33.2 509.2,28.8 509.2,29.8 509.3,32.4 509.3,31 509.4,33.8 509.4,32.1 509.5,26.7 509.5,27.4 509.6,35.2 509.6,39.5 509.7,36.2 509.7,35.2 509.7,25.7 509.8,26.6 509.8,35.4 509.9,36 509.9,31.8 509.9,31.6 510,27.8 510,28.9 510.1,27.5 510.1,32.6 510.2,29.9 510.2,29.5 510.3,22.3 510.3,21.6 510.4,29 510.4,25.9 510.4,28.2 510.5,25.2 510.5,22.6 510.5,24.2 510.6,31.9 510.6,31.3 510.7,34.4 510.7,30.7 510.8,29 510.8,28.9 510.9,32.9 510.9,34.6 511,31.8 511,31.4 511,25.2 511.1,24.8 511.1,34.6 511.2,36 511.2,33 511.2,32.4 511.3,29.1 511.3,29.6 511.4,35 511.4,36.1 511.5,34.2 511.5,33.9 511.5,31.9 511.6,33.1 511.7,37.9 511.7,38.7 511.7,36.8 511.7,36.8 511.8,35.7 511.9,36.1 511.9,38.6 511.9,40.1 512,41.9 512,39.3 512.1,34.9 512.1,36.3 512.1,40.3 512.2,41.3 512.3,37.2 512.3,36.8 512.3,32.5 512.4,33.8 512.4,36.8 512.5,40.8 512.5,34.3 512.5,33 512.6,24.9 512.6,26.3 512.7,36.8 512.7,39.3 512.8,37.5 512.8,36.1 512.9,27 512.9,27 512.9,36.2 513,36.7 513,39.6 513,36 513.1,32.2 513.1,32.8 513.2,39.1 513.3,44.8 513.3,40.7 513.3,40.2 513.4,32.9 513.4,34 513.5,42.2 513.5,43.2 513.6,37.9 513.6,37.7 513.6,31.9 513.7,32.5 513.7,42 513.7,42.3 513.8,36.1 513.8,34.3 513.9,29 513.9,31 514,37.1 514,38.3 514.1,34.6 514.1,35.8 514.1,28.6 514.2,28.8 514.2,32.4 514.3,33.9 514.3,36.1 514.3,33.5 514.4,22.7 514.4,25.1 514.5,35.7 514.5,38.7 514.6,36.1 514.6,37.4 514.6,35.2 514.7,35.3 514.7,39.2 514.8,40.6 514.8,36.5 514.9,35.8 514.9,29 515,28.4 515,33.8 515,34.4 515.1,37.1 515.1,35.3 515.2,33.7 515.2,33 515.3,37.8 515.3,39.3 515.3,42.3 515.4,37.8 515.4,32.9 515.5,33.6 515.5,40.3 515.6,42.4 515.6,39.6 515.6,39.1 515.7,30.8 515.7,29.8 515.8,38 515.9,43.4 515.9,38.3 515.9,37.2 516,30.9 516,30.1 516.1,38.1 516.1,38.8 516.1,33.4 516.2,33.2 516.2,27.8 516.3,28.4 516.3,33.3 516.3,34.8 516.4,36.8 516.4,34.4 516.5,25.8 516.5,26.5 516.6,34.8 516.6,38.8 516.7,35.2 516.7,33.2 516.8,28.7 516.8,26.9 516.8,30.4 516.8,32.4 516.9,34.7 516.9,31 517,26.2 517,26.1 517.1,36.8 517.1,38.5 517.2,40.8 517.2,39.4 517.3,26.3 517.3,30.8 517.3,41.6 517.4,43.5 517.4,39.7 517.5,40.8 517.5,34.7 517.6,33.3 517.6,36.1 517.6,37 517.7,33.7 517.7,32.9 517.7,29.8 517.8,31.2 517.9,38.4 517.9,40.4 518,36.9 518,36.6 518,31.9 518.1,31.3 518.1,37.5 518.1,37.4 518.2,33.9 518.2,33.6 518.3,28.6 518.3,29.3 518.4,36.9 518.4,36.5 518.5,41.3 518.5,38.8 518.6,34.2 518.6,35.6 518.7,43 518.7,42.3 518.7,39.4 518.7,39.1 518.8,33.7 518.9,34.5 518.9,39.3 518.9,41.2 519,45.8 519,42.9 519.1,35.3 519.1,35 519.2,40.5 519.2,40.6 519.3,37.5 519.3,37.9 519.3,34.9 519.4,35 519.4,42.5 519.5,45 519.5,42.3 519.5,42.1 519.6,34.5 519.6,36.2 519.7,42.1 519.7,44.3 519.8,41 519.8,39.9 519.8,32.4 519.9,33.2 519.9,43 520,46.2 520,39.7 520.1,38.8 520.1,32.9 520.1,34.7 520.2,43 520.2,43.3 520.3,41 520.3,42.6 520.3,39.8 520.4,40.1 520.5,42.2 520.5,43.5 520.6,40.1 520.6,41.3 520.6,36.9 520.7,42.3 520.7,35.6 520.8,47 520.8,43.2 520.8,45.7 520.9,35.4 520.9,37.3 521,40.6 521,42.6 521.1,39.5 521.1,38.2 521.2,32 521.2,26.4 521.2,41.5 521.3,40.4 521.3,37.8 521.4,39.2 521.4,37.2 521.4,38.3 521.5,43.2 521.6,45.3 521.6,43.5 521.6,42.3 521.7,34.2 521.7,33.3 521.8,37.8 521.8,42.4 521.8,39.6 521.9,37 521.9,31 521.9,30.8 522,41.2 522,42.6 522.1,45.5 522.1,43.1 522.2,39.6 522.2,40.3 522.3,51.5 522.3,52.4 522.4,49.9 522.4,49.1 522.5,41.9 522.5,40.8 522.5,46.5 522.6,48.6 522.6,43.6 522.6,42.8 522.7,36.3 522.7,35.6 522.8,39 522.8,41.8 522.9,46.2 522.9,42.8 523,36.7 523,36.9 523.1,45.4 523.1,46 523.1,41.7 523.2,44.1 523.2,40.2 523.3,40.4 523.3,45.7 523.3,45.2 523.4,50.9 523.4,46 523.5,34.6 523.5,36.4 523.6,45.4 523.6,44.4 523.7,41 523.7,39.9 523.7,32 523.8,32.8 523.8,41.6 523.8,43.1 523.9,45.9 523.9,42.7 524,38.8 524,41.3 524.1,47 524.1,51 524.2,42.9 524.2,46.7 524.3,38.4 524.3,36.7 524.4,47.1 524.4,47.6 524.4,45.5 524.5,44.1 524.5,39.5 524.6,37.9 524.6,44.5 524.7,49.5 524.7,46 524.7,42.8 524.8,35.8 524.8,36.4 524.9,45.7 524.9,47 525,44.1 525,43.7 525,39 525.1,40.8 525.1,45 525.2,48 525.2,46.6 525.2,47.8 525.3,44.5 525.3,45.4 525.4,48 525.4,52 525.5,49 525.5,45.6 525.5,39.5 525.6,41.6 525.6,46.6 525.7,49.5 525.7,45.7 525.7,45.6 525.8,37.2 525.8,37.2 525.9,48.8 525.9,49.2 526,45.7 526,43.8 526.1,36.9 526.1,35.7 526.2,42.7 526.2,41.1 526.2,46.4 526.3,40.8 526.3,34.2 526.4,33 526.4,36.5 526.5,38.8 526.5,37.7 526.5,38.8 526.5,39.7 526.6,39.5 526.7,45.4 526.7,48.6 526.8,46.3 526.8,46.7 526.9,41.2 526.9,40.8 526.9,47.7 527,46.3 527,48.9 527,47.9 527.1,40.7 527.1,41.1 527.2,44.8 527.2,46.6 527.3,49.3 527.3,46.5 527.4,41.9 527.4,42 527.5,49.1 527.5,49.6 527.6,47.1 527.6,46.1 527.6,39.2 527.6,40.2 527.7,43.9 527.7,46.2 527.8,49.1 527.8,47 527.9,35.9 527.9,36 528,45.7 528,45.8 528.1,48.3 528.1,49.8 528.2,42.5 528.2,42.1 528.2,45.8 528.3,48.3 528.3,46.3 528.3,45.4 528.4,40.5 528.4,41.4 528.5,48 528.5,50.9 528.6,47.2 528.6,48.4 528.6,45.7 528.7,45.7 528.8,53.4 528.8,57.4 528.8,55.6 528.9,53.8 528.9,48.1 529,41.3 529,51.4 529.1,55.8 529.1,50.7 529.1,52 529.2,44.8 529.2,45.1 529.3,65.4 529.3,56.7 529.4,59.1 529.4,54.6 529.4,48 529.5,46.7 529.5,52.2 529.6,56.9 529.6,53.1 529.6,52.3 529.7,39.9 529.7,40.2 529.8,48.3 529.8,49.3 529.9,45.4 529.9,43.5 530,37 530,37.4 530.1,46.7 530.1,46.7 530.1,49.3 530.2,48.9 530.2,45.2 530.2,47.7 530.3,53.8 530.3,52.9 530.4,50.1 530.4,49.4 530.5,45.9 530.5,43.1 530.6,47.2 530.6,49.8 530.7,47.7 530.7,46.7 530.7,42.9 530.8,44.7 530.8,46.9 530.8,47.4 530.9,50.5 530.9,48.1 531,43.7 531,44.5 531.1,52 531.2,52.3 531.2,55.7 531.2,52.5 531.3,45.3 531.3,45.3 531.4,50.5 531.4,51.5 531.4,55.3 531.4,54.6 531.5,45.7 531.5,45.6 531.6,51.3 531.7,55.6 531.7,48.5 531.7,46.3 531.8,38.7 531.8,39.3 531.9,44.8 531.9,49.1 532,45.5 532,44.6 532,37.4 532.1,39 532.1,49.6 532.2,50.7 532.2,44.5 532.2,44.1 532.3,33.2 532.3,38.8 532.4,47.8 532.4,46.5 532.4,50.4 532.5,45.9 532.6,41.2 532.6,41.8 532.6,47 532.7,46.9 532.7,52.4 532.7,51 532.8,45.8 532.8,46.4 532.8,44.7 532.9,47.9 533,52 533,48.3 533.1,43.9 533.1,46.5 533.1,48.9 533.2,49 533.3,45.4 533.3,45.3 533.3,40.6 533.4,42.1 533.4,45.1 533.5,48.5 533.5,40.6 533.5,39.6 533.6,35.5 533.6,38 533.7,44.3 533.7,45.4 533.8,48.1 533.8,43.9 533.9,36.7 533.9,38.1 533.9,49.8 534,48.8 534,50.1 534.1,49.2 534.1,43.7 534.1,44.8 534.2,47.1 534.2,46.5 534.3,48.9 534.3,45.5 534.4,41.8 534.4,43.2 534.5,50.4 534.5,52.2 534.5,49.1 534.6,48.6 534.6,45.2 534.6,49 534.7,53 534.7,56.4 534.8,59.8 534.8,56.4 534.9,47.7 534.9,47.6 535,55.6 535,58.2 535.1,53.1 535.1,51.2 535.1,44.3 535.2,42.3 535.2,57.3 535.3,56.6 535.3,59 535.3,57.1 535.4,53 535.4,52.5 535.5,56.7 535.5,59.8 535.6,57.6 535.6,56.4 535.7,50.6 535.7,50.4 535.8,56 535.8,56.2 535.8,54.4 535.9,52 535.9,46.8 535.9,49.3 536,55.4 536,56.6 536.1,53.8 536.2,54.7 536.2,52.2 536.2,51.6 536.3,58.9 536.3,63.5 536.4,57.9 536.4,56.8 536.4,51.7 536.5,54.8 536.5,60.6 536.5,61.4 536.6,63.8 536.6,60.6 536.7,51.5 536.7,51.7 536.8,57 536.8,54.2 536.9,57.5 536.9,55.5 536.9,51.6 537,51.7 537,53.4 537.1,56 537.1,53.9 537.2,51.7 537.2,47.2 537.2,49.1 537.3,56.8 537.3,57.2 537.4,62.1 537.4,59 537.5,49.8 537.5,50.9 537.6,57.3 537.6,59.9 537.7,56 537.7,54.9 537.7,49 537.8,51 537.8,57.8 537.9,61.2 537.9,55.8 537.9,55.3 538,49.1 538,49.5 538.1,59.1 538.1,62.2 538.1,56.5 538.2,55.9 538.2,50.4 538.3,49.4 538.3,59.5 538.4,58.6 538.4,56.2 538.4,54.8 538.5,49.1 538.5,50.6 538.6,61.1 538.7,64.5 538.7,61.4 538.7,59.1 538.7,54.7 538.8,55.2 538.9,65.3 538.9,67.4 539,63.5 539,62.9 539,59.4 539.1,59.9 539.1,64.6 539.2,67.5 539.2,64.1 539.2,61.7 539.3,53.4 539.3,55 539.4,64.5 539.4,69.4 539.5,61.9 539.5,60.5 539.5,56.2 539.6,55.5 539.6,61.4 539.7,65.1 539.7,61.1 539.7,60.4 539.8,53.6 539.9,51.2 539.9,54.6 539.9,55.5 539.9,58.1 540,55.9 540.1,48.2 540.1,47.2 540.2,52.4 540.2,51.7 540.2,57.7 540.3,57.2 540.3,50.3 540.3,57.4 540.4,62.8 540.5,64.6 540.5,61.5 540.5,59.4 540.6,52.7 540.6,52.5 540.7,61.7 540.7,59.8 540.7,62.6 540.8,60.4 540.8,56 540.9,55.2 540.9,59.1 541,62.4 541,57.2 541,56.6 541.1,52.5 541.1,48.3 541.2,55.1 541.3,60.1 541.3,55.2 541.3,58.5 541.4,51.7 541.4,52.1 541.5,58.2 541.5,59.1 541.5,55.2 541.6,56.5 541.6,54.3 541.7,53.4 541.7,60.2 541.7,62.3 541.8,59.5 541.8,60.7 541.9,53.6 541.9,53.3 542,57.6 542,56.1 542.1,59.4 542.1,58.8 542.1,56.6 542.2,55.2 542.2,62.7 542.2,67.6 542.3,63.9 542.3,62.6 542.4,54 542.4,53.7 542.5,57.5" fill="none" stroke="#ffbc88" stroke-width="0.45" stroke-opacity="1.0" stroke-linejoin="round"/>
<rect x="444.8" y="7.5" width="100.9" height="80.9" fill="none" stroke="#8c8c8c" stroke-width="0.9"/>
<line x1="442.9" y1="7.4" x2="444.8" y2="7.4" stroke="#555" stroke-width="0.6"/>
<text x="441.9" y="9.6" text-anchor="end">320</text>
<line x1="442.9" y1="27.7" x2="444.8" y2="27.7" stroke="#555" stroke-width="0.6"/>
<text x="441.9" y="29.9" text-anchor="end">300</text>
<line x1="442.9" y1="48" x2="444.8" y2="48" stroke="#555" stroke-width="0.6"/>
<text x="441.9" y="50.2" text-anchor="end">280</text>
<line x1="442.9" y1="68.2" x2="444.8" y2="68.2" stroke="#555" stroke-width="0.6"/>
<text x="441.9" y="70.4" text-anchor="end">260</text>
<line x1="442.9" y1="88.2" x2="444.8" y2="88.2" stroke="#555" stroke-width="0.6"/>
<text x="441.9" y="90.4" text-anchor="end">240</text>
<line x1="458.7" y1="88.4" x2="458.7" y2="89.5" stroke="#777" stroke-width="0.5"/>
<line x1="480.3" y1="88.4" x2="480.3" y2="89.5" stroke="#777" stroke-width="0.5"/>
<line x1="501.9" y1="88.4" x2="501.9" y2="89.5" stroke="#777" stroke-width="0.5"/>
<line x1="523.5" y1="88.4" x2="523.5" y2="89.5" stroke="#777" stroke-width="0.5"/>
<line x1="443.6" y1="17.5" x2="444.8" y2="17.5" stroke="#777" stroke-width="0.5"/>
<line x1="443.6" y1="37.7" x2="444.8" y2="37.7" stroke="#777" stroke-width="0.5"/>
<line x1="443.6" y1="57.9" x2="444.8" y2="57.9" stroke="#777" stroke-width="0.5"/>
<line x1="443.6" y1="78.1" x2="444.8" y2="78.1" stroke="#777" stroke-width="0.5"/>
<line x1="447.9" y1="88.4" x2="447.9" y2="90.2" stroke="#555" stroke-width="0.6"/>
<text x="447.9" y="96.9" text-anchor="middle">0</text>
<line x1="469.5" y1="88.4" x2="469.5" y2="90.2" stroke="#555" stroke-width="0.6"/>
<text x="469.5" y="96.9" text-anchor="middle">2000</text>
<line x1="491.1" y1="88.4" x2="491.1" y2="90.2" stroke="#555" stroke-width="0.6"/>
<text x="491.1" y="96.9" text-anchor="middle">4000</text>
<line x1="512.7" y1="88.4" x2="512.7" y2="90.2" stroke="#555" stroke-width="0.6"/>
<text x="512.7" y="96.9" text-anchor="middle">6000</text>
<line x1="534.3" y1="88.4" x2="534.3" y2="90.2" stroke="#555" stroke-width="0.6"/>
<text x="534.3" y="96.9" text-anchor="middle">8000</text>
<text x="495.2" y="107.8" text-anchor="middle">Time (hours)</text>
<text transform="translate(428.5 48) rotate(-90)" text-anchor="middle">Min temperature (K)</text>
<line x1="480" y1="15.5" x2="493.9" y2="15.5" stroke="#ffbc88" stroke-width="0.6" stroke-opacity="0.6"/>
<text x="497" y="17.2">Min temperature</text>
</g>
<g font-size="6.75">
<line x1="28.2" y1="135.3" x2="129" y2="135.3" stroke="#f0f0f0" stroke-width="0.5"/>
<line x1="28.2" y1="153.3" x2="129" y2="153.3" stroke="#f0f0f0" stroke-width="0.5"/>
<line x1="28.2" y1="171.3" x2="129" y2="171.3" stroke="#f0f0f0" stroke-width="0.5"/>
<line x1="28.2" y1="189.3" x2="129" y2="189.3" stroke="#f0f0f0" stroke-width="0.5"/>
<polyline points="31.5,181.3 31.6,185 31.6,183.4 31.7,179.3 31.7,176.1 31.7,179.6 31.8,181.2 31.8,180 31.8,181.4 31.9,176.9 31.9,177 32,183.3 32,185.7 32.1,182.8 32.1,188.3 32.2,178.7 32.2,178.5 32.3,185 32.3,186.7 32.4,182.8 32.4,181.8 32.4,173.7 32.4,173.9 32.5,181.8 32.6,184.5 32.6,181.9 32.6,181.8 32.7,176.2 32.7,175.5 32.8,185.6 32.8,188.5 32.9,182.3 32.9,183 33,180.8 33,182.8 33,186.4 33.1,189.5 33.1,185.9 33.1,186.8 33.2,189.2 33.2,187.1 33.3,182.4 33.3,189.1 33.4,182.4 33.4,180.4 33.5,172.6 33.5,174.8 33.6,183.8 33.6,185.7 33.6,183 33.7,182 33.7,177.5 33.7,179 33.8,188.7 33.9,190.8 33.9,188.3 33.9,188.6 34,185.7 34,182.9 34.1,184.8 34.1,189.5 34.2,187.3 34.2,185.8 34.2,175.8 34.3,179.7 34.3,183.7 34.3,185.2 34.4,189.2 34.4,184.5 34.5,176.5 34.5,178.1 34.6,186 34.6,185.6 34.6,188.1 34.7,185.4 34.8,173.7 34.8,174.2 34.9,180.1 34.9,178.7 34.9,180.6 34.9,178.6 35,173.8 35,173.1 35.1,176.9 35.2,179.1 35.2,176.8 35.2,175.1 35.3,170.8 35.3,172.3 35.4,170.1 35.4,175.7 35.5,172.5 35.5,171.3 35.5,167.6 35.6,165 35.6,172.6 35.6,173.4 35.7,177.1 35.8,171.2 35.8,173 35.8,172.1 35.9,175.9 35.9,178.9 36,174.2 36,172.3 36.1,165.2 36.1,165.8 36.1,177.8 36.2,177.2 36.2,179.5 36.2,179.5 36.3,174.2 36.3,173.4 36.4,176.3 36.4,177.4 36.4,178.2 36.5,176.3 36.6,170.4 36.6,173.4 36.7,178.7 36.7,179.9 36.7,178 36.8,176.3 36.8,171.5 36.8,171.7 36.9,177.3 37,177.7 37,183.4 37,178.4 37.1,170 37.1,170.9 37.2,177.7 37.2,179.1 37.3,176.9 37.3,175.9 37.4,169.1 37.4,169.6 37.4,176.6 37.4,175.4 37.5,177.6 37.5,176.2 37.6,174.3 37.6,172.8 37.7,179 37.7,179.5 37.8,177.2 37.8,175.1 37.9,171.2 37.9,171.5 38,176.7 38,182.4 38,178.2 38.1,178.5 38.1,172.5 38.1,172.9 38.2,178.9 38.2,180.4 38.3,177.6 38.3,178.2 38.4,171.5 38.4,166 38.5,179.3 38.5,182.7 38.6,179.4 38.6,179.2 38.6,175.2 38.7,175.8 38.7,180.5 38.7,182.4 38.8,177.6 38.9,175.6 38.9,176.6 38.9,173.6 39,177.6 39,179.5 39.1,173.6 39.1,173.7 39.1,164.7 39.2,167.2 39.2,170.7 39.3,169.6 39.3,172.4 39.3,170 39.4,167.8 39.4,168.2 39.5,174.7 39.5,178.2 39.6,173.3 39.6,170.8 39.7,165 39.7,165 39.8,175.5 39.8,176.1 39.9,171.8 39.9,171.5 39.9,164.4 39.9,164.1 40,168.2 40,169.6 40.1,171.1 40.1,170.2 40.2,166.4 40.2,166.1 40.3,174 40.3,175.8 40.3,178.2 40.4,176.9 40.4,168.4 40.5,168.6 40.5,171.7 40.6,172.2 40.6,177.3 40.6,173.4 40.7,166.5 40.7,167.2 40.8,174.5 40.8,175.7 40.9,178.9 40.9,174.9 40.9,170.2 41,169.4 41.1,171.9 41.1,171.3 41.1,175.4 41.2,170.3 41.2,168 41.2,169.2 41.3,173.4 41.3,174.2 41.3,176.2 41.4,172.9 41.5,164.8 41.5,165.9 41.6,174.1 41.6,174.9 41.7,177 41.7,176.5 41.7,171.5 41.8,171.8 41.8,174.7 41.9,178.6 41.9,175.2 41.9,174.7 42,167.9 42,167.8 42.1,180.4 42.1,180.7 42.2,174.7 42.2,177.7 42.2,170.1 42.3,169.7 42.4,174.4 42.4,175 42.4,179.1 42.4,177.1 42.5,172.8 42.6,172.8 42.6,176.2 42.6,177.4 42.7,179.3 42.7,178.1 42.8,169.3 42.8,168.5 42.9,175.4 42.9,174.7 42.9,177.7 43,172.3 43,179.5 43.1,172.9 43.1,174.4 43.2,178.9 43.2,176.4 43.2,178.5 43.3,170.5 43.3,171.8 43.4,180.2 43.4,181.4 43.5,177.1 43.5,176 43.5,172.5 43.6,171.7 43.6,177.2 43.7,180 43.7,176.4 43.7,176.2 43.8,172.9 43.8,172 43.9,178.2 43.9,178.3 44,174.5 44,174.7 44.1,169.7 44.1,169.4 44.2,175.5 44.2,177.8 44.2,174.9 44.3,175.8 44.3,172.7 44.3,171.4 44.4,174.2 44.4,173.3 44.5,169.1 44.5,174.4 44.6,169.1 44.7,169.2 44.7,170.5 44.7,176.6 44.8,173.6 44.8,171.8 44.8,168.5 44.9,168.7 44.9,179.6 45,181.8 45,179.9 45,178.4 45.1,175.1 45.1,174.7 45.2,179.1 45.2,182 45.3,177.9 45.3,177.7 45.4,172.4 45.4,172.1 45.5,177 45.5,176.9 45.5,180.4 45.6,176.3 45.6,168.8 45.6,167.1 45.7,179.1 45.7,179.1 45.8,177.8 45.8,178 45.8,171.2 45.9,174.9 45.9,177.7 46,181.7 46.1,176.9 46.1,175.8 46.1,165.5 46.2,170.3 46.2,175 46.3,172.5 46.3,173.4 46.3,172.6 46.4,167.7 46.4,167.3 46.5,171.5 46.5,175.1 46.6,170.7 46.6,174.9 46.6,166.9 46.7,167.9 46.7,174.5 46.8,175.9 46.8,172.9 46.8,172.1 46.9,168.2 46.9,165.4 47,170.9 47,170.5 47.1,172.3 47.1,172.3 47.2,168.7 47.2,169.4 47.2,174.2 47.3,176.5 47.4,173.8 47.4,172.8 47.4,166.6 47.4,166.5 47.5,174.2 47.5,174 47.6,177.1 47.6,176.8 47.7,170.9 47.7,169.6 47.8,174.2 47.8,174.9 47.9,177.8 47.9,178.1 47.9,173.4 48,175.3 48,173.5 48.1,175.3 48.1,171.7 48.1,171.4 48.2,168.9 48.3,169 48.3,171.2 48.4,170.8 48.4,168.2 48.4,168 48.4,163.7 48.5,164.3 48.5,170.8 48.6,174.2 48.6,168.8 48.7,168.3 48.7,162.9 48.7,163.3 48.8,166.3 48.8,163.6 48.9,166.4 48.9,166.6 49,164.3 49,163.5 49.1,169.2 49.1,170.9 49.2,166 49.2,166.8 49.2,162.1 49.3,161.2 49.3,165.8 49.3,165.8 49.4,169.6 49.4,168.2 49.5,162.6 49.5,164 49.6,168 49.6,169.5 49.7,167.1 49.7,166.9 49.7,162.4 49.8,161.5 49.8,170.8 49.9,171.4 49.9,166.2 49.9,164.6 50,160.3 50.1,161.3 50.1,166.8 50.1,166.9 50.2,168.2 50.2,166.4 50.3,162.7 50.3,162.3 50.4,164.4 50.4,166.9 50.4,168.8 50.5,170.4 50.5,160.6 50.6,159.7 50.6,165.5 50.7,167.6 50.7,165.7 50.7,165.2 50.8,160.6 50.8,160.9 50.9,167.7 50.9,169.1 51,163 51,162.4 51,158.6 51.1,158.8 51.1,165.1 51.2,167.3 51.2,163.9 51.2,163.3 51.3,154.7 51.3,155.4 51.4,165.3 51.4,166.1 51.5,171.3 51.5,169.5 51.6,163.8 51.6,164.2 51.7,170.2 51.7,171.7 51.7,174.1 51.8,172.3 51.8,167.2 51.8,166.9 51.9,170.1 51.9,169.3 52,171.1 52,167.4 52.1,163.5 52.1,162.6 52.2,169.3 52.2,168.4 52.3,170.6 52.3,167.4 52.3,165.4 52.4,165.6 52.4,172.2 52.5,173.2 52.5,170.1 52.5,168.5 52.6,161.8 52.6,161.3 52.7,164.5 52.7,163.1 52.8,166 52.8,164.8 52.9,163 52.9,162.2 53,165.2 53,167 53,168.9 53,166.1 53.1,158 53.1,163.9 53.2,168.4 53.3,171.3 53.3,166.4 53.3,163.7 53.4,152.5 53.4,150.3 53.5,162.5 53.5,161.8 53.6,159.8 53.6,160.3 53.6,158.9 53.7,158 53.7,166.1 53.8,168 53.8,165.2 53.8,164.5 53.9,160 53.9,158.1 54,163.4 54.1,166.1 54.1,162.8 54.1,162.2 54.1,158 54.2,157.7 54.2,166.5 54.3,165.6 54.3,169 54.3,165.1 54.4,161.8 54.4,158.3 54.5,160.2 54.6,170.1 54.6,163.5 54.6,161.6 54.7,154.7 54.7,155.4 54.8,165 54.8,167.4 54.8,163.3 54.9,161.6 54.9,158.7 55,159.9 55,166.7 55,166.2 55.1,163.4 55.1,163.3 55.2,159.3 55.2,159.8 55.3,163.6 55.3,164.4 55.4,166.7 55.4,166.1 55.4,157.8 55.5,157.7 55.5,160.6 55.6,161.1 55.6,158.3 55.7,155 55.7,161.9 55.7,156.2 55.8,159.1 55.8,160.8 55.9,165.2 55.9,165 56,161 56,162.4 56.1,167.2 56.1,167.9 56.1,166.7 56.2,167.6 56.2,172 56.3,165.8 56.3,170.4 56.3,174.2 56.4,170.9 56.4,170.6 56.5,167.2 56.5,168.9 56.6,173.2 56.6,173.9 56.6,169.2 56.7,168 56.7,162 56.8,161.2 56.8,164.6 56.9,168.1 56.9,164 56.9,165.6 57,163.3 57,162.6 57.1,167.1 57.1,169.3 57.1,163.2 57.2,165.8 57.3,157.2 57.3,155.1 57.3,162.6 57.4,165.7 57.4,163 57.5,163.2 57.5,158.1 57.5,158.3 57.6,166 57.7,169.2 57.7,167 57.7,165.4 57.8,160.4 57.8,160.9 57.9,169.6 57.9,171.7 58,168.8 58,166.7 58,161.5 58.1,162.5 58.1,167.2 58.2,171.5 58.2,166.4 58.2,164.4 58.3,158.2 58.3,159.7 58.4,166.8 58.4,167 58.5,164.6 58.5,164.2 58.5,160 58.6,163.6 58.6,161.5 58.7,164.3 58.7,167.7 58.7,166 58.8,159.7 58.8,157 58.9,164.9 58.9,166.5 59,165.9 59,165.7 59.1,159.1 59.1,158.3 59.2,167.7 59.2,167.3 59.2,165.7 59.3,165.1 59.3,161.3 59.4,160.8 59.4,161.9 59.4,162.6 59.5,155.4 59.5,156.8 59.6,159.4 59.6,159.1 59.7,166.3 59.7,167.1 59.7,170.6 59.8,166.3 59.8,162.6 59.9,162 59.9,168.7 59.9,168.6 60,170.9 60,168.6 60.1,162.7 60.1,162.8 60.2,165.1 60.2,167.3 60.3,165 60.3,164.5 60.4,160 60.4,159.1 60.4,164 60.5,166 60.5,162.5 60.5,162.1 60.6,155 60.6,156.8 60.7,161.9 60.8,162 60.8,159.6 60.8,159 60.9,161.1 60.9,159.5 61,163.9 61,164.9 61,162.8 61.1,163.4 61.1,158.4 61.2,161 61.2,164.8 61.2,167.6 61.3,164.5 61.3,164.5 61.4,160.7 61.4,162 61.5,166.4 61.5,166.8 61.6,161 61.6,160.6 61.6,156.7 61.7,155.3 61.7,160.5 61.8,163.9 61.8,159.6 61.8,156.9 61.9,149.1 61.9,148.8 62,157.2 62,158.8 62.1,160.8 62.1,159 62.2,153.2 62.2,154.9 62.3,162.7 62.3,162.3 62.3,165.2 62.4,163.5 62.4,158.5 62.5,161.8 62.5,165.4 62.5,164.9 62.6,168.7 62.6,164.1 62.7,156.2 62.7,155 62.8,160 62.8,160.8 62.8,163.5 62.9,159.7 62.9,151.2 63,153.6 63,158.7 63.1,160.3 63.1,157.4 63.1,157.1 63.2,152.2 63.2,153 63.3,157.9 63.3,159.6 63.3,162.6 63.4,160.6 63.5,155 63.5,154.2 63.6,162.1 63.6,165.3 63.6,164 63.7,162.8 63.7,155.1 63.7,155.1 63.8,165.3 63.8,167.3 63.9,164.5 63.9,163.4 64,159.3 64,159.7 64.1,164.9 64.1,165.5 64.1,167.8 64.2,165.8 64.2,160.3 64.3,161 64.3,164.3 64.4,166.7 64.4,164.2 64.4,163.8 64.5,156.5 64.5,155.5 64.6,161.1 64.6,158.3 64.7,159.8 64.7,161.5 64.7,156.7 64.8,156.2 64.8,160.1 64.9,164 64.9,161.8 64.9,160.5 65,153.2 65.1,153.3 65.1,155.8 65.1,159 65.2,156.9 65.2,154.3 65.3,155.7 65.3,153.5 65.4,157.3 65.4,158.1 65.5,156.6 65.5,155.4 65.5,149.6 65.5,149.5 65.6,157 65.6,156.9 65.7,161.4 65.7,164.6 65.8,155.9 65.8,154.2 65.9,157.1 65.9,158.9 66,153.5 66,152 66,153.8 66.1,153.1 66.1,161.8 66.2,162.1 66.2,159.4 66.3,166 66.3,158.1 66.3,159.3 66.4,163.8 66.4,162.8 66.5,164.6 66.5,163.9 66.6,158.1 66.6,157.7 66.7,161.4 66.7,162.3 66.7,160.6 66.8,160.4 66.8,153.1 66.8,151.5 66.9,157.8 67,158.3 67,156.7 67,156.3 67.1,152.9 67.1,153.4 67.2,161.2 67.2,164.3 67.3,160.1 67.3,158.3 67.3,148.1 67.4,147.6 67.4,157.1 67.5,158.2 67.5,155.8 67.6,155.1 67.6,151.6 67.6,152.9 67.7,156.9 67.7,157.5 67.8,161.7 67.8,159.8 67.8,154.7 67.9,155.3 68,162.6 68,164.4 68,160.9 68,159.4 68.1,153.7 68.1,154.3 68.2,161.3 68.3,162.3 68.3,158.3 68.3,156.9 68.4,155.9 68.4,155.8 68.5,159.8 68.5,163.1 68.6,160.2 68.6,157.7 68.6,153.8 68.7,156.2 68.7,159 68.7,159.9 68.8,161.7 68.8,161.7 68.9,155 68.9,154.3 69,156.6 69,157.6 69.1,160.3 69.1,159.1 69.2,153.8 69.2,153 69.2,156.3 69.3,158.5 69.3,156.4 69.3,155.9 69.4,151.7 69.4,151.9 69.5,158.8 69.6,161.1 69.6,158.7 69.6,157.9 69.7,150.1 69.7,150.6 69.8,157 69.8,159.6 69.8,156 69.9,154.8 69.9,147.7 69.9,148.9 70,157.4 70.1,160.2 70.1,158 70.1,157.3 70.2,152.2 70.2,151.3 70.3,157.1 70.3,160.5 70.4,157.5 70.4,154.6 70.4,148.4 70.5,146.6 70.5,152.7 70.5,151.3 70.6,153.8 70.6,152.1 70.7,150.2 70.7,151 70.8,156.2 70.9,157.4 70.9,155.1 70.9,154.4 71,148 71,144.3 71.1,156.6 71.1,157.4 71.1,160 71.2,158.2 71.2,151 71.2,151.1 71.3,156.3 71.3,156.5 71.4,152.3 71.4,155.5 71.5,151.9 71.5,152.6 71.6,155.2 71.6,157 71.6,160.9 71.7,158.5 71.7,146.6 71.8,151.9 71.8,161.4 71.8,163.5 71.9,159.1 71.9,158.8 72,155.1 72,155.8 72.1,159.5 72.2,169.8 72.2,159.1 72.2,157.1 72.3,154.8 72.3,154.5 72.3,157.5 72.4,159.5 72.4,155.3 72.4,154.7 72.5,151.4 72.5,152.3 72.6,156.8 72.6,159.1 72.7,155.9 72.7,155.9 72.8,149.3 72.8,150.1 72.9,157.7 72.9,154.8 72.9,157.3 73,154.2 73,150.2 73,151.1 73.1,154.4 73.1,156.7 73.2,159.6 73.2,156 73.3,145.8 73.3,145.9 73.4,151 73.4,152.6 73.5,149.8 73.5,148.8 73.5,145.1 73.6,148.3 73.6,154.7 73.7,156.6 73.7,152.8 73.7,152.4 73.8,147.6 73.8,147 73.9,154.1 74,156.7 74,153.6 74,153.1 74,151.1 74.1,149.7 74.1,153.8 74.2,156.9 74.2,154.3 74.3,153.7 74.3,144.7 74.3,144.2 74.4,153.5 74.4,152.8 74.5,155.7 74.5,153.3 74.6,148.5 74.6,148.6 74.7,158.5 74.7,159.2 74.8,153.8 74.8,153.1 74.8,147.9 74.9,149.2 74.9,152 75,154 75,150.1 75.1,147 75.1,149.9 75.1,149.1 75.2,151.7 75.2,161.4 75.3,150.8 75.3,151.5 75.4,141 75.4,141.9 75.5,151.9 75.5,152.2 75.5,155.2 75.5,151.9 75.6,147.9 75.6,148.9 75.7,153.1 75.8,155.9 75.8,152.7 75.8,150.8 75.9,143 75.9,144.6 76,154.5 76,158 76.1,154.3 76.1,153.1 76.1,145 76.2,146.9 76.2,152.7 76.3,153.7 76.3,151 76.3,151.3 76.4,143.2 76.4,142.8 76.5,148.1 76.5,150.3 76.6,148 76.6,148.1 76.7,144.9 76.7,143.9 76.7,151.5 76.8,153.7 76.8,149.1 76.8,148.1 76.9,142.8 76.9,142.4 77,148.4 77.1,151.4 77.1,148.9 77.1,147.9 77.1,143.7 77.2,144.4 77.3,151 77.3,152.5 77.3,155 77.4,151.9 77.4,146.7 77.5,145.6 77.5,152.7 77.6,153 77.6,150.8 77.6,151.1 77.7,147.3 77.7,148.7 77.8,146.3 77.8,147.8 77.8,154.8 77.9,150.5 77.9,148.2 78,150.2 78,152.4 78.1,152.7 78.1,150.9 78.1,151.7 78.2,147 78.2,147.9 78.3,151.5 78.3,151.8 78.3,154.9 78.4,152.5 78.4,150.5 78.5,151.7 78.6,156.7 78.6,156.4 78.6,153.4 78.7,152.6 78.7,149.3 78.8,148.1 78.8,150.9 78.8,151.5 78.9,153.2 78.9,150.8 78.9,146.7 79,148.8 79.1,152.4 79.1,156.9 79.2,153.2 79.2,152.6 79.2,144.8 79.3,145.7 79.3,155 79.4,157.6 79.4,151.9 79.4,151.1 79.5,147.4 79.5,145 79.6,152.7 79.6,155.2 79.7,151.6 79.7,150.6 79.8,144.2 79.8,144.6 79.8,154.4 79.9,154.1 79.9,156.2 79.9,153.5 80,145.9 80,145.9 80.1,150.7 80.2,152.3 80.2,148.2 80.2,149.4 80.3,144.8 80.3,145.5 80.4,152.2 80.4,155.3 80.5,150.9 80.5,150.3 80.5,145.6 80.6,147.1 80.6,153.2 80.7,153.2 80.7,150.8 80.7,150.7 80.8,144.1 80.8,145.4 80.9,151.8 80.9,155.3 81,151.6 81,151.8 81.1,142.3 81.1,142.8 81.1,149.1 81.2,149.6 81.2,145.8 81.3,146.5 81.3,144.6 81.3,143.9 81.4,149.5 81.4,150.3 81.5,148.9 81.5,148.5 81.5,145.6 81.6,146.1 81.6,150.1 81.7,150.1 81.7,154.5 81.8,153.8 81.8,150.7 81.8,151.2 81.9,154.5 82,158.3 82,155.6 82,153.9 82.1,150.3 82.1,154.7 82.1,151.5 82.2,152.8 82.2,155.1 82.3,154.1 82.3,152.9 82.4,152.4 82.4,155.2 82.4,157.4 82.5,158.7 82.5,157.4 82.6,150.5 82.6,149.8 82.7,154.9 82.7,154.2 82.7,155.9 82.8,155.3 82.9,149.9 82.9,148.8 82.9,154 83,153.6 83,151.7 83.1,151.1 83.1,153.1 83.1,153.1 83.2,157.1 83.2,158.7 83.3,155.9 83.3,154.9 83.4,151.5 83.4,151.6 83.5,155.3 83.5,155.2 83.5,153.4 83.6,152.5 83.6,148.1 83.7,148.3 83.7,152.3 83.7,153.1 83.8,151.7 83.8,152.5 83.9,142.6 83.9,148.1 84,153.6 84,156.4 84.1,153.6 84.1,152.3 84.2,146.7 84.2,147.5 84.2,151.2 84.3,153.9 84.3,150.9 84.3,149.3 84.4,144.5 84.4,143.3 84.5,149.4 84.6,148.2 84.6,150.6 84.6,150.4 84.7,152.9 84.7,150.5 84.8,156.1 84.8,157.6 84.8,150.1 84.9,150.2 84.9,146.1 84.9,146.9 85,155.4 85,153.3 85.1,154.9 85.1,154.1 85.2,151.5 85.2,151.8 85.3,155.4 85.3,155.1 85.3,156.9 85.4,154.6 85.4,150.7 85.5,151.8 85.5,155.2 85.6,157.7 85.6,153.8 85.6,152.6 85.7,149 85.7,149.1 85.8,158.4 85.8,154.3 85.8,159.1 85.9,155.8 86,150.2 86,150 86.1,153.9 86.1,157.6 86.1,154.8 86.2,153.2 86.2,147.5 86.3,147.3 86.3,153 86.4,155.2 86.4,152.7 86.4,151.6 86.5,146.8 86.5,143 86.6,155.2 86.6,156.8 86.6,160.4 86.7,155.6 86.7,150.6 86.8,144.8 86.8,155.8 86.9,155.6 86.9,153.1 86.9,153.2 87,150.5 87,152 87.1,155.8 87.1,158.6 87.2,154.3 87.2,152.9 87.2,146.7 87.3,148 87.3,155.5 87.4,157.6 87.4,153.4 87.4,153.1 87.5,147.4 87.5,147.5 87.6,155.9 87.7,155.7 87.7,154 87.7,154.3 87.8,148.7 87.8,149.4 87.9,154.4 87.9,153.6 88,152 88,151.1 88,149.5 88.1,149.5 88.1,150.5 88.1,152.7 88.2,156.6 88.2,153.3 88.3,151.3 88.3,150.7 88.4,156.6 88.4,158.1 88.5,155.3 88.5,153.2 88.5,149.8 88.6,150.3 88.6,156.3 88.7,159 88.7,156.6 88.7,155.4 88.8,148.1 88.8,148.7 88.9,154.4 88.9,156.3 89,153.5 89,151.4 89,148 89.1,147.3 89.1,151.6 89.2,153 89.2,157.1 89.3,153.1 89.3,150 89.4,149.5 89.4,155.3 89.5,156.2 89.5,154.7 89.5,155.4 89.6,151.5 89.6,151.5 89.7,154 89.7,156.1 89.7,158.5 89.8,157.1 89.8,149.5 89.9,150.3 89.9,157.5 90,158.2 90,155.8 90,154.8 90.1,148.4 90.1,148.4 90.2,153.1 90.2,154.3 90.2,155.8 90.3,153.1 90.4,146.1 90.4,147.7 90.4,153.3 90.5,153.2 90.5,151 90.6,151.2 90.6,148.8 90.7,148.6 90.7,149.8 90.7,149.1 90.8,153.5 90.8,153.1 90.9,148.7 90.9,148.4 91,154.2 91,156.9 91,159 91.1,157.6 91.1,150.1 91.2,149.9 91.2,154.7 91.3,155.9 91.3,152.7 91.3,152.1 91.4,149 91.5,150.5 91.5,153.2 91.5,157.9 91.6,153.7 91.6,151.8 91.7,143.4 91.7,144.7 91.7,152.9 91.8,153 91.8,155.7 91.8,154.4 91.9,149.9 91.9,149.5 92,155.5 92,159.9 92.1,157.2 92.1,156.2 92.2,149.6 92.2,150.2 92.3,156.3 92.3,156.4 92.3,154.1 92.4,153.5 92.4,152.4 92.4,152.8 92.5,155.7 92.5,156 92.6,158.1 92.6,156.3 92.7,152.4 92.7,153.3 92.8,155.6 92.8,154.4 92.8,156.9 92.9,155.4 92.9,150.5 93,151.2 93,158.2 93.1,162 93.1,159 93.1,158.1 93.2,149.7 93.2,150.5 93.3,158.3 93.3,158.8 93.4,155.1 93.4,155 93.5,151.6 93.5,152.5 93.5,151.3 93.6,155.9 93.6,153.4 93.7,153.1 93.7,146.7 93.7,146.1 93.8,152.6 93.8,149.9 93.9,151.9 93.9,149.3 94,146.9 94,148.3 94.1,155.2 94.1,154.6 94.1,157.4 94.2,154.1 94.2,152.6 94.3,152.5 94.3,156.1 94.4,157.6 94.4,155.1 94.4,154.8 94.5,149.2 94.5,148.9 94.6,157.6 94.6,158.8 94.7,156.2 94.7,155.7 94.7,152.7 94.8,153.2 94.8,157.9 94.9,158.9 94.9,157.2 95,157 95,155.2 95,156.3 95.1,160.5 95.1,161.2 95.1,159.6 95.2,159.6 95.2,158.6 95.3,158.9 95.4,161.1 95.4,162.5 95.4,164.1 95.5,161.8 95.5,157.9 95.5,159.1 95.6,162.7 95.7,163.6 95.7,159.9 95.7,159.6 95.8,155.7 95.8,156.9 95.9,159.6 95.9,163.1 96,157.3 96,156.1 96.1,149 96.1,150.2 96.1,159.6 96.2,161.8 96.2,160.1 96.2,159 96.3,150.8 96.3,150.8 96.4,159 96.4,159.5 96.5,162.1 96.5,158.9 96.5,155.4 96.6,156 96.6,161.6 96.7,166.7 96.7,163 96.8,162.6 96.8,156.1 96.9,157.1 96.9,164.4 96.9,165.2 97,160.5 97,160.4 97.1,155.2 97.1,155.7 97.2,164.2 97.2,164.5 97.3,159 97.3,157.3 97.3,152.6 97.4,154.4 97.4,159.8 97.5,160.9 97.5,157.6 97.5,158.7 97.6,152.3 97.6,152.5 97.7,155.7 97.7,157 97.7,158.9 97.8,156.7 97.9,147 97.9,149.1 97.9,158.6 98,161.3 98,159 98,160.1 98.1,158.1 98.1,158.2 98.2,161.7 98.2,162.9 98.3,159.3 98.3,158.7 98.4,152.6 98.4,152.1 98.5,156.9 98.5,157.4 98.5,159.8 98.6,158.2 98.6,156.8 98.7,156.2 98.7,160.4 98.7,161.8 98.8,164.4 98.8,160.5 98.9,156.1 98.9,156.7 99,162.7 99,164.6 99.1,162.1 99.1,161.6 99.2,154.2 99.2,153.3 99.2,160.6 99.3,165.4 99.3,160.9 99.3,159.9 99.4,154.3 99.4,153.6 99.5,160.7 99.5,161.4 99.6,156.5 99.6,156.4 99.7,151.6 99.7,152.1 99.8,156.4 99.8,157.8 99.8,159.5 99.9,157.4 99.9,149.8 99.9,150.4 100,157.8 100.1,161.4 100.1,158.1 100.1,156.4 100.2,152.4 100.2,150.7 100.3,153.9 100.3,155.7 100.3,157.7 100.4,154.4 100.4,150.2 100.5,150 100.5,159.6 100.5,161.1 100.6,163.1 100.6,161.9 100.7,150.2 100.7,154.3 100.8,163.8 100.8,165.5 100.8,162.2 100.9,163.1 101,157.7 101,156.4 101.1,158.9 101.1,159.7 101.1,156.8 101.1,156.1 101.2,153.3 101.2,154.6 101.3,160.9 101.4,162.7 101.4,159.6 101.4,159.4 101.5,155.2 101.5,154.7 101.6,160.2 101.6,160.1 101.6,156.9 101.7,156.7 101.7,152.2 101.8,152.9 101.8,159.7 101.8,159.3 101.9,163.6 101.9,161.4 102,157.2 102,158.5 102.1,165.1 102.1,164.5 102.2,161.9 102.2,161.6 102.2,156.8 102.3,157.5 102.3,161.8 102.4,163.5 102.4,167.6 102.4,165 102.5,158.2 102.5,157.9 102.6,162.8 102.6,163 102.7,160.2 102.7,160.6 102.8,157.9 102.8,158 102.9,164.7 102.9,166.9 102.9,164.4 103,164.3 103,157.5 103,159 103.1,164.2 103.2,166.3 103.2,163.3 103.2,162.3 103.3,155.7 103.3,156.3 103.4,165.1 103.4,168 103.5,162.1 103.5,161.4 103.6,156.1 103.6,157.7 103.6,165.1 103.7,165.4 103.7,163.3 103.7,164.7 103.8,162.2 103.8,162.5 103.9,164.4 103.9,165.5 104,162.5 104,163.6 104.1,159.7 104.1,164.4 104.2,158.5 104.2,168.7 104.2,165.3 104.3,167.5 104.3,158.3 104.3,160 104.4,162.9 104.5,164.7 104.5,162 104.5,160.8 104.6,155.3 104.6,150.3 104.7,163.8 104.7,162.8 104.7,160.5 104.8,161.7 104.8,159.9 104.9,160.9 104.9,165.3 105,167.1 105,165.5 105,164.5 105.1,157.3 105.1,156.5 105.2,160.5 105.3,164.6 105.3,162 105.3,159.8 105.4,154.4 105.4,154.2 105.4,163.5 105.5,164.7 105.5,167.3 105.5,165.2 105.6,162.1 105.6,162.7 105.7,172.6 105.8,173.4 105.8,171.2 105.8,170.5 105.9,164.1 105.9,163.1 105.9,168.2 106,170.1 106.1,165.6 106.1,164.9 106.1,159.1 106.2,158.5 106.2,161.5 106.2,164 106.3,167.9 106.3,164.9 106.4,159.5 106.4,159.6 106.5,167.2 106.5,167.8 106.6,163.9 106.6,166.1 106.6,162.6 106.7,162.7 106.7,167.5 106.8,167 106.8,172.1 106.8,167.8 106.9,157.6 106.9,159.2 107,167.2 107,166.3 107.1,163.3 107.1,162.3 107.2,155.3 107.2,156 107.3,163.8 107.3,165.2 107.3,167.6 107.4,164.8 107.4,161.4 107.4,163.6 107.5,168.7 107.6,172.2 107.6,165 107.6,168.4 107.7,161 107.7,159.5 107.8,168.7 107.8,169.2 107.9,167.3 107.9,166.1 107.9,161.9 108,160.6 108,166.5 108.1,170.8 108.1,167.8 108.1,164.9 108.2,158.7 108.2,159.2 108.3,167.5 108.3,168.6 108.4,166.1 108.4,165.7 108.4,161.5 108.5,163.1 108.6,166.8 108.6,169.5 108.6,168.3 108.6,169.4 108.7,166.4 108.8,167.2 108.8,169.5 108.8,173.1 108.9,170.4 108.9,167.4 109,162 109,163.9 109.1,168.2 109.1,170.9 109.2,167.5 109.2,167.4 109.2,159.9 109.3,159.9 109.3,170.3 109.3,170.6 109.4,167.5 109.4,165.8 109.5,159.7 109.5,158.6 109.6,164.8 109.6,163.4 109.7,168.1 109.7,163.1 109.8,157.3 109.8,156.1 109.8,159.3 109.9,161.3 109.9,160.3 110,161.4 110,162.1 110,162 110.1,167.2 110.1,170 110.2,168 110.2,168.4 110.3,163.4 110.3,163.1 110.4,169.3 110.4,168 110.4,170.3 110.5,169.4 110.5,163 110.5,163.4 110.6,166.7 110.6,168.2 110.7,170.7 110.7,168.2 110.8,164.1 110.8,164.2 110.9,170.5 110.9,170.9 111,168.7 111,167.8 111,161.7 111.1,162.6 111.1,165.8 111.1,167.9 111.2,170.5 111.2,168.6 111.3,158.7 111.3,158.9 111.4,167.4 111.4,167.6 111.5,169.8 111.5,171.1 111.6,164.7 111.6,164.2 111.6,167.6 111.7,169.8 111.7,168 111.8,167.2 111.8,162.9 111.8,163.6 111.9,169.5 112,172.1 112,168.8 112,169.9 112.1,167.5 112.1,167.5 112.2,174.4 112.2,177.9 112.3,176.3 112.3,174.7 112.3,169.6 112.4,163.5 112.4,172.5 112.5,176.5 112.5,171.9 112.5,173.1 112.6,166.7 112.6,167 112.7,185 112.7,177.3 112.8,179.4 112.8,175.4 112.8,169.5 112.9,168.4 112.9,173.3 113,177.5 113,174 113,173.3 113.1,162.3 113.1,162.6 113.2,169.8 113.2,170.6 113.3,167.2 113.3,165.5 113.4,159.7 113.4,160.1 113.5,168.4 113.5,168.4 113.5,170.7 113.6,170.3 113.6,167.1 113.6,169.3 113.7,174.7 113.7,173.9 113.8,171.4 113.8,170.8 113.9,167.7 113.9,165.2 114,168.8 114,171.1 114.1,169.2 114.1,168.4 114.1,165 114.2,166.6 114.2,168.6 114.3,169 114.3,171.8 114.3,169.6 114.4,165.7 114.4,166.5 114.5,173 114.6,173.4 114.6,176.3 114.6,173.5 114.7,167.1 114.7,167.1 114.8,171.8 114.8,172.6 114.8,176 114.9,175.4 114.9,167.4 114.9,167.4 115,172.5 115.1,176.3 115.1,169.9 115.1,168 115.2,161.2 115.3,161.8 115.3,166.7 115.3,170.5 115.4,167.3 115.4,166.5 115.4,160.1 115.5,161.5 115.5,170.9 115.6,172 115.6,166.4 115.6,166.1 115.7,156.4 115.7,161.3 115.8,169.4 115.8,168.2 115.8,171.6 115.9,167.6 116,163.4 116,164 116.1,168.6 116.1,168.5 116.1,173.4 116.1,172.2 116.2,167.6 116.2,168.1 116.2,166.6 116.3,169.5 116.4,173.1 116.4,169.8 116.5,165.9 116.5,168.2 116.5,170.3 116.6,170.5 116.7,167.2 116.7,167.1 116.7,162.9 116.8,164.3 116.8,167 116.9,170 116.9,163 116.9,162.1 117,158.4 117,160.7 117.1,166.3 117.1,167.2 117.2,169.6 117.2,165.9 117.3,159.5 117.3,160.7 117.3,171.2 117.4,170.2 117.4,171.4 117.5,170.6 117.5,165.7 117.5,166.6 117.6,168.8 117.6,168.2 117.7,170.4 117.7,167.3 117.8,164 117.8,165.2 117.9,171.7 117.9,173.3 117.9,170.5 118,170.1 118,167.1 118,170.4 118.1,174 118.1,177 118.2,180 118.2,177 118.3,169.2 118.3,169.2 118.4,176.3 118.4,178.6 118.5,174.1 118.5,172.4 118.5,166.2 118.6,164.5 118.6,177.8 118.6,177.2 118.7,179.3 118.7,177.6 118.8,174 118.8,173.5 118.9,177.3 118.9,180 119,178 119,177 119.1,171.9 119.1,171.7 119.2,176.7 119.2,176.9 119.2,175.2 119.3,173.1 119.3,168.5 119.3,170.7 119.4,176.1 119.4,177.1 119.5,174.7 119.6,175.5 119.6,173.2 119.6,172.8 119.7,179.2 119.7,183.3 119.8,178.3 119.8,177.4 119.8,172.8 119.9,175.6 119.9,180.7 119.9,181.4 120,183.6 120,180.7 120.1,172.6 120.1,172.9 120.2,177.5 120.2,175 120.3,178 120.3,176.2 120.3,172.7 120.4,172.8 120.4,174.3 120.5,176.6 120.5,174.8 120.5,172.8 120.6,168.8 120.6,170.5 120.7,177.3 120.7,177.7 120.8,182.1 120.8,179.3 120.9,171.2 120.9,172.1 121,177.8 121,180.1 121.1,176.6 121.1,175.7 121.1,170.4 121.2,172.2 121.2,178.2 121.3,181.2 121.3,176.5 121.3,176.1 121.4,170.5 121.4,170.9 121.5,179.4 121.5,182.2 121.5,177.1 121.6,176.6 121.6,171.6 121.7,170.7 121.7,179.8 121.8,178.9 121.8,176.8 121.8,175.6 121.9,170.5 121.9,171.8 122,181.2 122.1,184.2 122.1,181.5 122.1,179.4 122.1,175.5 122.2,175.9 122.3,184.9 122.3,186.8 122.3,183.3 122.4,182.8 122.4,179.7 122.5,180.2 122.5,184.3 122.6,186.9 122.6,183.9 122.6,181.7 122.7,174.3 122.7,175.7 122.8,184.2 122.8,188.5 122.9,181.9 122.9,180.6 122.9,176.8 123,176.2 123,181.5 123.1,184.7 123.1,181.2 123.1,180.5 123.2,174.5 123.2,172.4 123.3,175.4 123.3,176.2 123.3,178.5 123.4,176.6 123.5,169.7 123.5,168.8 123.6,173.4 123.6,172.8 123.6,178.1 123.7,177.8 123.7,171.6 123.7,177.9 123.8,182.7 123.9,184.3 123.9,181.5 123.9,179.7 124,173.7 124,173.5 124.1,181.7 124.1,180 124.1,182.5 124.2,180.5 124.2,176.7 124.3,175.9 124.3,179.4 124.4,182.4 124.4,177.7 124.4,177.2 124.5,173.5 124.5,169.8 124.6,175.9 124.6,180.3 124.7,175.9 124.7,178.9 124.7,172.8 124.8,173.2 124.8,178.6 124.9,179.4 124.9,175.9 125,177.1 125,175.1 125,174.4 125.1,180.4 125.1,182.2 125.2,179.8 125.2,180.8 125.3,174.5 125.3,174.2 125.4,178.1 125.4,176.7 125.4,179.6 125.5,179.2 125.5,177.1 125.6,175.9 125.6,182.6 125.6,187 125.7,183.7 125.7,182.6 125.8,174.8 125.8,174.6 125.9,178" fill="none" stroke="#7cdb9f" stroke-width="0.45" stroke-opacity="1.0" stroke-linejoin="round"/>
<rect x="28.2" y="117.5" width="100.8" height="80.9" fill="none" stroke="#8c8c8c" stroke-width="0.9"/>
<line x1="26.4" y1="117.4" x2="28.2" y2="117.4" stroke="#555" stroke-width="0.6"/>
<text x="25.4" y="119.6" text-anchor="end">340</text>
<line x1="26.4" y1="135.3" x2="28.2" y2="135.3" stroke="#555" stroke-width="0.6"/>
<text x="25.4" y="137.5" text-anchor="end">320</text>
<line x1="26.4" y1="153.3" x2="28.2" y2="153.3" stroke="#555" stroke-width="0.6"/>
<text x="25.4" y="155.5" text-anchor="end">300</text>
<line x1="26.4" y1="171.3" x2="28.2" y2="171.3" stroke="#555" stroke-width="0.6"/>
<text x="25.4" y="173.5" text-anchor="end">280</text>
<line x1="26.4" y1="189.3" x2="28.2" y2="189.3" stroke="#555" stroke-width="0.6"/>
<text x="25.4" y="191.5" text-anchor="end">260</text>
<line x1="42.3" y1="198.3" x2="42.3" y2="199.4" stroke="#777" stroke-width="0.5"/>
<line x1="63.8" y1="198.3" x2="63.8" y2="199.4" stroke="#777" stroke-width="0.5"/>
<line x1="85.4" y1="198.3" x2="85.4" y2="199.4" stroke="#777" stroke-width="0.5"/>
<line x1="106.9" y1="198.3" x2="106.9" y2="199.4" stroke="#777" stroke-width="0.5"/>
<line x1="27.1" y1="126.4" x2="28.2" y2="126.4" stroke="#777" stroke-width="0.5"/>
<line x1="27.1" y1="144.4" x2="28.2" y2="144.4" stroke="#777" stroke-width="0.5"/>
<line x1="27.1" y1="162.3" x2="28.2" y2="162.3" stroke="#777" stroke-width="0.5"/>
<line x1="27.1" y1="180.3" x2="28.2" y2="180.3" stroke="#777" stroke-width="0.5"/>
<line x1="31.5" y1="198.3" x2="31.5" y2="200.1" stroke="#555" stroke-width="0.6"/>
<text x="31.5" y="206.9" text-anchor="middle">0</text>
<line x1="53" y1="198.3" x2="53" y2="200.1" stroke="#555" stroke-width="0.6"/>
<text x="53" y="206.9" text-anchor="middle">2000</text>
<line x1="74.6" y1="198.3" x2="74.6" y2="200.1" stroke="#555" stroke-width="0.6"/>
<text x="74.6" y="206.9" text-anchor="middle">4000</text>
<line x1="96.1" y1="198.3" x2="96.1" y2="200.1" stroke="#555" stroke-width="0.6"/>
<text x="96.1" y="206.9" text-anchor="middle">6000</text>
<line x1="117.7" y1="198.3" x2="117.7" y2="200.1" stroke="#555" stroke-width="0.6"/>
<text x="117.7" y="206.9" text-anchor="middle">8000</text>
<text x="78.6" y="217.8" text-anchor="middle">Time (hours)</text>
<text transform="translate(12.7 157.9) rotate(-90)" text-anchor="middle">Max temperature (K)</text>
<line x1="61" y1="125.5" x2="75.5" y2="125.5" stroke="#7cdb9f" stroke-width="0.6" stroke-opacity="0.6"/>
<text x="78" y="127.7">Max temperature</text>
</g>
<g font-size="6.76">
<line x1="170.1" y1="137.7" x2="271" y2="137.7" stroke="#f0f0f0" stroke-width="0.5"/>
<line x1="170.1" y1="158" x2="271" y2="158" stroke="#f0f0f0" stroke-width="0.5"/>
<line x1="170.1" y1="178.3" x2="271" y2="178.3" stroke="#f0f0f0" stroke-width="0.5"/>
<polyline points="173.5,145.7 173.7,137.2 173.9,160.2 174,154 174.2,144.1 174.4,139.3 174.6,139.6 174.8,137.5 174.9,142.2 175.1,143.2 175.3,145.7 175.5,155.5 175.7,159.2 175.9,151.4 176,155.6 176.2,145.9 176.4,142.5 176.6,138.6 176.8,146.1 176.9,142.4 177.1,152.4 177.3,158.7 177.5,154.5 177.7,151.5 177.8,164.5 178,171.6 178.2,158.4 178.4,162.1 178.6,149.4 178.7,149.4 178.9,149.8 179.1,150.6 179.3,147.6 179.5,151.5 179.7,147.1 179.8,153.3 180,155.2 180.2,159.7 180.4,152.5 180.6,153.1 180.7,160.2 180.9,145.8 181.1,152.2 181.3,153.9 181.5,152.2 181.6,144.7 181.8,150.9 182,149.5 182.2,151.9 182.4,164.4 182.6,153.6 182.7,149.3 182.9,153.7 183.1,154.6 183.3,166.8 183.5,172.6 183.6,166.3 183.8,155.5 184,159.3 184.2,155.3 184.4,150.8 184.5,153.2 184.7,151.9 184.9,147 185.1,159.5 185.3,153.4 185.4,169.2 185.6,158.7 185.8,156 186,160.5 186.2,166.9 186.4,184.1 186.5,162.2 186.7,158.4 186.9,164.8 187.1,156.4 187.3,164.8 187.4,162.9 187.6,162.8 187.8,152.4 188,165.7 188.2,164.4 188.3,153.5 188.5,159.8 188.7,168.4 188.9,160.2 189.1,161.1 189.2,154.5 189.4,162.8 189.6,138.6 189.8,154.8 190,151.4 190.2,162.1 190.3,152.1 190.5,161 190.7,171.5 190.9,171.8 191.1,163.2 191.2,163.2 191.4,157.6 191.6,155.7 191.8,155.8 192,158.7 192.1,149.7 192.3,169.9 192.5,177.6 192.7,171.4 192.9,174.6 193.1,186.3 193.2,177.7 193.4,173.5 193.6,185.1 193.8,164.2 194,154.3 194.1,151.1 194.3,158.3 194.5,158.3 194.7,167.7 194.9,161.7 195,166.1 195.2,159.7 195.4,162.6 195.6,155.7 195.8,154.2 195.9,151.5 196.1,166.8 196.3,177.8 196.5,165.2 196.7,167.4 196.9,160.8 197,159.5 197.2,159.5 197.4,155.9 197.6,156.1 197.8,156.7 197.9,165.2 198.1,154.1 198.3,157.7 198.5,154.5 198.7,157 198.8,153.5 199,157.5 199.2,159.1 199.4,160.2 199.6,166.5 199.7,168.9 199.9,166.7 200.1,165.5 200.3,171.8 200.5,153.7 200.7,164.2 200.8,166.1 201,151.9 201.2,161.5 201.4,158.8 201.6,158.2 201.7,162.3 201.9,174.1 202.1,180.8 202.3,171.6 202.5,164.2 202.6,181.3 202.8,170.8 203,172.5 203.2,162.3 203.4,162.7 203.5,169.7 203.7,170.4 203.9,167 204.1,158.9 204.3,147.1 204.5,155.3 204.6,160.2 204.8,159.5 205,162.6 205.2,160.8 205.4,161.2 205.5,163.3 205.7,169.8 205.9,166 206.1,161.4 206.3,163.5 206.4,157.4 206.6,157.7 206.8,163.2 207,156.6 207.2,168 207.4,161.7 207.5,155.6 207.7,163.5 207.9,166.5 208.1,162.7 208.3,158.7 208.4,161.9 208.6,164.4 208.8,162.3 209,164.8 209.2,175.1 209.3,173.2 209.5,171.1 209.7,182.1 209.9,172.1 210.1,176.7 210.2,168.8 210.4,180.7 210.6,182.3 210.8,187.5 211,169.9 211.2,164.7 211.3,161.6 211.5,160.3 211.7,162.7 211.9,164 212.1,190.1 212.2,173.3 212.4,176.3 212.6,176.5 212.8,183.3 213,170 213.1,170.9 213.3,181.6 213.5,173.3 213.7,173.5 213.9,180.3 214,178.3 214.2,180.7 214.4,192.2 214.6,192 214.8,178.4 215,173.6 215.1,172.6 215.3,180.6 215.5,180.8 215.7,176.6 215.9,171.9 216,177.8 216.2,182.3 216.4,171.9 216.6,172.8 216.8,175.4 216.9,179 217.1,180.1 217.3,169.8 217.5,168.6 217.7,173.1 217.9,180.4 218,169.9 218.2,166.6 218.4,166.5 218.6,167.8 218.8,179.7 218.9,183.3 219.1,175.1 219.3,175.9 219.5,173.6 219.7,176.3 219.8,178.2 220,173.3 220.2,175.4 220.4,174.5 220.6,173.2 220.7,172.8 220.9,169.9 221.1,168 221.3,175.9 221.5,175.8 221.7,177.4 221.8,172.6 222,177.5 222.2,172.5 222.4,171.1 222.6,170.8 222.7,175.9 222.9,175.5 223.1,179.1 223.3,174.2 223.5,171 223.6,178.4 223.8,179.3 224,176.7 224.2,177.2 224.4,170.2 224.5,172.3 224.7,172.1 224.9,177.3 225.1,170.1 225.3,171.3 225.5,170.2 225.6,171.5 225.8,181.4 226,183.9 226.2,183.7 226.4,175.7 226.5,176.5 226.7,172.8 226.9,172.1 227.1,171.9 227.3,169.8 227.4,170.9 227.6,178.7 227.8,178.4 228,169.5 228.2,175.1 228.4,169.3 228.5,166.2 228.7,171.2 228.9,170.7 229.1,177.3 229.3,171.3 229.4,174.9 229.6,179 229.8,176.7 230,175.9 230.2,176.1 230.3,172.6 230.5,172.6 230.7,174.8 230.9,169.5 231.1,163.4 231.2,167.4 231.4,171.5 231.6,175.6 231.8,170.4 232,171.6 232.2,170.9 232.3,179.7 232.5,179.7 232.7,179.8 232.9,170.2 233.1,171.4 233.2,181.9 233.4,173.1 233.6,167.5 233.8,165 234,179 234.1,173 234.3,168.1 234.5,166.9 234.7,168.8 234.9,177 235,174.5 235.2,172.8 235.4,168.2 235.6,166.5 235.8,168.2 236,165.8 236.1,171.2 236.3,172.6 236.5,170.1 236.7,166.8 236.9,168.4 237,164.2 237.2,164.7 237.4,169.8 237.6,167.9 237.8,171.5 237.9,173.4 238.1,176.5 238.3,165.3 238.5,163.2 238.7,171.7 238.8,164.5 239,162.5 239.2,165.5 239.4,164.2 239.6,158 239.8,161.3 239.9,162.3 240.1,160.4 240.3,167 240.5,172.5 240.7,175.7 240.8,170.2 241,163.5 241.2,168.3 241.4,173.4 241.6,167.3 241.7,167.4 241.9,162.8 242.1,163.7 242.3,164.4 242.5,164.1 242.7,163.3 242.8,168.3 243,171.4 243.2,159.4 243.4,149.9 243.6,152.5 243.7,164.3 243.9,162.6 244.1,157.6 244.3,167.9 244.5,167 244.6,166 244.8,168.5 245,169.1 245.2,159.2 245.4,161.9 245.5,161.1 245.7,151.9 245.9,157.3 246.1,167.5 246.3,155.4 246.5,145.3 246.6,147.4 246.8,147.2 247,155 247.2,157.9 247.4,146 247.5,136.6 247.7,144.2 247.9,149.9 248.1,157.6 248.3,160.2 248.4,162.4 248.6,151.5 248.8,156 249,156.2 249.2,149.2 249.3,147.1 249.5,148.9 249.7,147.9 249.9,149.5 250.1,163.2 250.3,157.1 250.4,156.8 250.6,156.2 250.8,151.9 251,155.6 251.2,147.4 251.3,150.5 251.5,150.4 251.7,149.7 251.9,151.7 252.1,149 252.2,147.3 252.4,147.2 252.6,153.7 252.8,159.4 253,159.9 253.2,155.9 253.3,167.6 253.5,165.6 253.7,167 253.9,164.2 254.1,164.7 254.2,152.4 254.4,150.5 254.6,147.3 254.8,156.1 255,159.9 255.1,158 255.3,146.2 255.5,141.7 255.7,150.3 255.9,148.3 256,140.3 256.2,151.5 256.4,153 256.6,146 256.8,145.7 257,154.8 257.1,145.2 257.3,143.9 257.5,144.7 257.7,156 257.9,154.6 258,145.8 258.2,146.3 258.4,145 258.6,149.5 258.8,142.9 258.9,148.3 259.1,145.1 259.3,146.5 259.5,155.1 259.7,144.5 259.8,155.9 260,158.6 260.2,152.9 260.4,162.4 260.6,169.8 260.8,159.9 260.9,157.8 261.1,155.6 261.3,149 261.5,138.1 261.7,146.5 261.8,135.8 262,142 262.2,146.5 262.4,169 262.6,170.4 262.7,156.6 262.9,148.2 263.1,155.2 263.3,149.2 263.5,144.1 263.6,150.1 263.8,162.5 264,162.8 264.2,157.3 264.4,150 264.6,144.4 264.7,153.2 264.9,150 265.1,150.9 265.3,148.8 265.5,141.9 265.6,138 265.8,130.5 266,151.1 266.2,154.7 266.4,154.8 266.5,153.9 266.7,151.4 266.9,153 267.1,158.5 267.3,161.7 267.5,152.7" fill="none" stroke="#ff4c4c" stroke-width="0.42" stroke-opacity="1.0" stroke-linejoin="round"/>
<rect x="170.1" y="117.5" width="100.9" height="80.9" fill="none" stroke="#8c8c8c" stroke-width="0.9"/>
<line x1="168.2" y1="117.4" x2="170.1" y2="117.4" stroke="#555" stroke-width="0.6"/>
<text x="167.2" y="119.6" text-anchor="end">1060</text>
<line x1="168.2" y1="137.7" x2="170.1" y2="137.7" stroke="#555" stroke-width="0.6"/>
<text x="167.2" y="139.9" text-anchor="end">1040</text>
<line x1="168.2" y1="158" x2="170.1" y2="158" stroke="#555" stroke-width="0.6"/>
<text x="167.2" y="160.2" text-anchor="end">1020</text>
<line x1="168.2" y1="178.3" x2="170.1" y2="178.3" stroke="#555" stroke-width="0.6"/>
<text x="167.2" y="180.5" text-anchor="end">1000</text>
<line x1="168.2" y1="198.2" x2="170.1" y2="198.2" stroke="#555" stroke-width="0.6"/>
<text x="167.2" y="200.4" text-anchor="end">980</text>
<line x1="184.2" y1="198.4" x2="184.2" y2="199.5" stroke="#777" stroke-width="0.5"/>
<line x1="205.7" y1="198.4" x2="205.7" y2="199.5" stroke="#777" stroke-width="0.5"/>
<line x1="227.1" y1="198.4" x2="227.1" y2="199.5" stroke="#777" stroke-width="0.5"/>
<line x1="248.6" y1="198.4" x2="248.6" y2="199.5" stroke="#777" stroke-width="0.5"/>
<line x1="169" y1="127.5" x2="170.1" y2="127.5" stroke="#777" stroke-width="0.5"/>
<line x1="169" y1="147.7" x2="170.1" y2="147.7" stroke="#777" stroke-width="0.5"/>
<line x1="169" y1="167.9" x2="170.1" y2="167.9" stroke="#777" stroke-width="0.5"/>
<line x1="169" y1="188.1" x2="170.1" y2="188.1" stroke="#777" stroke-width="0.5"/>
<line x1="173.5" y1="198.4" x2="173.5" y2="200.2" stroke="#555" stroke-width="0.6"/>
<text x="173.5" y="206.9" text-anchor="middle">0</text>
<line x1="194.9" y1="198.4" x2="194.9" y2="200.2" stroke="#555" stroke-width="0.6"/>
<text x="194.9" y="206.9" text-anchor="middle">2000</text>
<line x1="216.4" y1="198.4" x2="216.4" y2="200.2" stroke="#555" stroke-width="0.6"/>
<text x="216.4" y="206.9" text-anchor="middle">4000</text>
<line x1="237.8" y1="198.4" x2="237.8" y2="200.2" stroke="#555" stroke-width="0.6"/>
<text x="237.8" y="206.9" text-anchor="middle">6000</text>
<line x1="259.3" y1="198.4" x2="259.3" y2="200.2" stroke="#555" stroke-width="0.6"/>
<text x="259.3" y="206.9" text-anchor="middle">8000</text>
<text x="220.5" y="217.8" text-anchor="middle">Time (hours)</text>
<text transform="translate(151.5 157.9) rotate(-90)" text-anchor="middle">Pressure (kPa)</text>
<line x1="224.5" y1="124.5" x2="239.1" y2="124.5" stroke="#ff4c4c" stroke-width="0.6" stroke-opacity="0.6"/>
<text x="241.7" y="126.7">Pressure</text>
</g>
<g font-size="6.77">
<line x1="307.2" y1="130.8" x2="408.2" y2="130.8" stroke="#f0f0f0" stroke-width="0.5"/>
<line x1="307.2" y1="144.2" x2="408.2" y2="144.2" stroke="#f0f0f0" stroke-width="0.5"/>
<line x1="307.2" y1="157.6" x2="408.2" y2="157.6" stroke="#f0f0f0" stroke-width="0.5"/>
<line x1="307.2" y1="171" x2="408.2" y2="171" stroke="#f0f0f0" stroke-width="0.5"/>
<line x1="307.2" y1="184.4" x2="408.2" y2="184.4" stroke="#f0f0f0" stroke-width="0.5"/>
<polyline points="310.5,159.7 310.6,180.8 310.8,162.7 310.9,177.1 311,174 311.1,175.8 311.3,180.6 311.4,182.4 311.5,181.6 311.7,183.5 311.8,183.4 311.9,185.3 312.1,179 312.2,180.9 312.3,170.8 312.4,180.4 312.6,143.7 312.7,179.7 312.8,135.6 313,181.7 313.1,132 313.2,175.2 313.4,138.8 313.5,179 313.6,134.4 313.7,180 313.9,131.9 314,164.4 314.1,133.8 314.2,175 314.4,144.5 314.5,184.7 314.7,135.1 314.8,175 314.9,132.5 315,166.6 315.2,142.6 315.3,181.5 315.4,145.3 315.5,181.7 315.7,154.9 315.8,181.6 316,151.5 316.1,177.2 316.2,165.6 316.3,177.9 316.5,160.8 316.6,183 316.7,162.6 316.8,181.6 317,163.3 317.1,183.8 317.3,153.3 317.4,183.2 317.5,164.3 317.6,185.1 317.8,172.7 317.9,174.7 318,150.9 318.1,180.6 318.3,162.9 318.4,180.1 318.6,170 318.7,172.1 318.8,163.8 318.9,171.7 319.1,156.5 319.2,183.5 319.3,160.3 319.4,184.8 319.6,140 319.7,181.2 319.9,138.4 320,173.3 320.1,142.1 320.2,182.5 320.4,171.1 320.5,182.1 320.6,180.1 320.7,182.2 320.9,164.4 321,179.4 321.2,180.1 321.3,182.2 321.4,167.8 321.5,169.9 321.7,168.8 321.8,170.9 321.9,175 322,177.2 322.2,172.1 322.3,174.2 322.5,157.6 322.6,180.3 322.7,150 322.8,189.7 323,159.6 323.1,188.3 323.2,158.6 323.3,179 323.5,163.5 323.6,182.1 323.8,163.9 323.9,180.6 324,171.4 324.1,176.4 324.3,181.3 324.4,183.5 324.5,143.2 324.6,180.4 324.8,148.1 324.9,185.3 325.1,142.3 325.2,179.7 325.3,138.7 325.4,173.1 325.6,138.2 325.7,170 325.8,136.8 325.9,175.4 326.1,136.9 326.2,175.9 326.4,145.3 326.5,180 326.6,136.8 326.7,186.4 326.9,133.6 327,179.5 327.1,133.3 327.2,173.8 327.4,135.2 327.5,175.9 327.7,144.9 327.8,181.2 327.9,154 328,184.8 328.2,140.1 328.3,179.6 328.4,143.7 328.5,180 328.7,146.5 328.8,173.8 328.9,141.5 329.1,183.2 329.2,139.6 329.3,179 329.5,134.1 329.6,177.2 329.7,140.7 329.8,178.5 330,137 330.1,177.4 330.2,139.3 330.4,185.2 330.5,134.2 330.6,175 330.8,131.4 330.9,184 331,167 331.1,177.8 331.3,133.6 331.4,172.3 331.5,135.4 331.7,179.4 331.8,139.7 331.9,176.5 332.1,136.8 332.2,181.3 332.3,134.3 332.4,172.3 332.6,134.4 332.7,186.4 332.8,134.4 333,180 333.1,148.7 333.2,182.9 333.4,142.6 333.5,182.2 333.6,155.8 333.7,185.8 333.9,162.9 334,185.7 334.1,181.8 334.3,183.9 334.4,184.7 334.5,186.8 334.7,161.8 334.8,177.7 334.9,171.2 335,174.8 335.2,177.9 335.3,185 335.4,162.4 335.6,184.9 335.7,163.2 335.8,181.3 336,165.5 336.1,177.5 336.2,167.8 336.3,178.1 336.5,167.9 336.6,187.4 336.7,176.6 336.9,178.6 337,180.3 337.1,189.1 337.3,168.1 337.4,180.7 337.5,170.5 337.6,182.7 337.8,161.7 337.9,184 338,173.4 338.2,183.8 338.3,141.4 338.4,182.5 338.6,134.5 338.7,181.7 338.8,161.8 338.9,178.9 339.1,175.9 339.2,184.8 339.3,173.6 339.5,183.2 339.6,161.8 339.7,184.2 339.9,168.8 340,178.4 340.1,155.3 340.2,182.8 340.4,170.2 340.5,175.4 340.6,183.6 340.7,185.6 340.9,159.3 341,180.8 341.2,135.9 341.3,187 341.4,150.7 341.5,182.9 341.7,149.7 341.8,186.9 341.9,140.9 342,182.7 342.2,154.5 342.3,185.8 342.5,145 342.6,181.7 342.7,158.2 342.8,185.9 343,136.1 343.1,184 343.2,153.6 343.3,188.1 343.5,144.4 343.6,179.4 343.8,130.9 343.9,182.5 344,165.3 344.1,182.4 344.3,155.7 344.4,184.6 344.5,161.3 344.6,187.2 344.8,164.8 344.9,179.9 345.1,174 345.2,184.9 345.3,168 345.4,188.4 345.6,162 345.7,180.6 345.8,154.9 345.9,187.5 346.1,141 346.2,180.4 346.4,143.2 346.5,187.6 346.6,149.4 346.7,185.8 346.9,159.4 347,186.5 347.1,138.7 347.2,180.2 347.4,145.1 347.5,182.2 347.7,172.5 347.8,179.7 347.9,172.3 348,174.4 348.2,166.7 348.3,181.8 348.4,171.6 348.5,173.7 348.7,172.6 348.8,174.7 349,171.9 349.1,174 349.2,172.4 349.3,174.5 349.5,163.1 349.6,177.4 349.7,166.6 349.8,183.3 350,149.4 350.1,185.4 350.3,160.6 350.4,186.5 350.5,154 350.6,188.5 350.8,132.6 350.9,175.4 351,151.1 351.1,188.5 351.3,147.7 351.4,181 351.6,159 351.7,184.2 351.8,166.5 351.9,187.4 352.1,140.8 352.2,176.3 352.3,139.1 352.4,178.4 352.6,149.6 352.7,179.3 352.9,132.9 353,174.9 353.1,142.9 353.2,179.8 353.4,140.4 353.5,182.4 353.6,150.5 353.7,186.7 353.9,154.1 354,179.6 354.2,145.6 354.3,179.5 354.4,143.5 354.5,184.3 354.7,151.9 354.8,179.5 354.9,132.3 355,184.6 355.2,140.7 355.3,178.7 355.4,140.4 355.6,183.4 355.7,168.9 355.8,176.8 356,163.3 356.1,170.1 356.2,154.2 356.3,170.3 356.5,161.5 356.6,163.5 356.7,156.9 356.9,172 357,151.1 357.1,166.7 357.3,149 357.4,155.4 357.5,145.8 357.6,166.3 357.8,152.3 357.9,181.3 358,131 358.2,162.8 358.3,140.6 358.4,163.1 358.6,137.2 358.7,160.2 358.8,146 358.9,166.3 359.1,140 359.2,169.5 359.3,145 359.5,159.1 359.6,138.9 359.7,165.3 359.9,131.6 360,157.9 360.1,134.9 360.2,151.4 360.4,132.3 360.5,148 360.6,131.2 360.8,154.2 360.9,131.8 361,160.9 361.2,131.5 361.3,161.1 361.4,133.9 361.5,162.5 361.7,131 361.8,157.2 361.9,138.3 362.1,168.6 362.2,131.1 362.3,158.5 362.5,132.9 362.6,161.3 362.7,134.6 362.8,159.2 363,133.2 363.1,160.3 363.2,131.8 363.4,158.2 363.5,143.4 363.6,163.2 363.8,152.6 363.9,158.4 364,155.4 364.1,163.4 364.3,167.9 364.4,169.6 364.5,146.6 364.7,148.3 364.8,132.9 364.9,158.3 365.1,132.9 365.2,152.6 365.3,147.3 365.4,158.7 365.6,130.9 365.7,159.5 365.8,133.5 365.9,164.5 366.1,142.8 366.2,170.8 366.4,134.4 366.5,163 366.6,131.1 366.7,163.6 366.9,131.2 367,146.6 367.1,150.4 367.2,169.7 367.4,147.7 367.5,149.3 367.7,140.6 367.8,142.2 367.9,148 368,149.7 368.2,149.7 368.3,152 368.4,136.1 368.5,158.9 368.7,134.1 368.8,155.4 369,158.4 369.1,168.8 369.2,135.7 369.3,155.4 369.5,131.6 369.6,157.5 369.7,138.2 369.8,164 370,163.9 370.1,166.8 370.3,130.9 370.4,164.2 370.5,140.2 370.6,156.4 370.8,156.8 370.9,158.4 371,141.7 371.1,164.8 371.3,141.1 371.4,161.7 371.6,145.8 371.7,159.2 371.8,147.9 371.9,152.4 372.1,151.4 372.2,160.4 372.3,133.5 372.4,160.8 372.6,132.5 372.7,159.9 372.9,133.5 373,159.5 373.1,131.6 373.2,144.1 373.4,132 373.5,143.5 373.6,132.7 373.7,149.1 373.9,132.5 374,149.9 374.2,130.9 374.3,160.2 374.4,138.1 374.5,162.1 374.7,132.5 374.8,150.9 374.9,131.5 375,154.3 375.2,133.7 375.3,145 375.5,140.4 375.6,168.7 375.7,147.9 375.8,149.4 376,147.4 376.1,151.7 376.2,142 376.3,158.7 376.5,136.6 376.6,153.9 376.8,130.9 376.9,148.6 377,139.8 377.1,159 377.3,131.6 377.4,151.1 377.5,151.8 377.6,157.4 377.8,155.6 377.9,163 378.1,133.8 378.2,166.2 378.3,131.7 378.4,156.4 378.6,132.7 378.7,159.4 378.8,156.4 378.9,169.1 379.1,146.9 379.2,155.4 379.4,143.8 379.5,152.4 379.6,145.7 379.7,154.4 379.9,131.7 380,155.9 380.1,150.8 380.2,165.4 380.4,146.3 380.5,167.4 380.7,150.5 380.8,164.5 380.9,150 381,160.8 381.2,132.3 381.3,153.1 381.4,142.6 381.5,162.4 381.7,145.4 381.8,157.9 381.9,134.9 382.1,158.6 382.2,135.9 382.3,167.2 382.5,133 382.6,160.7 382.7,132.3 382.8,163.4 383,131.4 383.1,156.1 383.2,131.9 383.4,159.1 383.5,144.2 383.6,170.2 383.8,164.5 383.9,166.7 384,149.9 384.1,160.2 384.3,136.2 384.4,171.6 384.5,143.8 384.7,166.2 384.8,138.7 384.9,175.8 385.1,131.5 385.2,171.9 385.3,133.2 385.4,165.9 385.6,133.1 385.7,172.9 385.8,132.8 386,172 386.1,134.2 386.2,180.2 386.4,154.8 386.5,180.7 386.6,138.4 386.7,180.6 386.9,151.3 387,180.6 387.1,131.3 387.3,177.4 387.4,133.1 387.5,184.1 387.7,147 387.8,175.6 387.9,150 388,184.2 388.2,144.1 388.3,179.5 388.4,172.9 388.6,184.2 388.7,138 388.8,182 389,171 389.1,182.2 389.2,175.3 389.3,177.7 389.5,166.5 389.6,168.9 389.7,152.7 389.9,177.3 390,169.8 390.1,172.2 390.3,177.7 390.4,180.1 390.5,170.5 390.6,172.9 390.8,163.6 390.9,165.9 391,166.9 391.2,169.3 391.3,179.3 391.4,181.7 391.6,178.9 391.7,181.2 391.8,165 391.9,171.4 392.1,167.3 392.2,169.6 392.3,174 392.4,176.3 392.6,160.6 392.7,162.9 392.9,176.9 393,179.2 393.1,178.4 393.2,180.7 393.4,170.9 393.5,173.2 393.6,182.3 393.7,184.5 393.9,169.4 394,171.6 394.2,132.4 394.3,172.6 394.4,149.3 394.5,180.4 394.7,137.9 394.8,176.4 394.9,164.5 395,171.8 395.2,152 395.3,170.4 395.5,162.3 395.6,172.4 395.7,165.6 395.8,182.1 396,157.1 396.1,183 396.2,156.2 396.3,179.6 396.5,164.8 396.6,180.2 396.8,154 396.9,177.1 397,170.9 397.1,176 397.3,164 397.4,174.1 397.5,140.2 397.6,178.5 397.8,135.8 397.9,174.6 398.1,145.1 398.2,175.4 398.3,137.1 398.4,180 398.6,153.6 398.7,176.4 398.8,152.6 398.9,179.6 399.1,170 399.2,178 399.4,160.4 399.5,169.3 399.6,166.7 399.7,181.2 399.9,139 400,181.9 400.1,138.2 400.2,178.2 400.4,139.4 400.5,180.2 400.7,131.1 400.8,165.2 400.9,135.2 401,165.1 401.2,133.5 401.3,174.6 401.4,133.3 401.5,174.3 401.7,140.3 401.8,176.5 402,133.7 402.1,178.8 402.2,146.6 402.3,174.3 402.5,132.7 402.6,179.3 402.7,145.5 402.8,182.4 403,145.9 403.1,182.3 403.3,166.1 403.4,174.9 403.5,176.5 403.6,178.6 403.8,158.2 403.9,182.4 404,176.6 404.1,185 404.3,146.3 404.4,175.5 404.6,158.5 404.7,182 404.8,153.6 404.9,184.7 405.1,161.3 405.2,178.5" fill="none" stroke="#c3a6d9" stroke-width="0.38" stroke-opacity="0.85" stroke-linejoin="round"/>
<rect x="307.2" y="117.5" width="101" height="80.9" fill="none" stroke="#8c8c8c" stroke-width="0.9"/>
<line x1="305.4" y1="117.4" x2="307.2" y2="117.4" stroke="#555" stroke-width="0.6"/>
<text x="304.4" y="119.6" text-anchor="end">120</text>
<line x1="305.4" y1="130.8" x2="307.2" y2="130.8" stroke="#555" stroke-width="0.6"/>
<text x="304.4" y="133" text-anchor="end">100</text>
<line x1="305.4" y1="144.2" x2="307.2" y2="144.2" stroke="#555" stroke-width="0.6"/>
<text x="304.4" y="146.4" text-anchor="end">80</text>
<line x1="305.4" y1="157.6" x2="307.2" y2="157.6" stroke="#555" stroke-width="0.6"/>
<text x="304.4" y="159.8" text-anchor="end">60</text>
<line x1="305.4" y1="171" x2="307.2" y2="171" stroke="#555" stroke-width="0.6"/>
<text x="304.4" y="173.2" text-anchor="end">40</text>
<line x1="305.4" y1="184.4" x2="307.2" y2="184.4" stroke="#555" stroke-width="0.6"/>
<text x="304.4" y="186.6" text-anchor="end">20</text>
<line x1="305.4" y1="197.8" x2="307.2" y2="197.8" stroke="#555" stroke-width="0.6"/>
<text x="304.4" y="200" text-anchor="end">0</text>
<line x1="321.3" y1="198.4" x2="321.3" y2="199.5" stroke="#777" stroke-width="0.5"/>
<line x1="342.9" y1="198.4" x2="342.9" y2="199.5" stroke="#777" stroke-width="0.5"/>
<line x1="364.6" y1="198.4" x2="364.6" y2="199.5" stroke="#777" stroke-width="0.5"/>
<line x1="386.2" y1="198.4" x2="386.2" y2="199.5" stroke="#777" stroke-width="0.5"/>
<line x1="306.1" y1="124.1" x2="307.2" y2="124.1" stroke="#777" stroke-width="0.5"/>
<line x1="306.1" y1="137.5" x2="307.2" y2="137.5" stroke="#777" stroke-width="0.5"/>
<line x1="306.1" y1="150.9" x2="307.2" y2="150.9" stroke="#777" stroke-width="0.5"/>
<line x1="306.1" y1="164.3" x2="307.2" y2="164.3" stroke="#777" stroke-width="0.5"/>
<line x1="306.1" y1="177.7" x2="307.2" y2="177.7" stroke="#777" stroke-width="0.5"/>
<line x1="306.1" y1="191.1" x2="307.2" y2="191.1" stroke="#777" stroke-width="0.5"/>
<line x1="310.4" y1="198.4" x2="310.4" y2="200.2" stroke="#555" stroke-width="0.6"/>
<text x="310.4" y="206.9" text-anchor="middle">0</text>
<line x1="332.1" y1="198.4" x2="332.1" y2="200.2" stroke="#555" stroke-width="0.6"/>
<text x="332.1" y="206.9" text-anchor="middle">2000</text>
<line x1="353.8" y1="198.4" x2="353.8" y2="200.2" stroke="#555" stroke-width="0.6"/>
<text x="353.8" y="206.9" text-anchor="middle">4000</text>
<line x1="375.4" y1="198.4" x2="375.4" y2="200.2" stroke="#555" stroke-width="0.6"/>
<text x="375.4" y="206.9" text-anchor="middle">6000</text>
<line x1="397.1" y1="198.4" x2="397.1" y2="200.2" stroke="#555" stroke-width="0.6"/>
<text x="397.1" y="206.9" text-anchor="middle">8000</text>
<text x="357.8" y="217.8" text-anchor="middle">Time (hours)</text>
<text transform="translate(292.1 157.9) rotate(-90)" text-anchor="middle">Humidity (%)</text>
<line x1="358.8" y1="125.5" x2="373.7" y2="125.5" stroke="#c3a6d9" stroke-width="0.6" stroke-opacity="0.6"/>
<text x="376.3" y="127.5">Humidity</text>
</g>
<g font-size="6.89">
<line x1="443.2" y1="133" x2="546" y2="133" stroke="#f0f0f0" stroke-width="0.5"/>
<line x1="443.2" y1="148.7" x2="546" y2="148.7" stroke="#f0f0f0" stroke-width="0.5"/>
<line x1="443.2" y1="164.3" x2="546" y2="164.3" stroke="#f0f0f0" stroke-width="0.5"/>
<line x1="443.2" y1="180" x2="546" y2="180" stroke="#f0f0f0" stroke-width="0.5"/>
<line x1="443.2" y1="195.7" x2="546" y2="195.7" stroke="#f0f0f0" stroke-width="0.5"/>
<polyline points="446.5,193.4 446.6,168.1 446.6,190.3 446.7,182.8 446.7,193.4 446.8,172.2 446.8,192.9 446.9,171.7 446.9,193.2 447,183 447,191.9 447.1,173.7 447.1,191.4 447.2,185.1 447.2,193.3 447.3,181.8 447.3,188.4 447.3,177.1 447.4,189.9 447.4,157.8 447.5,190 447.5,183.5 447.6,192.1 447.6,177 447.7,192.5 447.7,182.6 447.8,192.9 447.8,130.7 447.9,191.4 447.9,175.5 448,189.8 448,181.5 448.1,193.2 448.1,179.7 448.2,192.8 448.2,159.4 448.3,190 448.3,164.5 448.4,192.7 448.4,182.1 448.5,189.6 448.5,175 448.6,193.3 448.6,175 448.7,190.3 448.7,170.6 448.8,193.2 448.8,182.3 448.8,193.3 448.9,147.7 448.9,188.7 449,181.6 449,192.6 449.1,167.6 449.1,193.3 449.2,172.9 449.2,192.3 449.3,156.1 449.3,193.3 449.4,184.1 449.4,191.2 449.5,181.9 449.5,191 449.6,182.8 449.6,193.3 449.7,183.8 449.7,193.3 449.8,173.7 449.8,193.2 449.9,183.2 449.9,193.3 450,186.8 450,189 450.1,181.2 450.1,193.4 450.2,174.3 450.2,193.3 450.3,176.6 450.3,190.6 450.3,181.6 450.4,192.5 450.4,185.4 450.5,191.9 450.5,177.7 450.6,192.7 450.6,183.4 450.7,192.5 450.7,185.1 450.8,191.4 450.8,185.4 450.9,189.2 450.9,176.5 451,188.9 451,174.5 451.1,192.7 451.1,179.4 451.2,189.8 451.2,181.4 451.3,193.3 451.3,185.7 451.4,192.9 451.4,184.4 451.5,188.5 451.5,182.5 451.6,191.7 451.6,185.7 451.7,193.3 451.7,177.7 451.8,188 451.8,181.9 451.8,190.4 451.9,183.3 451.9,188.5 452,174.6 452,189.8 452.1,184.3 452.1,193.3 452.2,184.8 452.2,191.5 452.3,178.8 452.3,188.9 452.4,184.3 452.4,187.8 452.5,181.1 452.5,191.6 452.6,174 452.6,193.1 452.7,182.6 452.7,189.3 452.8,174.3 452.8,193.1 452.9,159.1 452.9,189.1 453,179.3 453,191.9 453.1,166.1 453.1,188.6 453.2,184.9 453.2,192.8 453.3,183.9 453.3,189.2 453.3,178.8 453.4,192.3 453.4,177.5 453.5,187.5 453.5,185.3 453.6,193.1 453.6,172.3 453.7,189.4 453.7,186.7 453.8,193.2 453.8,175.5 453.9,190.3 453.9,165.4 454,189.3 454,183.8 454.1,193.3 454.1,178.8 454.2,191.7 454.2,185 454.3,193.3 454.3,167.8 454.4,189.8 454.4,183.4 454.5,187.2 454.5,171.7 454.6,190.7 454.6,181.3 454.7,191.4 454.7,182.7 454.8,191.9 454.8,174.6 454.8,193.3 454.9,178.6 454.9,190.7 455,157 455,193.2 455.1,175 455.1,190.8 455.2,178.7 455.2,193 455.3,182.5 455.3,188.7 455.4,174.6 455.4,192.9 455.5,180.9 455.5,188.5 455.6,170.2 455.6,193.3 455.7,166.6 455.7,192.8 455.8,177.5 455.8,192.8 455.9,184 455.9,192.5 456,175.1 456,193.3 456.1,157.4 456.1,193.3 456.2,171.8 456.2,190.6 456.3,176.4 456.3,187.9 456.3,173.6 456.4,192.8 456.4,166.7 456.5,193.3 456.5,171 456.6,188.3 456.6,177.4 456.7,192.7 456.7,173.8 456.8,193.2 456.8,161.9 456.9,192.9 456.9,175 457,191.5 457,183.5 457.1,188.6 457.1,173.3 457.2,193.3 457.2,179.2 457.3,191.8 457.3,160.9 457.4,192.1 457.4,165.7 457.5,193.3 457.5,179.7 457.6,192.5 457.6,178.3 457.7,193.2 457.7,175.7 457.8,193.3 457.8,149.2 457.8,193.3 457.9,165.8 457.9,193.3 458,181.1 458,193 458.1,161.1 458.1,190.4 458.2,175.1 458.2,190.7 458.3,184.6 458.3,192.1 458.4,147.6 458.4,191.4 458.5,183.8 458.5,193 458.6,184 458.6,188.8 458.7,182.2 458.7,193.3 458.8,185.7 458.8,193.2 458.9,182.3 458.9,193.3 459,178.7 459,187.9 459.1,165.8 459.1,193.4 459.2,168.4 459.2,189.5 459.3,172.3 459.3,193.1 459.3,170.9 459.4,190.8 459.4,170.2 459.5,193.3 459.5,177.7 459.6,187.2 459.6,180.8 459.7,193 459.7,175.8 459.8,190 459.8,178 459.9,191.8 459.9,177.9 460,193.2 460,178.2 460.1,193.2 460.1,179 460.2,192.5 460.2,178.3 460.3,190.6 460.3,182.5 460.4,191.5 460.4,180.8 460.5,190.7 460.5,178.8 460.6,192.9 460.6,171.8 460.7,188.3 460.7,177.8 460.8,192.3 460.8,171.1 460.9,189.4 460.9,178.1 460.9,193.3 461,175.2 461,193.4 461.1,173 461.1,190.9 461.2,179.2 461.2,193 461.3,165.9 461.3,193 461.4,182.9 461.4,193.3 461.5,170.2 461.5,188.8 461.6,174.2 461.6,192.7 461.7,168.7 461.7,189.2 461.8,182.2 461.8,192.9 461.9,178.6 461.9,192.1 462,164.1 462,193.3 462.1,157.6 462.1,189.8 462.2,179.7 462.2,192.8 462.3,158.9 462.3,191.1 462.4,179.4 462.4,192.4 462.4,175.1 462.5,192.9 462.5,167.1 462.6,190.4 462.6,173.5 462.7,193.3 462.7,174.5 462.8,191.4 462.8,180.8 462.9,193.3 462.9,179.9 463,193 463,152.1 463.1,191.7 463.1,174 463.2,192.4 463.2,183.1 463.3,193.2 463.3,175.8 463.4,193.3 463.4,182.8 463.5,192.9 463.5,181.1 463.6,192.3 463.6,156 463.7,190.5 463.7,185.2 463.8,191.7 463.8,180.7 463.9,193.1 463.9,176.3 463.9,192.8 464,186.7 464,192.8 464.1,186.7 464.1,189.5 464.2,180.3 464.2,191.6 464.3,184.6 464.3,191 464.4,179.9 464.4,192.2 464.5,175.5 464.5,193.3 464.6,185.7 464.6,191.6 464.7,180.6 464.7,191.9 464.8,165.3 464.8,190.6 464.9,178.8 464.9,193.3 465,170.1 465,188.3 465.1,174.5 465.1,193.1 465.2,173.4 465.2,191.8 465.3,181.7 465.3,192.9 465.4,140.9 465.4,193.4 465.4,174.5 465.5,188.4 465.5,171.8 465.6,188.4 465.6,182.2 465.7,191.8 465.7,175.9 465.8,192.7 465.8,175.4 465.9,189.3 465.9,184.5 466,191.9 466,166.5 466.1,189.2 466.1,164.7 466.2,191.1 466.2,174.7 466.3,193.1 466.3,172.4 466.4,189.7 466.4,152.3 466.5,193.1 466.5,180.6 466.6,193.4 466.6,183 466.7,193.3 466.7,174.8 466.8,188.2 466.8,173.5 466.9,193.2 466.9,177.9 466.9,190.8 467,181.6 467,187.5 467.1,177.4 467.1,192.3 467.2,177.7 467.2,193.3 467.3,179.7 467.3,189.1 467.4,151.8 467.4,189.7 467.5,174.5 467.5,192.9 467.6,153.4 467.6,191.7 467.7,180.4 467.7,192.8 467.8,180.2 467.8,187.1 467.9,176.9 467.9,189.6 468,148.9 468,193.3 468.1,144.2 468.1,192.9 468.2,173.5 468.2,193.3 468.3,175.9 468.3,187.5 468.4,162.2 468.4,192.4 468.4,167.1 468.5,193.1 468.5,173.3 468.6,193.4 468.6,178.5 468.7,192.9 468.7,167 468.8,193.4 468.8,181.2 468.9,190.5 468.9,180.2 469,192 469,186.1 469.1,192.4 469.1,183 469.2,191.8 469.2,167.7 469.3,190.6 469.3,183.5 469.4,188.2 469.4,168.6 469.5,191.6 469.5,181.2 469.6,192.5 469.6,175.7 469.7,189.8 469.7,178.9 469.8,193.3 469.8,185.7 469.9,193.3 469.9,180.6 469.9,193.3 470,175.5 470,187.7 470.1,172.6 470.1,192.5 470.2,158.6 470.2,193.3 470.3,178.8 470.3,193.4 470.4,181.9 470.4,188.6 470.5,172.8 470.5,188.4 470.6,178.2 470.6,190.8 470.7,179.5 470.7,193.4 470.8,181.5 470.8,193.1 470.9,171.4 470.9,193 471,178.8 471,191.1 471.1,182 471.1,192.6 471.2,178.8 471.2,193.4 471.3,184.6 471.3,191.6 471.4,184.3 471.4,190 471.4,185.3 471.5,192.2 471.5,181.1 471.6,193.1 471.6,171.8 471.7,191.2 471.7,183.1 471.8,192.9 471.8,165.1 471.9,192.4 471.9,169.1 472,190.5 472,177.4 472.1,193.3 472.1,180.3 472.2,192.1 472.2,170.8 472.3,193.3 472.3,164.7 472.4,190.7 472.4,140.1 472.5,193.3 472.5,156.9 472.6,193.3 472.6,175 472.7,193.2 472.7,176.8 472.8,193.2 472.8,154.3 472.9,193.4 472.9,165.6 473,192.7 473,172.9 473,190.9 473.1,153.8 473.1,191.1 473.2,160.1 473.2,192.6 473.3,151.3 473.3,192.8 473.4,159.6 473.4,189.5 473.5,167.7 473.5,190.9 473.6,172.2 473.6,191.2 473.7,180.2 473.7,192.3 473.8,166.5 473.8,193.3 473.9,178.5 473.9,189 474,174.4 474,192.4 474.1,172.8 474.1,188.3 474.2,172.1 474.2,193 474.3,169.1 474.3,191 474.4,177.9 474.4,192.2 474.5,178.6 474.5,193.3 474.5,180.5 474.6,193 474.6,173.6 474.7,191.4 474.7,169.9 474.8,193.3 474.8,181.9 474.9,193.1 474.9,179.4 475,190 475,178.1 475.1,193.3 475.1,182.1 475.2,191 475.2,174.7 475.3,190.1 475.3,149.8 475.4,193.2 475.4,181.1 475.5,187.4 475.5,161.1 475.6,193 475.6,168.4 475.7,192 475.7,181.1 475.8,191.5 475.8,176.9 475.9,192.6 475.9,172.1 476,192.2 476,167.3 476,191 476.1,159.2 476.1,193.1 476.2,154.2 476.2,191.7 476.3,168.6 476.3,191.1 476.4,159.3 476.4,191.4 476.5,177.5 476.5,193.4 476.6,180.6 476.6,189.7 476.7,180.7 476.7,190.3 476.8,178 476.8,188.2 476.9,168.9 476.9,193.3 477,159.4 477,190.8 477.1,167.8 477.1,187.2 477.2,172.4 477.2,193 477.3,182.2 477.3,193.1 477.4,166.7 477.4,193.3 477.5,163.4 477.5,189.5 477.5,167 477.6,193.4 477.6,146.4 477.7,187.2 477.7,144.6 477.8,192.5 477.8,171.4 477.9,193.3 477.9,154.9 478,189.3 478,172.9 478.1,193.2 478.1,174.4 478.2,191.2 478.2,168.5 478.3,191.8 478.3,155.8 478.4,190.5 478.4,168.9 478.5,193.3 478.5,131 478.6,188.4 478.6,128.4 478.7,191.3 478.7,175.9 478.8,193.3 478.8,152.2 478.9,191.7 478.9,139.7 479,192.4 479,170 479,192.1 479.1,158.9 479.1,193.3 479.2,140.4 479.2,193.1 479.3,140.5 479.3,192.5 479.4,178.9 479.4,193.3 479.5,165.8 479.5,189.4 479.6,163.3 479.6,193.3 479.7,178.9 479.7,192.4 479.8,180 479.8,187.7 479.9,172 479.9,192.5 480,177 480,188.3 480.1,169.5 480.1,192.6 480.2,146.3 480.2,190 480.3,154.1 480.3,191.6 480.4,178.5 480.4,190.3 480.5,163.8 480.5,189 480.5,169.6 480.6,193.3 480.6,177.3 480.7,193.3 480.7,130.7 480.8,193.1 480.8,166.8 480.9,191.3 480.9,165 481,193.3 481,172.1 481.1,193 481.1,156.9 481.2,192.8 481.2,177.5 481.3,193.2 481.3,183.1 481.4,188.8 481.4,182.1 481.5,191.4 481.5,167.8 481.6,191.1 481.6,163.8 481.7,192.1 481.7,177.2 481.8,192.8 481.8,160.8 481.9,191.6 481.9,176.6 482,192.6 482,180.3 482,193.2 482.1,158 482.1,191.1 482.2,172.3 482.2,192.4 482.3,177.5 482.3,193.3 482.4,171 482.4,193.3 482.5,141.2 482.5,193.3 482.6,165.3 482.6,193 482.7,161.5 482.7,192.1 482.8,182.4 482.8,188.8 482.9,177 482.9,191.5 483,170.1 483,193 483.1,172 483.1,193.3 483.2,168.7 483.2,189.9 483.3,178.9 483.3,193.2 483.4,140.4 483.4,190.7 483.5,164.3 483.5,193.3 483.5,164.5 483.6,190.5 483.6,173.6 483.7,193.3 483.7,170.1 483.8,189.9 483.8,151.7 483.9,193.3 483.9,158 484,191.5 484,172 484.1,192.8 484.1,129.9 484.2,187.8 484.2,165.8 484.3,191.8 484.3,158.8 484.4,191.9 484.4,166.6 484.5,193 484.5,133.4 484.6,189.6 484.6,169.8 484.7,191.2 484.7,162.9 484.8,193.2 484.8,176.2 484.9,188.5 484.9,140.8 485,192.1 485,176.7 485,192.7 485.1,180.3 485.1,191.2 485.2,183 485.2,189.1 485.3,165.5 485.3,192.3 485.4,171 485.4,192.3 485.5,168.2 485.5,188.1 485.6,177.4 485.6,189.5 485.7,179.7 485.7,193.2 485.8,140.6 485.8,189.6 485.9,136.2 485.9,191.1 486,170.1 486,188.9 486.1,183 486.1,193.2 486.2,162.5 486.2,193.4 486.3,175.2 486.3,191.1 486.4,180.5 486.4,193.2 486.5,170.4 486.5,193 486.6,177.4 486.6,193.3 486.6,181.6 486.7,192.9 486.7,173.4 486.8,192.2 486.8,147.6 486.9,190.7 486.9,171.9 487,189 487,165.2 487.1,193.3 487.1,171.4 487.2,192 487.2,159.6 487.3,190 487.3,177.2 487.4,191.6 487.4,180.4 487.5,192.2 487.5,168.4 487.6,193.3 487.6,174.7 487.7,193.2 487.7,178.6 487.8,189.1 487.8,177.5 487.9,191.7 487.9,184.4 488,193 488,180.3 488.1,192.2 488.1,176.7 488.1,193.3 488.2,176.5 488.2,193.3 488.3,173.2 488.3,191.9 488.4,164.6 488.4,191.6 488.5,166.2 488.5,192.8 488.6,183.5 488.6,193.3 488.7,179.9 488.7,188 488.8,175.5 488.8,188.2 488.9,173.1 488.9,190.2 489,181.3 489,187.9 489.1,175.6 489.1,190.9 489.2,178 489.2,189.1 489.3,169.5 489.3,191 489.4,178 489.4,193.2 489.5,170.1 489.5,193 489.6,184.3 489.6,193.3 489.6,177.9 489.7,187.9 489.7,186.6 489.8,188.1 489.8,185.7 489.9,193.1 489.9,176.5 490,189.4 490,184.3 490.1,191 490.1,166.6 490.2,191.7 490.2,181.6 490.3,189.9 490.3,183.5 490.4,193.2 490.4,179.1 490.5,191.8 490.5,174.8 490.6,193.2 490.6,181.9 490.7,190 490.7,185 490.8,192.9 490.8,176.3 490.9,189.1 490.9,167.3 491,192.3 491,163.3 491.1,191.5 491.1,177.9 491.1,190.9 491.2,183.4 491.2,188.7 491.3,176.7 491.3,192.8 491.4,165 491.4,191 491.5,178 491.5,193.1 491.6,181.2 491.6,190.4 491.7,181.7 491.7,191 491.8,154.5 491.8,193.3 491.9,182.7 491.9,192.2 492,182.7 492,193.3 492.1,179.7 492.1,190.7 492.2,183.4 492.2,193.2 492.3,169.7 492.3,188.3 492.4,176.2 492.4,193.2 492.5,177.3 492.5,189.4 492.6,165.6 492.6,192.9 492.6,164.5 492.7,189.6 492.7,171.9 492.8,193.3 492.8,174.8 492.9,193.3 492.9,184.6 493,193.2 493,175.8 493.1,193.2 493.1,175.3 493.2,189.2 493.2,180.1 493.3,192.4 493.3,178.5 493.4,193.1 493.4,178.9 493.5,193.2 493.5,170.5 493.6,191.3 493.6,162.1 493.7,189.4 493.7,182.4 493.8,189.5 493.8,173.2 493.9,192.2 493.9,174.8 494,188.9 494,155.2 494.1,193 494.1,170.2 494.1,193.2 494.2,168 494.2,192.6 494.3,185.9 494.3,192.9 494.4,184.4 494.4,190.3 494.5,180.1 494.5,187.3 494.6,170.1 494.6,189.5 494.7,177.3 494.7,191.9 494.8,178.8 494.8,187.6 494.9,175.5 494.9,190.4 495,179.8 495,193 495.1,176.8 495.1,193.3 495.2,174.2 495.2,191.2 495.3,165.4 495.3,189.9 495.4,181.5 495.4,192.8 495.5,184.1 495.5,193.3 495.6,181.3 495.6,193.3 495.6,181.2 495.7,187.7 495.7,186 495.8,188 495.8,177.5 495.9,193.1 495.9,183.7 496,187.9 496,183.9 496.1,188.5 496.1,179.8 496.2,187.7 496.2,182.8 496.3,192.3 496.3,169.8 496.4,192.7 496.4,162.6 496.5,191.8 496.5,180.6 496.6,187.5 496.6,176.8 496.7,193.2 496.7,172.2 496.8,193.3 496.8,177.2 496.9,189.8 496.9,183 497,190.7 497,179.1 497.1,190.9 497.1,181.4 497.1,193.3 497.2,182 497.2,193.4 497.3,183.4 497.3,192 497.4,179.6 497.4,191.6 497.5,166.9 497.5,193.3 497.6,181.5 497.6,192.5 497.7,183 497.7,191.1 497.8,184.4 497.8,192.8 497.9,179.8 497.9,193.3 498,156.6 498,193.2 498.1,179.7 498.1,193 498.2,168.6 498.2,193.3 498.3,182.6 498.3,191.1 498.4,179.6 498.4,193.3 498.5,167.6 498.5,192.3 498.6,153.2 498.6,192.6 498.6,180.4 498.7,191.1 498.7,173.9 498.8,192.9 498.8,173.5 498.9,188.3 498.9,167.4 499,192.2 499,177.5 499.1,193.2 499.1,169.1 499.2,191.7 499.2,180.5 499.3,192.9 499.3,182.9 499.4,193.3 499.4,162.3 499.5,193.2 499.5,179.4 499.6,190 499.6,181.3 499.7,189.5 499.7,185.6 499.8,187.2 499.8,183.2 499.9,192.2 499.9,178.2 500,189.9 500,178.7 500.1,189.9 500.1,182.7 500.2,190.9 500.2,170.6 500.2,193.2 500.3,182.7 500.3,193.3 500.4,167.1 500.4,189.9 500.5,160.2 500.5,193.1 500.6,178.4 500.6,193.3 500.7,183.5 500.7,187.5 500.8,175.6 500.8,191.7 500.9,163.1 500.9,189.4 501,178.5 501,192.4 501.1,182.4 501.1,191.2 501.2,169.4 501.2,192.7 501.3,172.9 501.3,190.7 501.4,173.5 501.4,193 501.5,155.1 501.5,193.4 501.6,170.8 501.6,193.3 501.7,180.2 501.7,193 501.7,153.3 501.8,190 501.8,173.8 501.9,193.3 501.9,175.7 502,187.7 502,172.1 502.1,191.2 502.1,182 502.2,191.9 502.2,166.4 502.3,190.8 502.3,176.2 502.4,193.2 502.4,180 502.5,189.4 502.5,169.9 502.6,188.3 502.6,172.9 502.7,193.3 502.7,183.7 502.8,191.5 502.8,173.7 502.9,190.3 502.9,171.4 503,187.5 503,185.1 503.1,193.3 503.1,174.4 503.2,192.8 503.2,183.7 503.2,190.1 503.3,159.6 503.3,192.2 503.4,169.8 503.4,193.3 503.5,183 503.5,193.3 503.6,166.7 503.6,192.9 503.7,179.3 503.7,193.4 503.8,177.7 503.8,189.2 503.9,179.1 503.9,189.3 504,183.8 504,193.2 504.1,187.4 504.1,190.2 504.2,184.2 504.2,190.2 504.3,181.8 504.3,187.9 504.4,174 504.4,187.1 504.5,184.6 504.5,192.6 504.6,179.4 504.6,193.3 504.7,184 504.7,187.6 504.7,186.8 504.8,189.5 504.8,180.6 504.9,187.4 504.9,174.8 505,187.7 505,177.3 505.1,192 505.1,184.3 505.2,188.5 505.2,174.2 505.3,193.1 505.3,186.9 505.4,192 505.4,180.3 505.5,192.8 505.5,185.5 505.6,193.2 505.6,180.2 505.7,188.2 505.7,182.1 505.8,192.9 505.8,168.6 505.9,193.3 505.9,155.7 506,193.4 506,179.5 506.1,193.2 506.1,167.7 506.2,193.2 506.2,181.5 506.2,191.8 506.3,161.5 506.3,190.2 506.4,186.4 506.4,193.4 506.5,176.8 506.5,190.3 506.6,179.3 506.6,193.3 506.7,185.5 506.7,188.8 506.8,185.2 506.8,192.2 506.9,185.8 506.9,193.3 507,186.2 507,191.3 507.1,174.1 507.1,192.9 507.2,178.5 507.2,193.3 507.3,186.1 507.3,192.5 507.4,173.9 507.4,188.7 507.5,186.5 507.5,192.4 507.6,175.5 507.6,191.5 507.7,174.4 507.7,193.3 507.7,180 507.8,191.5 507.8,166.5 507.9,190.3 507.9,181.5 508,193.2 508,179.9 508.1,192 508.1,175.6 508.2,192.8 508.2,185.3 508.3,193.1 508.3,181.1 508.4,193.3 508.4,175.6 508.5,188 508.5,184.4 508.6,191.1 508.6,180.1 508.7,192.7 508.7,185.7 508.8,193.3 508.8,174.1 508.9,189.4 508.9,181.9 509,191.7 509,182.1 509.1,191.6 509.1,179.2 509.2,193 509.2,175 509.2,192.3 509.3,182.9 509.3,193.1 509.4,185.1 509.4,193.1 509.5,183.2 509.5,191.4 509.6,173.1 509.6,188.3 509.7,179.8 509.7,190.1 509.8,183.7 509.8,188.8 509.9,178.4 509.9,193.1 510,183.8 510,193.1 510.1,178.5 510.1,190.1 510.2,172.4 510.2,191.1 510.3,177.6 510.3,193.2 510.4,182.4 510.4,192.9 510.5,182 510.5,191.4 510.6,185.5 510.6,193.3 510.7,185.2 510.7,193.3 510.7,183.5 510.8,187.5 510.8,182.5 510.9,193.2 510.9,175 511,192.3 511,187.3 511.1,187.9 511.1,174.8 511.2,187.7 511.2,182.6 511.3,187.8 511.3,184.4 511.4,192.1 511.4,178.4 511.5,187.5 511.5,177.5 511.6,191.4 511.6,183.1 511.7,193.3 511.7,184 511.8,187.9 511.8,177.5 511.9,192.3 511.9,150.5 512,192.4 512,183.3 512.1,192.2 512.1,183.4 512.2,189.8 512.2,179 512.3,191.5 512.3,174.7 512.3,192.2 512.4,171.4 512.4,193.1 512.5,177.6 512.5,190.2 512.6,157.5 512.6,193.3 512.7,159.1 512.7,191.4 512.8,170.1 512.8,193 512.9,180.7 512.9,189.1 513,171.4 513,193.1 513.1,184 513.1,190.1 513.2,178.9 513.2,192.6 513.3,181.3 513.3,193.1 513.4,181.1 513.4,192.1 513.5,175.6 513.5,191.9 513.6,178.3 513.6,190.1 513.7,176.2 513.7,193.3 513.8,183.4 513.8,189.6 513.8,185.2 513.9,193.3 513.9,169 514,193.2 514,185.4 514.1,191 514.1,182.6 514.2,192.9 514.2,175.1 514.3,192.9 514.3,185.3 514.4,193 514.4,182.4 514.5,193.3 514.5,186.9 514.6,189.5 514.6,171.1 514.7,193.3 514.7,184.1 514.8,190.8 514.8,147 514.9,193.2 514.9,183.7 515,187.6 515,173.5 515.1,189.2 515.1,171.9 515.2,193 515.2,167.9 515.3,192.1 515.3,153 515.3,191 515.4,179.6 515.4,190.9 515.5,170.9 515.5,193 515.6,182.7 515.6,191 515.7,176.3 515.7,192.1 515.8,179.6 515.8,188.8 515.9,184.3 515.9,193.3 516,183.3 516,193.3 516.1,177.6 516.1,190.4 516.2,174.8 516.2,193.3 516.3,181.5 516.3,188.6 516.4,171.3 516.4,191.8 516.5,181 516.5,191.3 516.6,173 516.6,192.8 516.7,181.2 516.7,193.3 516.8,182.3 516.8,191.6 516.8,186.4 516.9,192.6 516.9,180.3 517,188.9 517,180.3 517.1,190 517.1,178 517.2,189.1 517.2,159.6 517.3,187.4 517.3,185.6 517.4,192.6 517.4,178.9 517.5,193.3 517.5,172.8 517.6,189.7 517.6,181.4 517.7,193.2 517.7,173.2 517.8,189.3 517.8,186.1 517.9,192.7 517.9,182.1 518,191.4 518,178 518.1,193 518.1,180.8 518.2,193.4 518.2,176.3 518.3,188.6 518.3,185.9 518.3,192.8 518.4,186.4 518.4,193.1 518.5,181.8 518.5,192.2 518.6,183.1 518.6,192.1 518.7,185.9 518.7,189 518.8,185.1 518.8,189.5 518.9,177.6 518.9,192.1 519,178.6 519,187.9 519.1,186.6 519.1,193.1 519.2,184.7 519.2,193.3 519.3,174.6 519.3,193.3 519.4,183.5 519.4,192.6 519.5,177.9 519.5,193.3 519.6,176.8 519.6,188.6 519.7,183.9 519.7,193.4 519.8,182 519.8,193.1 519.8,185.6 519.9,193.3 519.9,167.1 520,192.9 520,162.2 520.1,193 520.1,180.3 520.2,191.9 520.2,177.7 520.3,193.2 520.3,173.4 520.4,191.6 520.4,177 520.5,192.3 520.5,162.1 520.6,193.3 520.6,167.5 520.7,193.3 520.7,176.5 520.8,192.8 520.8,170.4 520.9,192.4 520.9,168.6 521,191.8 521,177.3 521.1,193.4 521.1,182.5 521.2,192.5 521.2,182.4 521.3,193 521.3,170.2 521.3,193.3 521.4,179.4 521.4,191.9 521.5,183.2 521.5,193.3 521.6,182.6 521.6,193.3 521.7,169.7 521.7,188 521.8,173.6 521.8,187.4 521.9,179.7 521.9,193.3 522,183.5 522,191.7 522.1,176.4 522.1,192.6 522.2,182.1 522.2,193.2 522.3,172 522.3,190.8 522.4,183.6 522.4,190.8 522.5,166.7 522.5,190.2 522.6,183.7 522.6,191.9 522.7,183.9 522.7,190.1 522.8,169.7 522.8,191.8 522.8,182.6 522.9,193.2 522.9,159.7 523,193.3 523,182.6 523.1,193.3 523.1,176.7 523.2,193.1 523.2,186.5 523.3,192.9 523.3,180.2 523.4,193 523.4,175.1 523.5,192.9 523.5,185.3 523.6,191.7 523.6,186.8 523.7,189.8 523.7,182.3 523.8,191.8 523.8,168.1 523.9,190.8 523.9,170.5 524,191.6 524,186.9 524.1,191.8 524.1,180.4 524.2,193.3 524.2,185.7 524.3,190.2 524.3,186 524.3,193.2 524.4,185 524.4,193 524.5,187.5 524.5,188.1 524.6,175.7 524.6,193.1 524.7,180.5 524.7,188.3 524.8,180.9 524.8,193.2 524.9,188.1 524.9,189.7 525,187.4 525,193.1 525.1,178.4 525.1,188 525.2,183 525.2,191.3 525.3,177.7 525.3,187.8 525.4,183.4 525.4,189.9 525.5,184.3 525.5,192.4 525.6,185.9 525.6,187.8 525.7,185.7 525.7,191.9 525.8,175.9 525.8,191.4 525.9,186.1 525.9,191.9 525.9,178.6 526,189.2 526,186.5 526.1,193.2 526.1,180.9 526.2,188 526.2,176.5 526.3,190.3 526.3,176.1 526.4,187.9 526.4,176.2 526.5,192.5 526.5,175.3 526.6,193.3 526.6,167 526.7,191.1 526.7,172.7 526.8,187.6 526.8,183.7 526.9,193.2 526.9,179.8 527,193.3 527,166 527.1,191.9 527.1,179.5 527.2,193.3 527.2,162.4 527.3,187.5 527.3,169.2 527.4,193.2 527.4,179.2 527.4,190.1 527.5,186 527.5,192.8 527.6,157.8 527.6,187.8 527.7,179.1 527.7,193.1 527.8,182.4 527.8,192.5 527.9,179.3 527.9,189 528,182.1 528,193 528.1,182 528.1,193.1 528.2,166.1 528.2,188.4 528.3,180.3 528.3,187.4 528.4,182.9 528.4,192.3 528.5,179.3 528.5,193.3 528.6,180.6 528.6,193.3 528.7,179.9 528.7,192.3 528.8,179 528.8,192.5 528.9,183.2 528.9,192.8 528.9,177.8 529,192.9 529,176.5 529.1,189.5 529.1,179.1 529.2,192.1 529.2,180 529.3,193.3 529.3,178.6 529.4,193.4 529.4,135.4 529.5,191.6 529.5,177.1 529.6,188.4 529.6,168.5 529.7,188.9 529.7,181.5 529.8,193.3 529.8,157.5 529.9,193.2 529.9,176.2 530,193.3 530,176.3 530.1,192.4 530.1,179.1 530.2,191.1 530.2,167.4 530.3,193.2 530.3,178.4 530.4,188.8 530.4,172.5 530.4,187.9 530.5,177.2 530.5,192.5 530.6,181.8 530.6,193.2 530.7,174.7 530.7,192.3 530.8,182.1 530.8,188.4 530.9,169.9 530.9,193.3 531,172.6 531,191 531.1,180.2 531.1,191.8 531.2,178 531.2,193.3 531.3,178.8 531.3,193.3 531.4,168.9 531.4,193.2 531.5,174.7 531.5,190.9 531.6,182.5 531.6,189.7 531.7,167.7 531.7,193.3 531.8,168 531.8,191.4 531.9,139.1 531.9,193.4 531.9,169.6 532,188.9 532,179.4 532.1,193.2 532.1,169.9 532.2,193.3 532.2,182.6 532.3,193.3 532.3,166.6 532.4,193.1 532.4,154.6 532.5,193.2 532.5,182.7 532.6,192.2 532.6,172.1 532.7,193.3 532.7,172 532.8,189.7 532.8,181.5 532.9,191.9 532.9,182.5 533,190.9 533,176.5 533.1,192.4 533.1,158.7 533.2,187.9 533.2,180.9 533.3,193.2 533.3,170.7 533.4,189.4 533.4,179.7 533.4,191 533.5,178.8 533.5,187.4 533.6,181.7 533.6,193.3 533.7,178.7 533.7,192.7 533.8,181.6 533.8,192.1 533.9,146.1 533.9,192.8 534,167.9 534,192.3 534.1,176.7 534.1,193.3 534.2,162.1 534.2,193.3 534.3,173.4 534.3,190.8 534.4,183.8 534.4,188.8 534.5,184 534.5,191.8 534.6,157.5 534.6,191.1 534.7,179.6 534.7,192.7 534.8,181.4 534.8,193.3 534.9,179.8 534.9,192.5 534.9,156.8 535,191.3 535,177.3 535.1,187.9 535.1,163.2 535.2,192.1 535.2,173.2 535.3,193.4 535.3,140.8 535.4,189.5 535.4,158.8 535.5,187.5 535.5,154.9 535.6,193 535.6,176 535.7,193.3 535.7,167.6 535.8,193.3 535.8,176.8 535.9,192.9 535.9,174 536,192.1 536,141.7 536.1,189.3 536.1,179.5 536.2,191.7 536.2,184.8 536.3,192.4 536.3,178.9 536.4,193.3 536.4,179.3 536.4,193.3 536.5,171.5 536.5,190.7 536.6,153.8 536.6,190.8 536.7,186.1 536.7,191.2 536.8,185.6 536.8,190.5 536.9,185 536.9,192.6 537,184.4 537,193.4 537.1,185.6 537.1,192.7 537.2,185.6 537.2,193.2 537.3,168 537.3,192 537.4,184 537.4,193 537.5,181.3 537.5,193.2 537.6,186.2 537.6,193.3 537.7,186.1 537.7,193.1 537.8,187.3 537.8,192.5 537.9,176.7 537.9,189 537.9,184.7 538,193.3 538,182.2 538.1,193.2 538.1,186.1 538.2,193.2 538.2,185.9 538.3,193.3 538.3,186.8 538.4,193.2 538.4,183.8 538.5,193.3 538.5,185.3 538.6,193.3 538.6,175.6 538.7,192.2 538.7,176.6 538.8,190.7 538.8,179.5 538.9,190.6 538.9,184.3 539,191.5 539,182.8 539.1,190.2 539.1,180.4 539.2,193.3 539.2,183.1 539.3,188.7 539.3,172.4 539.4,192.3 539.4,183.9 539.5,192.7 539.5,179.4 539.5,192.8 539.6,167.6 539.6,193.4 539.7,173.8 539.7,191.3 539.8,185.1 539.8,192.4 539.9,183.9 539.9,189.3 540,171 540,192.5 540.1,182.9 540.1,190.4 540.2,185.5 540.2,190.1 540.3,182.4 540.3,192.3 540.4,185.1 540.4,192.8 540.5,180.3 540.5,190.7 540.6,177.1 540.6,193.3 540.7,186.1 540.7,193.1 540.8,180.4 540.8,193.3 540.9,185.8 540.9,193.1 541,178.9 541,190.4 541,175.8 541.1,188.1 541.1,171.3 541.2,189.4 541.2,180.8 541.3,193.1 541.3,183 541.4,189.8 541.4,175.9 541.5,193.2 541.5,151.9 541.6,191.5 541.6,185.4 541.7,193.3 541.7,183.7 541.8,191.6 541.8,181.3 541.9,192.8 541.9,177.6 542,193.2 542,172.9 542.1,192.9 542.1,182.7 542.2,193.3 542.2,172.6 542.3,189.8 542.3,175.6 542.4,191.8 542.4,182.4 542.5,192.6 542.5,168 542.5,192.2 542.6,162.1 542.6,191.4 542.7,168.8 542.7,188.3 542.8,174.3 542.8,191.6 542.9,184.6 542.9,192.6 543,180 543,187.9 543.1,165.9 543.1,188.3 543.2,172.5 543.2,189.6 543.3,185" fill="none" stroke="#ff0000" stroke-width="0.42" stroke-opacity="0.9" stroke-linejoin="round"/>
<rect x="443.2" y="117.5" width="102.8" height="82.4" fill="none" stroke="#8c8c8c" stroke-width="0.9"/>
<line x1="441.4" y1="117.4" x2="443.2" y2="117.4" stroke="#555" stroke-width="0.6"/>
<text x="440.4" y="119.7" text-anchor="end">10</text>
<line x1="441.4" y1="133" x2="443.2" y2="133" stroke="#555" stroke-width="0.6"/>
<text x="440.4" y="135.3" text-anchor="end">8</text>
<line x1="441.4" y1="148.7" x2="443.2" y2="148.7" stroke="#555" stroke-width="0.6"/>
<text x="440.4" y="151" text-anchor="end">6</text>
<line x1="441.4" y1="164.3" x2="443.2" y2="164.3" stroke="#555" stroke-width="0.6"/>
<text x="440.4" y="166.6" text-anchor="end">4</text>
<line x1="441.4" y1="180" x2="443.2" y2="180" stroke="#555" stroke-width="0.6"/>
<text x="440.4" y="182.3" text-anchor="end">2</text>
<line x1="441.4" y1="195.7" x2="443.2" y2="195.7" stroke="#555" stroke-width="0.6"/>
<text x="440.4" y="198" text-anchor="end">0</text>
<line x1="457.6" y1="199.9" x2="457.6" y2="201" stroke="#777" stroke-width="0.5"/>
<line x1="479.7" y1="199.9" x2="479.7" y2="201" stroke="#777" stroke-width="0.5"/>
<line x1="501.8" y1="199.9" x2="501.8" y2="201" stroke="#777" stroke-width="0.5"/>
<line x1="523.9" y1="199.9" x2="523.9" y2="201" stroke="#777" stroke-width="0.5"/>
<line x1="442.1" y1="125.2" x2="443.2" y2="125.2" stroke="#777" stroke-width="0.5"/>
<line x1="442.1" y1="140.9" x2="443.2" y2="140.9" stroke="#777" stroke-width="0.5"/>
<line x1="442.1" y1="156.6" x2="443.2" y2="156.6" stroke="#777" stroke-width="0.5"/>
<line x1="442.1" y1="172.2" x2="443.2" y2="172.2" stroke="#777" stroke-width="0.5"/>
<line x1="442.1" y1="187.9" x2="443.2" y2="187.9" stroke="#777" stroke-width="0.5"/>
<line x1="446.5" y1="199.9" x2="446.5" y2="201.7" stroke="#555" stroke-width="0.6"/>
<text x="446.5" y="208.7" text-anchor="middle">0</text>
<line x1="468.6" y1="199.9" x2="468.6" y2="201.7" stroke="#555" stroke-width="0.6"/>
<text x="468.6" y="208.7" text-anchor="middle">2000</text>
<line x1="490.7" y1="199.9" x2="490.7" y2="201.7" stroke="#555" stroke-width="0.6"/>
<text x="490.7" y="208.7" text-anchor="middle">4000</text>
<line x1="512.8" y1="199.9" x2="512.8" y2="201.7" stroke="#555" stroke-width="0.6"/>
<text x="512.8" y="208.7" text-anchor="middle">6000</text>
<line x1="534.9" y1="199.9" x2="534.9" y2="201.7" stroke="#555" stroke-width="0.6"/>
<text x="534.9" y="208.7" text-anchor="middle">8000</text>
<text x="494.6" y="217.3" text-anchor="middle">Time (hours)</text>
<text transform="translate(431.2 158.7) rotate(-90)" text-anchor="middle">Wind speed (miles/h)</text>
<line x1="489.7" y1="124.5" x2="504.3" y2="124.5" stroke="#ff0000" stroke-width="0.6" stroke-opacity="0.6"/>
<text x="507" y="126.9">Wind speed</text>
</g>
<g font-size="6.99">
<line x1="26.5" y1="233.8" x2="130.8" y2="233.8" stroke="#f0f0f0" stroke-width="0.5"/>
<line x1="26.5" y1="249.2" x2="130.8" y2="249.2" stroke="#f0f0f0" stroke-width="0.5"/>
<line x1="26.5" y1="264.6" x2="130.8" y2="264.6" stroke="#f0f0f0" stroke-width="0.5"/>
<line x1="26.5" y1="280.1" x2="130.8" y2="280.1" stroke="#f0f0f0" stroke-width="0.5"/>
<line x1="26.5" y1="295.4" x2="130.8" y2="295.4" stroke="#f0f0f0" stroke-width="0.5"/>
<line x1="26.5" y1="310.9" x2="130.8" y2="310.9" stroke="#f0f0f0" stroke-width="0.5"/>
<polyline points="29.4,308.2 29.5,246.8 29.5,308.9 29.6,247.2 29.6,310.7 29.7,242.6 29.7,305.9 29.8,242.6 29.9,306 29.9,245 30,306.5 30,242.3 30.1,305.7 30.1,242.5 30.2,309.7 30.3,242.6 30.3,310.2 30.4,242 30.4,306.1 30.5,241.8 30.5,307.3 30.6,244 30.7,306.3 30.7,246.1 30.8,306.9 30.8,243.1 30.9,307.4 31,245.9 31,305.5 31.1,244.8 31.1,309 31.2,246.4 31.2,309.5 31.3,245 31.4,307.4 31.4,245.8 31.5,309.6 31.5,242.6 31.6,309.8 31.6,246.6 31.7,305.1 31.8,244.3 31.8,308.3 31.9,246.1 31.9,306.9 32,246.5 32,308.7 32.1,241.9 32.2,307.5 32.2,241.8 32.3,306.8 32.3,242.4 32.4,305.4 32.4,242.5 32.5,309.2 32.6,242.2 32.6,310.4 32.7,243 32.7,308.2 32.8,242.1 32.8,308.6 32.9,244.2 33,303.3 33,302 33.1,300.1 33.1,304.4 33.2,305.9 33.3,309.1 33.3,307.1 33.4,242.7 33.4,306.5 33.5,246.2 33.5,306.2 33.6,245.1 33.7,306 33.7,244.5 33.8,308.9 33.8,242 33.9,307.8 33.9,244.3 34,308.3 34.1,242.5 34.1,309.6 34.2,243.8 34.2,309.5 34.3,243.8 34.3,305.9 34.4,243.7 34.5,269.1 34.5,266.6 34.6,266 34.6,259.1 34.7,261.1 34.7,260.1 34.8,260.5 34.9,265.3 34.9,264.9 35,262.9 35,265.1 35.1,267.7 35.1,270.6 35.2,272.6 35.3,275.1 35.3,277.1 35.4,275.2 35.4,268.2 35.5,270.5 35.6,268.5 35.6,241.8 35.7,308.6 35.7,244 35.8,305.1 35.8,246.4 35.9,307.3 36,242 36,305.2 36.1,296.8 36.1,299.4 36.2,298.6 36.2,300.6 36.3,302.9 36.4,242.8 36.4,305.4 36.5,306.8 36.5,304.3 36.6,308.1 36.6,302.6 36.7,301.8 36.8,298.4 36.8,297.7 36.9,304.7 36.9,304.7 37,300.9 37,303.7 37.1,304.8 37.2,302.3 37.2,303.7 37.3,309.6 37.3,246.7 37.4,309 37.4,243.8 37.5,281.4 37.6,280.2 37.6,275.7 37.7,276.3 37.7,278.9 37.8,281.5 37.9,284.1 37.9,285.9 38,289.5 38,288 38.1,285.3 38.1,283.3 38.2,278.4 38.3,276.6 38.3,277.6 38.4,276.6 38.4,258.9 38.5,256.7 38.5,259.8 38.6,256.2 38.7,310.3 38.7,256.8 38.8,257.3 38.8,258.5 38.9,256.7 38.9,257.6 39,258.3 39.1,260 39.1,259.6 39.2,264 39.2,303.7 39.3,263.8 39.3,259.3 39.4,263 39.5,265 39.5,265.4 39.6,263.6 39.6,308.5 39.7,241.6 39.7,305.9 39.8,243.3 39.9,309.2 39.9,243 40,308.2 40,242.5 40.1,305.1 40.2,244.6 40.2,290.6 40.3,291.5 40.3,291.7 40.4,290.5 40.4,289 40.5,291.9 40.6,291 40.6,290.6 40.7,291.9 40.7,294.9 40.8,293.3 40.8,294.3 40.9,243.5 41,309.8 41,245.5 41.1,306.5 41.1,245.7 41.2,305.6 41.2,247.2 41.3,309.7 41.4,244.2 41.4,310 41.5,246 41.5,307.1 41.6,241.6 41.6,310.7 41.7,245 41.8,308.4 41.8,246.1 41.9,307.3 41.9,246.7 42,309.8 42,246.7 42.1,305.7 42.2,243.9 42.2,308.1 42.3,243.7 42.3,309.9 42.4,246.5 42.5,309.7 42.5,244.9 42.6,308.3 42.6,246.1 42.7,309.3 42.7,244.9 42.8,305.5 42.9,247 42.9,300.9 43,305.8 43,306.6 43.1,307.3 43.1,307.5 43.2,307.9 43.3,309.4 43.3,307.9 43.4,309.1 43.4,307.6 43.5,307.9 43.5,309 43.6,307.2 43.7,306.8 43.7,249.1 43.8,307.8 43.8,306.3 43.9,304.3 43.9,304.7 44,307.6 44.1,243.2 44.1,305.6 44.2,278.7 44.2,279.2 44.3,277.9 44.3,277.2 44.4,309.6 44.5,270.4 44.5,309.4 44.6,244.7 44.6,309 44.7,246 44.7,308.4 44.8,245.8 44.9,307.9 44.9,243.5 45,308.2 45,293.9 45.1,295.7 45.2,296.9 45.2,296.6 45.3,298.1 45.3,297.3 45.4,295.3 45.4,295.3 45.5,298.4 45.6,295.5 45.6,296.6 45.7,292.9 45.7,295.1 45.8,292 45.8,290.8 45.9,295.5 46,297.6 46,293.4 46.1,286.6 46.1,285.1 46.2,285.2 46.2,288.4 46.3,290.6 46.4,305.7 46.4,245.4 46.5,309.4 46.5,246.5 46.6,309.2 46.6,246.9 46.7,305.6 46.8,242.6 46.8,310.8 46.9,243.4 46.9,310.5 47,244.5 47,308 47.1,246.6 47.2,307.9 47.2,241.6 47.3,305.2 47.3,242 47.4,309.7 47.5,246.5 47.5,307.6 47.6,246.2 47.6,305.7 47.7,242.6 47.7,310.8 47.8,245.5 47.9,310.5 47.9,245.7 48,306.3 48,245.4 48.1,309 48.1,242.8 48.2,308.8 48.3,246.6 48.3,306.7 48.4,244.3 48.4,305.2 48.5,247.2 48.5,307.5 48.6,244.5 48.7,305.4 48.7,243.5 48.8,306.1 48.8,247 48.9,307.5 48.9,244.4 49,308.5 49.1,244.5 49.1,308.6 49.2,242.7 49.2,307.4 49.3,243.4 49.3,305.1 49.4,246.3 49.5,305.8 49.5,245.4 49.6,305.8 49.6,241.8 49.7,305.6 49.8,244.9 49.8,305.2 49.9,246.6 49.9,306.7 50,241.6 50,307.5 50.1,243.3 50.2,308.7 50.2,245.8 50.3,309.1 50.3,248.8 50.4,249.8 50.4,310.7 50.5,250.2 50.6,309.6 50.6,252.5 50.7,307 50.7,249.3 50.8,247.7 50.8,245.2 50.9,245.7 51,244.8 51,247.8 51.1,249.4 51.1,247.9 51.2,253.1 51.2,249.9 51.3,249.9 51.4,248 51.4,248.5 51.5,248.8 51.5,310 51.6,242.4 51.6,310.4 51.7,243.2 51.8,306 51.8,246 51.9,308.6 51.9,244.3 52,309.3 52.1,247 52.1,306.2 52.2,242.1 52.2,306.6 52.3,244.2 52.3,308 52.4,243.7 52.5,307.3 52.5,243.7 52.6,309.5 52.6,244.3 52.7,310.5 52.7,244.4 52.8,305.8 52.9,241.8 52.9,305.6 53,243.1 53,309.5 53.1,244.4 53.1,306.6 53.2,246.6 53.3,310.2 53.3,246.6 53.4,307.2 53.4,243.6 53.5,305.4 53.5,242.4 53.6,262.3 53.7,261.8 53.7,260.9 53.8,261.4 53.8,261 53.9,262.5 53.9,263.3 54,264.7 54.1,263.2 54.1,267.1 54.2,266.2 54.2,266.5 54.3,265.1 54.4,267.4 54.4,268.9 54.5,266.1 54.5,268.9 54.6,308.1 54.6,259.4 54.7,242.5 54.8,308 54.8,245.9 54.9,302.3 54.9,305.7 55,304.7 55,303.5 55.1,304.3 55.2,303.3 55.2,303.6 55.3,246 55.3,307.3 55.4,243.8 55.4,305.4 55.5,273.5 55.6,272.2 55.6,303.9 55.7,275.1 55.7,275 55.8,273.2 55.8,275.4 55.9,273.4 56,272.3 56,272.9 56.1,271.8 56.1,274 56.2,308.7 56.2,275 56.3,274.7 56.4,276.4 56.4,277 56.5,275.7 56.5,272.7 56.6,276.3 56.6,307.8 56.7,242.1 56.8,306.7 56.8,246.8 56.9,308.4 56.9,247.1 57,259.3 57.1,254.4 57.1,254.5 57.2,259.1 57.2,259.3 57.3,265.4 57.3,308.8 57.4,263.2 57.5,264.1 57.5,266 57.6,274.4 57.6,307.9 57.7,258.9 57.7,259 57.8,269.9 57.9,263 57.9,275.4 58,280.3 58,266.9 58.1,277.7 58.1,245.7 58.2,309.7 58.3,260.9 58.3,276.9 58.4,278 58.4,272.5 58.5,273.9 58.5,276.8 58.6,276.8 58.7,276.3 58.7,278.9 58.8,281.7 58.8,279 58.9,271 58.9,274.4 59,273.4 59.1,305.8 59.1,276.5 59.2,267.6 59.2,274.9 59.3,264.9 59.4,272.5 59.4,272.9 59.5,265.5 59.5,308.6 59.6,265.3 59.6,305.3 59.7,242.5 59.8,280.2 59.8,277.4 59.9,270.4 59.9,267.1 60,277.1 60,267.8 60.1,273.2 60.2,270 60.2,272 60.3,276.3 60.3,269.4 60.4,268.6 60.4,269.9 60.5,264.9 60.6,268.7 60.6,273.9 60.7,270.1 60.7,263 60.8,271.3 60.8,263.7 60.9,262.3 61,304 61,275.9 61.1,310.5 61.1,280.8 61.2,308.7 61.2,273 61.3,307.3 61.4,242.5 61.4,306.3 61.5,279 61.5,305.7 61.6,268.3 61.7,308.7 61.7,284 61.8,289.3 61.8,293.3 61.9,292.1 61.9,294.7 62,299 62.1,299.9 62.1,298.3 62.2,309.6 62.2,270.1 62.3,307.9 62.3,279.3 62.4,275.5 62.5,279.7 62.5,274.8 62.6,278.4 62.6,274.8 62.7,267.7 62.7,277.6 62.8,282.6 62.9,272.7 62.9,276.6 63,304.9 63,281.5 63.1,275 63.1,276.3 63.2,274.6 63.3,243 63.3,278.2 63.4,268.2 63.4,271.3 63.5,276.6 63.5,267.3 63.6,270.3 63.7,241.6 63.7,271.8 63.8,263.9 63.8,264.6 63.9,265.7 64,264.6 64,267.7 64.1,269.8 64.1,269.1 64.2,265.2 64.2,309.6 64.3,265.4 64.4,265.1 64.4,261.6 64.5,264.4 64.5,267.4 64.6,267.9 64.6,272.1 64.7,266 64.8,264.6 64.8,263.2 64.9,268 64.9,243.7 65,277.1 65,244.9 65.1,273 65.2,274.3 65.2,273.6 65.3,273.3 65.3,270.5 65.4,269.9 65.4,271 65.5,276.6 65.6,274 65.6,276.1 65.7,274.6 65.7,246.5 65.8,306.1 65.8,243.8 65.9,310.5 66,281.3 66,270.9 66.1,284.8 66.1,273.1 66.2,282.3 66.3,268.8 66.3,272.3 66.4,309.9 66.4,280.3 66.5,275 66.5,279.1 66.6,281.9 66.7,272.2 66.7,284.6 66.8,245.8 66.8,279.9 66.9,243.4 66.9,268 67,262.6 67.1,261.8 67.1,265.1 67.2,269.3 67.2,272.1 67.3,263 67.3,260 67.4,258.7 67.5,255.6 67.5,257 67.6,256.5 67.6,260.3 67.7,258.4 67.7,258.7 67.8,256.7 67.9,256.5 67.9,308.2 68,251 68,250.2 68.1,246.7 68.1,250.7 68.2,250.5 68.3,248.1 68.3,247 68.4,245.1 68.4,272.4 68.5,242.6 68.6,280.2 68.6,267.2 68.7,275.3 68.7,284.6 68.8,274.2 68.8,247.8 68.9,268.8 69,243 69,275.9 69.1,245.4 69.1,281.2 69.2,243.2 69.2,277.6 69.3,244.9 69.4,271.9 69.4,245.9 69.5,269.8 69.5,242.1 69.6,273.2 69.6,276.8 69.7,281.7 69.8,272.9 69.8,284.6 69.9,243.8 69.9,277.3 70,278.9 70,284.7 70.1,279.8 70.2,289.8 70.2,281.5 70.3,285.3 70.3,245.3 70.4,305.1 70.4,244.8 70.5,277.1 70.6,246.4 70.6,247.4 70.7,244.8 70.7,244.3 70.8,249.3 70.8,246.5 70.9,247.8 71,246.6 71,245.6 71.1,246.5 71.1,244.5 71.2,248.6 71.3,244.9 71.3,279.7 71.4,242.4 71.4,281.6 71.5,242.8 71.5,278.5 71.6,243.8 71.7,306.9 71.7,245 71.8,269.1 71.8,246.6 71.9,270.7 71.9,274.2 72,278.4 72.1,270.7 72.1,277.1 72.2,269.5 72.2,268.9 72.3,285.8 72.3,276.8 72.4,277.4 72.5,273.7 72.5,276.2 72.6,248.7 72.6,244 72.7,274.9 72.7,273.1 72.8,275.2 72.9,274.7 72.9,278.1 73,279.5 73,281.2 73.1,277.6 73.1,276.1 73.2,277.2 73.3,278.1 73.3,277.2 73.4,279 73.4,277.6 73.5,245.9 73.6,310.4 73.6,243.6 73.7,282.3 73.7,242.9 73.8,279.6 73.8,285.3 73.9,282.8 74,282.7 74,279.7 74.1,278.4 74.1,280.6 74.2,279.7 74.2,282 74.3,283.7 74.4,283.9 74.4,282.4 74.5,281.6 74.5,277.9 74.6,277.1 74.6,242.8 74.7,308.6 74.8,245.4 74.8,310.8 74.9,242.8 74.9,306.7 75,296.5 75,295.9 75.1,298 75.2,301.2 75.2,245.9 75.3,285.5 75.3,284.7 75.4,308.4 75.4,244.6 75.5,294.8 75.6,296.7 75.6,294.9 75.7,297.6 75.7,247.2 75.8,303.2 75.9,301.4 75.9,306.3 76,306.2 76,307.6 76.1,303.7 76.1,303.3 76.2,245.6 76.3,300.9 76.3,298.5 76.4,242.1 76.4,310.3 76.5,245.1 76.5,308.9 76.6,268.2 76.7,306.5 76.7,268.3 76.8,269.3 76.8,273.1 76.9,273.3 76.9,269.4 77,268.4 77.1,271.7 77.1,279.2 77.2,275.6 77.2,277.1 77.3,278.1 77.3,280.5 77.4,280.1 77.5,280.5 77.5,281.9 77.6,279.5 77.6,279.9 77.7,244.5 77.7,247.1 77.8,246.9 77.9,245.5 77.9,247.4 78,248.8 78,245.8 78.1,248 78.2,245.9 78.2,245.6 78.3,246.1 78.3,244.2 78.4,242.1 78.4,242.6 78.5,245.1 78.6,244.1 78.6,245.1 78.7,249.3 78.7,249.7 78.8,309.8 78.8,250.4 78.9,249.5 79,247 79,257.1 79.1,252.3 79.1,304.4 79.2,251.8 79.2,249.5 79.3,247.8 79.4,248 79.4,250.9 79.5,252.7 79.5,245.5 79.6,306.7 79.6,245.2 79.7,246.7 79.8,245.3 79.8,245.8 79.9,247.3 79.9,246.5 80,250 80,249.9 80.1,246.2 80.2,309.8 80.2,242.8 80.3,310.6 80.3,242.6 80.4,309.9 80.5,245.9 80.5,271.4 80.6,269.1 80.6,269.6 80.7,270.5 80.7,271 80.8,305.4 80.9,266.2 80.9,264.9 81,264.2 81,266.4 81.1,270.9 81.1,273.1 81.2,273.7 81.3,275.5 81.3,273.2 81.4,273.9 81.4,304.2 81.5,272 81.5,271.9 81.6,274.9 81.7,245.5 81.7,308.9 81.8,244.1 81.8,307 81.9,243.4 81.9,305.6 82,244.6 82.1,310.5 82.1,244.7 82.2,305.6 82.2,244.2 82.3,308.7 82.3,245.3 82.4,284.6 82.5,281 82.5,281.3 82.6,281.5 82.6,283 82.7,245.2 82.7,285.5 82.8,291.5 82.9,286 82.9,287.8 83,290.8 83,290.5 83.1,294.1 83.2,294 83.2,292.9 83.3,290.5 83.3,248.9 83.4,291.3 83.4,241.9 83.5,251 83.6,249.6 83.6,249.2 83.7,248.2 83.7,248.2 83.8,245.2 83.8,244.9 83.9,307.5 84,245 84,310.1 84.1,246 84.1,310.6 84.2,245.2 84.2,306.4 84.3,282 84.4,279 84.4,245.2 84.5,281.8 84.5,277.5 84.6,275.2 84.6,273.3 84.7,275.5 84.8,275.6 84.8,275.1 84.9,305.4 84.9,242.3 85,309.3 85,241.6 85.1,306.6 85.2,246.4 85.2,309.6 85.3,245.8 85.3,306.2 85.4,245.2 85.5,307.2 85.5,244.8 85.6,309.8 85.6,242.3 85.7,284.6 85.7,283.1 85.8,280.4 85.9,279.3 85.9,281.3 86,281.1 86,281 86.1,278.9 86.1,278.8 86.2,281.7 86.3,282.8 86.3,283.4 86.4,284.2 86.4,286.3 86.5,285.2 86.5,287.4 86.6,287.1 86.7,286.4 86.7,283.2 86.8,284.4 86.8,283 86.9,280.5 86.9,241.7 87,308.4 87.1,247.1 87.1,305.3 87.2,245.3 87.2,308.5 87.3,245.5 87.3,310.6 87.4,246.3 87.5,309.5 87.5,247.3 87.6,307.4 87.6,246.7 87.7,307.6 87.8,243.1 87.8,253.1 87.9,257.2 87.9,258.1 88,256.6 88,257.6 88.1,257.6 88.2,258.8 88.2,258.8 88.3,261.3 88.3,256.5 88.4,260.7 88.4,257.1 88.5,256.9 88.6,258.2 88.6,257.8 88.7,256.8 88.7,257.4 88.8,244.5 88.8,310.5 88.9,242.9 89,310.1 89,242.8 89.1,309 89.1,310.9 89.2,310.2 89.2,308.6 89.3,308.4 89.4,307.4 89.4,305 89.5,308.4 89.5,310.3 89.6,304.6 89.6,242.2 89.7,295.1 89.8,292.1 89.8,290.5 89.9,291.2 89.9,290 90,291.6 90.1,289.6 90.1,290.3 90.2,293.5 90.2,248 90.3,302.9 90.3,301.1 90.4,299.4 90.5,299.6 90.5,297.5 90.6,299 90.6,296 90.7,293.8 90.7,291.7 90.8,292.1 90.9,241.8 90.9,307.3 91,243 91,309.3 91.1,242 91.1,306.4 91.2,242.5 91.3,259.3 91.3,261.4 91.4,263 91.4,264 91.5,265.3 91.5,263.3 91.6,267 91.7,265.2 91.7,269.8 91.8,267 91.8,269.5 91.9,269 91.9,270.1 92,268.8 92.1,268.8 92.1,265.8 92.2,303.7 92.2,266.2 92.3,264.3 92.4,266 92.4,266.2 92.5,243.1 92.5,310.6 92.6,243.7 92.6,309.8 92.7,245.2 92.8,309.7 92.8,243.2 92.9,306.6 92.9,245.7 93,310.5 93,242.6 93.1,308.7 93.2,245.6 93.2,308.2 93.3,244 93.3,272.4 93.4,269.6 93.4,267.5 93.5,271.1 93.6,271.8 93.6,268.7 93.7,272.6 93.7,270.1 93.8,272.8 93.8,269.2 93.9,266.5 94,268.7 94,267.7 94.1,310.3 94.1,266.7 94.2,271.2 94.2,268 94.3,268.7 94.4,269.3 94.4,271.6 94.5,270.3 94.5,243.9 94.6,307.4 94.7,275.7 94.7,274.5 94.8,275.7 94.8,275.2 94.9,274.8 94.9,308.6 95,274.5 95.1,275.4 95.1,273 95.2,272.2 95.2,269 95.3,270.9 95.3,276.2 95.4,305.9 95.5,244.2 95.5,280.1 95.6,279.7 95.6,277.8 95.7,279.1 95.7,278.3 95.8,274.3 95.9,274.4 95.9,271.2 96,268.5 96,245.7 96.1,309.6 96.1,245.6 96.2,310 96.3,277.1 96.3,279 96.4,280.9 96.4,282.4 96.5,284.7 96.5,288 96.6,291.7 96.7,289.2 96.7,306.4 96.8,245.4 96.8,308.5 96.9,247.1 96.9,307.2 97,246.7 97.1,305.6 97.1,246.2 97.2,307.3 97.2,245 97.3,305.9 97.4,244 97.4,306.3 97.5,244.8 97.5,305.2 97.6,245.9 97.6,309.1 97.7,243.2 97.8,310.7 97.8,244.2 97.9,306.2 97.9,243.3 98,310 98,278.5 98.1,276.8 98.2,274.3 98.2,276.3 98.3,274.2 98.3,274.3 98.4,274.4 98.4,274.4 98.5,271.2 98.6,272.2 98.6,270.2 98.7,270.4 98.7,269.9 98.8,293.2 98.8,291.3 98.9,299.1 99,301.7 99,299.1 99.1,298.4 99.1,303.3 99.2,301.7 99.2,302.7 99.3,302.6 99.4,300.6 99.4,302.8 99.5,245.1 99.5,305.9 99.6,241.6 99.7,309.4 99.7,244.2 99.8,305.2 99.8,242.3 99.9,307.6 99.9,244.3 100,305.9 100.1,245.5 100.1,257 100.2,252.3 100.2,255.4 100.3,252.3 100.3,253.9 100.4,251.3 100.5,252 100.5,248.9 100.6,252.2 100.6,255 100.7,252.9 100.7,252.2 100.8,254.4 100.9,252.7 100.9,253.1 101,249.6 101,250.9 101.1,251.2 101.1,244.3 101.2,306.3 101.3,241.9 101.3,310.3 101.4,304.8 101.4,302.2 101.5,301.1 101.5,242.9 101.6,243 101.7,301.2 101.7,300.6 101.8,299.7 101.8,249 101.9,296.8 102,244.5 102,298 102.1,295.7 102.1,297.4 102.2,301.2 102.2,305.1 102.3,305.6 102.4,302.2 102.4,300.7 102.5,307.4 102.5,244.7 102.6,306.7 102.6,246.3 102.7,310 102.8,246.4 102.8,252.8 102.9,257.6 102.9,306.3 103,259.1 103,256.3 103.1,255.6 103.2,257.1 103.2,253.2 103.3,257 103.3,258.8 103.4,260.3 103.4,259.8 103.5,260.9 103.6,255.5 103.6,242.3 103.7,309.2 103.7,242.4 103.8,309.3 103.8,242.9 103.9,308.3 104,244.9 104,306.5 104.1,243.2 104.1,308.2 104.2,244.7 104.3,310.6 104.3,243.9 104.4,310 104.4,243.7 104.5,307.3 104.5,247.2 104.6,308.7 104.7,245.1 104.7,307 104.8,242.8 104.8,307.4 104.9,242.6 104.9,305.5 105,247.1 105.1,307.2 105.1,243.4 105.2,306.3 105.2,244.6 105.3,308.1 105.3,247 105.4,309.1 105.5,247.1 105.5,251.8 105.6,252.4 105.6,255.4 105.7,252.5 105.7,251.9 105.8,254.4 105.9,254.9 105.9,255.3 106,252.8 106,251.2 106.1,252.2 106.1,304 106.2,262.2 106.3,260 106.3,258.1 106.4,260.8 106.4,261.5 106.5,309.7 106.6,244.5 106.6,310.3 106.7,246.7 106.7,308.9 106.8,243.7 106.8,310 106.9,243.6 107,305.9 107,244.3 107.1,307.1 107.1,246 107.2,310.3 107.2,244.2 107.3,309.4 107.4,246.5 107.4,310.4 107.5,244.1 107.5,306.4 107.6,245.1 107.6,308.1 107.7,242.3 107.8,306 107.8,243.5 107.9,309.3 107.9,244.9 108,306.7 108,243.9 108.1,308.9 108.2,301.2 108.2,304.8 108.3,304.8 108.3,304.5 108.4,302.6 108.4,299.6 108.5,301 108.6,305.6 108.6,306.2 108.7,305.1 108.7,301.2 108.8,298.9 108.8,251.4 108.9,252 109,254.9 109,254.4 109.1,308.2 109.1,260.1 109.2,257.9 109.3,259.9 109.3,258.4 109.4,257 109.4,243.9 109.5,308.1 109.5,242.5 109.6,305.9 109.7,246.3 109.7,308.2 109.8,246.4 109.8,305.9 109.9,259 109.9,261.7 110,257.1 110.1,257.3 110.1,258.6 110.2,262.6 110.2,260.1 110.3,303.3 110.3,255.6 110.4,254.9 110.5,308.9 110.5,256.8 110.6,257.7 110.6,309.8 110.7,309.1 110.7,307.7 110.8,242.5 110.9,307.6 110.9,244.7 111,307.8 111,260.3 111.1,306.5 111.1,263 111.2,263 111.3,263.8 111.3,262.7 111.4,260.3 111.4,257.3 111.5,255.7 111.6,257.6 111.6,258.3 111.7,256.8 111.7,257.4 111.8,257.4 111.8,310.2 111.9,266.6 112,265.4 112,266.6 112.1,310.4 112.1,261.7 112.2,261.6 112.2,242.2 112.3,307.9 112.4,243.3 112.4,309.2 112.5,242.2 112.5,308.5 112.6,245.5 112.6,310.7 112.7,245.8 112.8,306.6 112.8,263.5 112.9,265.1 112.9,303.6 113,265.1 113,268 113.1,264.7 113.2,263.3 113.2,265.4 113.3,262.3 113.3,309.4 113.4,264.4 113.4,265.3 113.5,261.8 113.6,261.1 113.6,259.4 113.7,259.1 113.7,258 113.8,257.2 113.9,257.2 113.9,258 114,309.2 114,262.5 114.1,262.8 114.1,284 114.2,282.7 114.3,283.7 114.3,245.9 114.4,281.4 114.4,281 114.5,281.8 114.5,282.7 114.6,279.7 114.7,275.3 114.7,274.8 114.8,274.2 114.8,274.8 114.9,274.5 114.9,276 115,274 115.1,278.2 115.1,277.8 115.2,276.5 115.2,305.8 115.3,242.7 115.3,305.3 115.4,243.9 115.5,307.7 115.5,246.3 115.6,308.9 115.6,242.1 115.7,307.8 115.7,243.8 115.8,308.7 115.9,243.9 115.9,308 116,241.8 116,306.2 116.1,246.9 116.2,310.8 116.2,247.2 116.3,275.2 116.3,275.5 116.4,273.8 116.4,309.5 116.5,271.7 116.6,271.4 116.6,271.5 116.7,269.3 116.7,270.6 116.8,272 116.8,273 116.9,274.7 117,271.3 117,272.7 117.1,272.6 117.1,274.2 117.2,274 117.2,273.1 117.3,271 117.4,242.4 117.4,309.1 117.5,243.7 117.5,310.3 117.6,248.9 117.6,248.8 117.7,244.1 117.8,245.4 117.8,246.1 117.9,248 117.9,310.7 118,249.1 118,251.8 118.1,252 118.2,252.5 118.2,248.9 118.3,250.4 118.3,251.1 118.4,249.2 118.5,249.9 118.5,251.1 118.6,305.8 118.6,246.6 118.7,247.4 118.7,247.2 118.8,247.3 118.9,306.3 118.9,241.7 119,296.4 119,296.5 119.1,298.1 119.1,296.9 119.2,298 119.3,243.3 119.3,302 119.4,300.9 119.4,247.4 119.5,300.1 119.5,304.2 119.6,247.2 119.7,303.6 119.7,301.4 119.8,299.4 119.8,300.9 119.9,304.4 119.9,300.6 120,242.4 120.1,307 120.1,308.5 120.2,307.5 120.2,305.7 120.3,307.3 120.3,278 120.4,276.8 120.5,275.9 120.5,272.1 120.6,275.4 120.6,273.3 120.7,273.8 120.8,279 120.8,276.6 120.9,278.4 120.9,275.5 121,308.1 121,276.1 121.1,274 121.2,274.6 121.2,271.2 121.3,270.1 121.3,305.4 121.4,245.9 121.4,309.9 121.5,241.6 121.6,305.1 121.6,259.5 121.7,263.8 121.7,265.2 121.8,266.7 121.8,264 121.9,265.4 122,265.7 122,268.6 122.1,268.2 122.1,265.8 122.2,265.9 122.2,266.3 122.3,261.3 122.4,259.1 122.4,259 122.5,258.2 122.5,261.3 122.6,308.1 122.6,260.2 122.7,259.3 122.8,296.5 122.8,295.8 122.9,297 122.9,300.1 123,299.9 123,243.3 123.1,307.4 123.2,244.5 123.2,310 123.3,244.6 123.3,309 123.4,244.1 123.5,306.7 123.5,242 123.6,309.1 123.6,243.3 123.7,308.1 123.7,242.8 123.8,308 123.9,243.8 123.9,310.2 124,244.4 124,308.4 124.1,242.9 124.1,305.2 124.2,246.2 124.3,307.6 124.3,245.4 124.4,308.8 124.4,245 124.5,308.1 124.5,242.4 124.6,307.7 124.7,244.6 124.7,307.8 124.8,241.7 124.8,307.7 124.9,241.9 124.9,307 125,242.4 125.1,307.7 125.1,246.3 125.2,308.5 125.2,243.9 125.3,309.4 125.3,242.3 125.4,308 125.5,306.8 125.5,307.9 125.6,309.1 125.6,310.9 125.7,310.9 125.8,310.9 125.8,308.5 125.9,306.9 125.9,307.6 126,303.3 126,305.1 126.1,304.3 126.2,306.6 126.2,306.6 126.3,307.5 126.3,308 126.4,309.1 126.4,241.8 126.5,307.7 126.6,243.8 126.6,306.7 126.7,246.1 126.7,305.8 126.8,246.3 126.8,309.8 126.9,244.3 127,244.2 127,276.7 127.1,307.4" fill="none" stroke="#1f72ad" stroke-width="0.45" stroke-opacity="0.95" stroke-linejoin="round"/>
<rect x="26.5" y="230.4" width="104.3" height="84" fill="none" stroke="#8c8c8c" stroke-width="0.9"/>
<line x1="24.7" y1="233.8" x2="26.5" y2="233.8" stroke="#555" stroke-width="0.6"/>
<text x="23.7" y="236.2" text-anchor="end">400</text>
<line x1="24.7" y1="249.2" x2="26.5" y2="249.2" stroke="#555" stroke-width="0.6"/>
<text x="23.7" y="251.6" text-anchor="end">320</text>
<line x1="24.7" y1="264.6" x2="26.5" y2="264.6" stroke="#555" stroke-width="0.6"/>
<text x="23.7" y="267" text-anchor="end">240</text>
<line x1="24.7" y1="280.1" x2="26.5" y2="280.1" stroke="#555" stroke-width="0.6"/>
<text x="23.7" y="282.4" text-anchor="end">160</text>
<line x1="24.7" y1="295.4" x2="26.5" y2="295.4" stroke="#555" stroke-width="0.6"/>
<text x="23.7" y="297.8" text-anchor="end">80</text>
<line x1="24.7" y1="310.9" x2="26.5" y2="310.9" stroke="#555" stroke-width="0.6"/>
<text x="23.7" y="313.2" text-anchor="end">0</text>
<line x1="40.5" y1="314.4" x2="40.5" y2="315.5" stroke="#777" stroke-width="0.5"/>
<line x1="62.9" y1="314.4" x2="62.9" y2="315.5" stroke="#777" stroke-width="0.5"/>
<line x1="85.2" y1="314.4" x2="85.2" y2="315.5" stroke="#777" stroke-width="0.5"/>
<line x1="107.5" y1="314.4" x2="107.5" y2="315.5" stroke="#777" stroke-width="0.5"/>
<line x1="25.4" y1="241.6" x2="26.5" y2="241.6" stroke="#777" stroke-width="0.5"/>
<line x1="25.4" y1="256.9" x2="26.5" y2="256.9" stroke="#777" stroke-width="0.5"/>
<line x1="25.4" y1="272.4" x2="26.5" y2="272.4" stroke="#777" stroke-width="0.5"/>
<line x1="25.4" y1="287.8" x2="26.5" y2="287.8" stroke="#777" stroke-width="0.5"/>
<line x1="25.4" y1="303.2" x2="26.5" y2="303.2" stroke="#777" stroke-width="0.5"/>
<line x1="29.4" y1="314.4" x2="29.4" y2="316.2" stroke="#555" stroke-width="0.6"/>
<text x="29.4" y="323.2" text-anchor="middle">0</text>
<line x1="51.7" y1="314.4" x2="51.7" y2="316.2" stroke="#555" stroke-width="0.6"/>
<text x="51.7" y="323.2" text-anchor="middle">2000</text>
<line x1="74" y1="314.4" x2="74" y2="316.2" stroke="#555" stroke-width="0.6"/>
<text x="74" y="323.2" text-anchor="middle">4000</text>
<line x1="96.3" y1="314.4" x2="96.3" y2="316.2" stroke="#555" stroke-width="0.6"/>
<text x="96.3" y="323.2" text-anchor="middle">6000</text>
<line x1="118.6" y1="314.4" x2="118.6" y2="316.2" stroke="#555" stroke-width="0.6"/>
<text x="118.6" y="323.2" text-anchor="middle">8000</text>
<text x="78.7" y="334" text-anchor="middle">Time (hours)</text>
<text transform="translate(9.8 272.4) rotate(-90)" text-anchor="middle">Wind direction (°C)</text>
<line x1="64" y1="236.5" x2="79.5" y2="236.5" stroke="#1f72ad" stroke-width="0.6" stroke-opacity="0.6"/>
<text x="82" y="238.3">Wind direction</text>
</g>
<g font-size="6.78">
<line x1="168.5" y1="245.9" x2="269.8" y2="245.9" stroke="#f0f0f0" stroke-width="0.5"/>
<line x1="168.5" y1="258.4" x2="269.8" y2="258.4" stroke="#f0f0f0" stroke-width="0.5"/>
<line x1="168.5" y1="271" x2="269.8" y2="271" stroke="#f0f0f0" stroke-width="0.5"/>
<line x1="168.5" y1="283.5" x2="269.8" y2="283.5" stroke="#f0f0f0" stroke-width="0.5"/>
<line x1="168.5" y1="296.1" x2="269.8" y2="296.1" stroke="#f0f0f0" stroke-width="0.5"/>
<line x1="168.5" y1="308.6" x2="269.8" y2="308.6" stroke="#f0f0f0" stroke-width="0.5"/>
<polyline points="171.9,308.6 172,308.6 172,308.6 172.1,308.6 172.2,308.6 172.2,308.6 172.3,308.6 172.3,308.6 172.4,308.6 172.5,308.6 172.5,308.6 172.6,308.6 172.7,308.6 172.7,308.6 172.8,308.6 172.9,308.6 172.9,308.6 173,308.6 173,308.6 173.1,308.6 173.2,308.6 173.2,308.6 173.3,308.6 173.4,308.6 173.4,308.6 173.5,245.9 173.6,308.6 173.6,308.6 173.7,308.6 173.7,308.6 173.8,308.6 173.9,308.6 173.9,308.6 174,308.6 174.1,308.6 174.1,308.6 174.2,308.6 174.2,308.6 174.3,308.6 174.4,308.6 174.4,308.6 174.5,308.6 174.6,308.6 174.6,245.9 174.7,245.9 174.8,245.9 174.8,245.9 174.9,245.9 174.9,245.9 175,245.9 175.1,245.9 175.1,245.9 175.2,245.9 175.3,245.9 175.3,245.9 175.4,245.9 175.5,245.9 175.5,245.9 175.6,308.6 175.6,308.6 175.7,308.6 175.8,308.6 175.8,308.6 175.9,308.6 176,308.6 176,308.6 176.1,308.6 176.2,308.6 176.2,308.6 176.3,308.6 176.3,308.6 176.4,308.6 176.5,308.6 176.5,308.6 176.6,308.6 176.7,308.6 176.7,308.6 176.8,308.6 176.9,308.6 176.9,308.6 177,308.6 177,308.6 177.1,308.6 177.2,308.6 177.2,308.6 177.3,308.6 177.4,245.9 177.4,245.9 177.5,245.9 177.5,245.9 177.6,245.9 177.7,245.9 177.7,245.9 177.8,245.9 177.9,245.9 177.9,245.9 178,245.9 178.1,245.9 178.1,245.9 178.2,245.9 178.2,245.9 178.3,245.9 178.4,245.9 178.4,245.9 178.5,245.9 178.6,245.9 178.6,245.9 178.7,245.9 178.8,245.9 178.8,245.9 178.9,308.6 178.9,245.9 179,308.6 179.1,245.9 179.1,308.6 179.2,245.9 179.3,245.9 179.3,245.9 179.4,245.9 179.5,245.9 179.5,245.9 179.6,245.9 179.6,245.9 179.7,245.9 179.8,245.9 179.8,245.9 179.9,245.9 180,245.9 180,245.9 180.1,245.9 180.2,245.9 180.2,245.9 180.3,245.9 180.3,245.9 180.4,245.9 180.5,245.9 180.5,245.9 180.6,245.9 180.7,245.9 180.7,245.9 180.8,245.9 180.8,245.9 180.9,245.9 181,308.6 181,245.9 181.1,308.6 181.2,245.9 181.2,308.6 181.3,245.9 181.4,308.6 181.4,308.6 181.5,308.6 181.5,308.6 181.6,308.6 181.7,308.6 181.7,308.6 181.8,308.6 181.9,308.6 181.9,308.6 182,308.6 182.1,308.6 182.1,308.6 182.2,245.9 182.2,308.6 182.3,245.9 182.4,308.6 182.4,308.6 182.5,308.6 182.6,308.6 182.6,308.6 182.7,308.6 182.8,308.6 182.8,308.6 182.9,308.6 182.9,308.6 183,308.6 183.1,308.6 183.1,308.6 183.2,308.6 183.3,308.6 183.3,308.6 183.4,308.6 183.5,308.6 183.5,308.6 183.6,245.9 183.6,308.6 183.7,245.9 183.8,245.9 183.8,245.9 183.9,245.9 184,245.9 184,245.9 184.1,245.9 184.1,245.9 184.2,245.9 184.3,245.9 184.3,245.9 184.4,245.9 184.5,245.9 184.5,245.9 184.6,245.9 184.7,245.9 184.7,245.9 184.8,245.9 184.8,245.9 184.9,245.9 185,245.9 185,245.9 185.1,245.9 185.2,245.9 185.2,308.6 185.3,245.9 185.4,245.9 185.4,245.9 185.5,245.9 185.5,245.9 185.6,245.9 185.7,245.9 185.7,245.9 185.8,245.9 185.9,245.9 185.9,245.9 186,245.9 186.1,245.9 186.1,245.9 186.2,245.9 186.2,245.9 186.3,245.9 186.4,308.6 186.4,245.9 186.5,308.6 186.6,308.6 186.6,308.6 186.7,308.6 186.8,308.6 186.8,308.6 186.9,308.6 186.9,308.6 187,308.6 187.1,308.6 187.1,308.6 187.2,308.6 187.3,308.6 187.3,308.6 187.4,308.6 187.4,308.6 187.5,308.6 187.6,308.6 187.6,308.6 187.7,308.6 187.8,308.6 187.8,308.6 187.9,308.6 188,308.6 188,308.6 188.1,308.6 188.1,245.9 188.2,245.9 188.3,245.9 188.3,245.9 188.4,245.9 188.5,245.9 188.5,245.9 188.6,245.9 188.7,245.9 188.7,245.9 188.8,245.9 188.8,245.9 188.9,245.9 189,245.9 189,245.9 189.1,245.9 189.2,245.9 189.2,245.9 189.3,245.9 189.4,245.9 189.4,245.9 189.5,245.9 189.5,308.6 189.6,245.9 189.7,245.9 189.7,245.9 189.8,245.9 189.9,245.9 189.9,245.9 190,245.9 190.1,245.9 190.1,245.9 190.2,245.9 190.2,245.9 190.3,245.9 190.4,245.9 190.4,245.9 190.5,245.9 190.6,245.9 190.6,245.9 190.7,245.9 190.7,245.9 190.8,245.9 190.9,308.6 190.9,308.6 191,308.6 191.1,308.6 191.1,308.6 191.2,308.6 191.3,245.9 191.3,308.6 191.4,245.9 191.4,308.6 191.5,245.9 191.6,308.6 191.6,308.6 191.7,308.6 191.8,308.6 191.8,308.6 191.9,308.6 192,308.6 192,308.6 192.1,308.6 192.1,308.6 192.2,308.6 192.3,308.6 192.3,308.6 192.4,245.9 192.5,308.6 192.5,245.9 192.6,308.6 192.7,308.6 192.7,308.6 192.8,308.6 192.8,308.6 192.9,308.6 193,308.6 193,308.6 193.1,308.6 193.2,245.9 193.2,245.9 193.3,245.9 193.4,245.9 193.4,245.9 193.5,245.9 193.5,245.9 193.6,245.9 193.7,245.9 193.7,245.9 193.8,308.6 193.9,245.9 193.9,308.6 194,245.9 194,245.9 194.1,245.9 194.2,245.9 194.2,245.9 194.3,245.9 194.4,245.9 194.4,245.9 194.5,245.9 194.6,245.9 194.6,245.9 194.7,245.9 194.7,245.9 194.8,245.9 194.9,245.9 194.9,245.9 195,245.9 195.1,245.9 195.1,245.9 195.2,245.9 195.3,245.9 195.3,245.9 195.4,245.9 195.4,245.9 195.5,245.9 195.6,245.9 195.6,308.6 195.7,308.6 195.8,308.6 195.8,308.6 195.9,308.6 196,308.6 196,308.6 196.1,308.6 196.1,308.6 196.2,308.6 196.3,308.6 196.3,308.6 196.4,308.6 196.5,308.6 196.5,308.6 196.6,308.6 196.7,308.6 196.7,245.9 196.8,308.6 196.8,245.9 196.9,245.9 197,245.9 197,245.9 197.1,245.9 197.2,245.9 197.2,308.6 197.3,245.9 197.3,245.9 197.4,245.9 197.5,245.9 197.5,245.9 197.6,245.9 197.7,245.9 197.7,245.9 197.8,245.9 197.9,245.9 197.9,245.9 198,245.9 198,245.9 198.1,245.9 198.2,245.9 198.2,245.9 198.3,245.9 198.4,245.9 198.4,245.9 198.5,245.9 198.6,245.9 198.6,245.9 198.7,245.9 198.7,245.9 198.8,245.9 198.9,245.9 198.9,245.9 199,245.9 199.1,308.6 199.1,245.9 199.2,308.6 199.3,308.6 199.3,308.6 199.4,308.6 199.4,308.6 199.5,308.6 199.6,308.6 199.6,245.9 199.7,308.6 199.8,245.9 199.8,245.9 199.9,245.9 200,245.9 200,245.9 200.1,245.9 200.1,245.9 200.2,245.9 200.3,245.9 200.3,245.9 200.4,245.9 200.5,245.9 200.5,245.9 200.6,245.9 200.6,245.9 200.7,245.9 200.8,245.9 200.8,245.9 200.9,245.9 201,245.9 201,245.9 201.1,245.9 201.2,308.6 201.2,245.9 201.3,308.6 201.3,245.9 201.4,308.6 201.5,245.9 201.5,308.6 201.6,245.9 201.7,308.6 201.7,245.9 201.8,308.6 201.9,245.9 201.9,308.6 202,245.9 202,245.9 202.1,245.9 202.2,245.9 202.2,245.9 202.3,245.9 202.4,308.6 202.4,308.6 202.5,308.6 202.6,308.6 202.6,308.6 202.7,308.6 202.7,308.6 202.8,308.6 202.9,308.6 202.9,308.6 203,308.6 203.1,308.6 203.1,308.6 203.2,308.6 203.3,308.6 203.3,308.6 203.4,308.6 203.4,308.6 203.5,245.9 203.6,308.6 203.6,245.9 203.7,308.6 203.8,245.9 203.8,308.6 203.9,245.9 203.9,308.6 204,245.9 204.1,308.6 204.1,245.9 204.2,308.6 204.3,245.9 204.3,308.6 204.4,245.9 204.5,308.6 204.5,308.6 204.6,308.6 204.6,308.6 204.7,308.6 204.8,308.6 204.8,308.6 204.9,308.6 205,308.6 205,308.6 205.1,308.6 205.2,308.6 205.2,308.6 205.3,308.6 205.3,308.6 205.4,245.9 205.5,308.6 205.5,245.9 205.6,308.6 205.7,245.9 205.7,308.6 205.8,245.9 205.9,245.9 205.9,245.9 206,245.9 206,245.9 206.1,245.9 206.2,245.9 206.2,245.9 206.3,245.9 206.4,245.9 206.4,245.9 206.5,245.9 206.6,245.9 206.6,245.9 206.7,245.9 206.7,245.9 206.8,245.9 206.9,245.9 206.9,245.9 207,245.9 207.1,245.9 207.1,308.6 207.2,245.9 207.2,308.6 207.3,245.9 207.4,245.9 207.4,245.9 207.5,245.9 207.6,245.9 207.6,245.9 207.7,245.9 207.8,245.9 207.8,245.9 207.9,245.9 207.9,245.9 208,245.9 208.1,245.9 208.1,245.9 208.2,245.9 208.3,245.9 208.3,245.9 208.4,245.9 208.5,245.9 208.5,245.9 208.6,245.9 208.6,245.9 208.7,245.9 208.8,245.9 208.8,245.9 208.9,245.9 209,308.6 209,245.9 209.1,308.6 209.2,308.6 209.2,308.6 209.3,308.6 209.3,308.6 209.4,308.6 209.5,308.6 209.5,308.6 209.6,308.6 209.7,308.6 209.7,308.6 209.8,308.6 209.9,308.6 209.9,308.6 210,308.6 210,308.6 210.1,308.6 210.2,308.6 210.2,308.6 210.3,308.6 210.4,308.6 210.4,245.9 210.5,308.6 210.6,245.9 210.6,308.6 210.7,245.9 210.7,308.6 210.8,245.9 210.9,308.6 210.9,245.9 211,308.6 211.1,245.9 211.1,308.6 211.2,245.9 211.2,308.6 211.3,245.9 211.4,308.6 211.4,308.6 211.5,308.6 211.6,308.6 211.6,308.6 211.7,308.6 211.8,308.6 211.8,308.6 211.9,245.9 211.9,308.6 212,245.9 212.1,308.6 212.1,245.9 212.2,245.9 212.3,245.9 212.3,245.9 212.4,245.9 212.5,245.9 212.5,245.9 212.6,245.9 212.6,245.9 212.7,245.9 212.8,245.9 212.8,245.9 212.9,245.9 213,245.9 213,308.6 213.1,245.9 213.2,308.6 213.2,245.9 213.3,308.6 213.3,245.9 213.4,308.6 213.5,245.9 213.5,308.6 213.6,245.9 213.7,308.6 213.7,245.9 213.8,308.6 213.9,245.9 213.9,308.6 214,245.9 214,308.6 214.1,245.9 214.2,308.6 214.2,245.9 214.3,308.6 214.4,245.9 214.4,308.6 214.5,245.9 214.5,308.6 214.6,245.9 214.7,308.6 214.7,245.9 214.8,245.9 214.9,245.9 214.9,245.9 215,245.9 215.1,245.9 215.1,245.9 215.2,245.9 215.2,245.9 215.3,245.9 215.4,245.9 215.4,245.9 215.5,245.9 215.6,245.9 215.6,245.9 215.7,245.9 215.8,245.9 215.8,245.9 215.9,245.9 215.9,245.9 216,245.9 216.1,245.9 216.1,245.9 216.2,245.9 216.3,245.9 216.3,308.6 216.4,245.9 216.5,308.6 216.5,245.9 216.6,308.6 216.6,245.9 216.7,308.6 216.8,245.9 216.8,308.6 216.9,245.9 217,308.6 217,245.9 217.1,308.6 217.2,245.9 217.2,308.6 217.3,245.9 217.3,308.6 217.4,245.9 217.5,308.6 217.5,245.9 217.6,245.9 217.7,245.9 217.7,245.9 217.8,245.9 217.8,245.9 217.9,245.9 218,245.9 218,245.9 218.1,245.9 218.2,245.9 218.2,245.9 218.3,308.6 218.4,245.9 218.4,308.6 218.5,245.9 218.5,308.6 218.6,245.9 218.7,308.6 218.7,245.9 218.8,308.6 218.9,245.9 218.9,308.6 219,245.9 219.1,308.6 219.1,245.9 219.2,308.6 219.2,245.9 219.3,308.6 219.4,245.9 219.4,308.6 219.5,245.9 219.6,308.6 219.6,245.9 219.7,308.6 219.8,308.6 219.8,308.6 219.9,308.6 219.9,308.6 220,308.6 220.1,308.6 220.1,308.6 220.2,308.6 220.3,308.6 220.3,308.6 220.4,308.6 220.5,308.6 220.5,308.6 220.6,308.6 220.6,308.6 220.7,308.6 220.8,308.6 220.8,308.6 220.9,245.9 221,245.9 221,245.9 221.1,245.9 221.1,245.9 221.2,245.9 221.3,245.9 221.3,245.9 221.4,245.9 221.5,245.9 221.5,245.9 221.6,245.9 221.7,245.9 221.7,245.9 221.8,245.9 221.8,245.9 221.9,245.9 222,245.9 222,245.9 222.1,245.9 222.2,245.9 222.2,245.9 222.3,245.9 222.4,245.9 222.4,245.9 222.5,303 222.5,245.9 222.6,245.9 222.7,245.9 222.7,245.9 222.8,245.9 222.9,245.9 222.9,245.9 223,245.9 223.1,245.9 223.1,245.9 223.2,245.9 223.2,245.9 223.3,245.9 223.4,245.9 223.4,245.9 223.5,245.9 223.6,245.9 223.6,287.2 223.7,245.9 223.8,285.4 223.8,284.5 223.9,283.7 223.9,282.8 224,281.9 224.1,281 224.1,280.2 224.2,279.3 224.3,278.4 224.3,277.5 224.4,276.7 224.4,275.8 224.5,274.9 224.6,274.2 224.6,275 224.7,275.9 224.8,276.8 224.8,277.7 224.9,278.5 225,279.4 225,280.3 225.1,281.2 225.1,282 225.2,282.9 225.3,245.9 225.3,284.7 225.4,245.9 225.5,286.4 225.5,245.9 225.6,288.2 225.7,245.9 225.7,289.9 225.8,245.9 225.8,291.7 225.9,245.9 226,293.4 226,294.3 226.1,295.2 226.2,296.1 226.2,297 226.3,297.8 226.4,298.7 226.4,299.6 226.5,300.5 226.5,301.3 226.6,302.2 226.7,303.1 226.7,304 226.8,304.8 226.9,305.7 226.9,306.6 227,245.9 227.1,245.9 227.1,245.9 227.2,245.9 227.2,245.9 227.3,245.9 227.4,245.9 227.4,245.9 227.5,245.9 227.6,245.9 227.6,245.9 227.7,308.6 227.7,245.9 227.8,245.9 227.9,245.9 227.9,245.9 228,245.9 228.1,245.9 228.1,245.9 228.2,245.9 228.3,245.9 228.3,245.9 228.4,245.9 228.4,245.9 228.5,245.9 228.6,245.9 228.6,308.6 228.7,308.6 228.8,308.6 228.8,308.6 228.9,308.6 229,308.6 229,308.6 229.1,308.6 229.1,308.6 229.2,308.6 229.3,308.6 229.3,245.9 229.4,308.6 229.5,245.9 229.5,308.6 229.6,308.6 229.7,308.6 229.7,308.6 229.8,308.6 229.8,308.6 229.9,308.6 230,308.6 230,308.6 230.1,308.6 230.2,308.6 230.2,245.9 230.3,245.9 230.4,245.9 230.4,245.9 230.5,245.9 230.5,245.9 230.6,245.9 230.7,245.9 230.7,245.9 230.8,245.9 230.9,245.9 230.9,245.9 231,245.9 231,245.9 231.1,245.9 231.2,245.9 231.2,245.9 231.3,245.9 231.4,245.9 231.4,245.9 231.5,245.9 231.6,308.6 231.6,245.9 231.7,308.6 231.7,245.9 231.8,308.6 231.9,245.9 231.9,308.6 232,245.9 232.1,308.6 232.1,308.6 232.2,308.6 232.3,308.6 232.3,308.6 232.4,308.6 232.4,308.6 232.5,308.6 232.6,308.6 232.6,308.6 232.7,308.6 232.8,308.6 232.8,308.6 232.9,308.6 233,308.6 233,308.6 233.1,245.9 233.1,308.6 233.2,308.6 233.3,308.6 233.3,308.6 233.4,308.6 233.5,308.6 233.5,308.6 233.6,245.9 233.7,308.6 233.7,245.9 233.8,308.6 233.8,308.6 233.9,308.6 234,308.6 234,308.6 234.1,308.6 234.2,308.6 234.2,308.6 234.3,308.6 234.3,308.6 234.4,308.6 234.5,308.6 234.5,308.6 234.6,308.6 234.7,308.6 234.7,308.6 234.8,308.6 234.9,308.6 234.9,308.6 235,308.6 235,308.6 235.1,245.9 235.2,308.6 235.2,245.9 235.3,308.6 235.4,245.9 235.4,308.6 235.5,245.9 235.6,245.9 235.6,245.9 235.7,245.9 235.7,245.9 235.8,245.9 235.9,245.9 235.9,245.9 236,245.9 236.1,245.9 236.1,245.9 236.2,245.9 236.3,245.9 236.3,245.9 236.4,245.9 236.4,245.9 236.5,245.9 236.6,245.9 236.6,245.9 236.7,308.6 236.8,245.9 236.8,308.6 236.9,245.9 237,308.6 237,245.9 237.1,308.6 237.1,308.6 237.2,308.6 237.3,308.6 237.3,308.6 237.4,308.6 237.5,308.6 237.5,308.6 237.6,308.6 237.6,308.6 237.7,308.6 237.8,308.6 237.8,308.6 237.9,245.9 238,308.6 238,308.6 238.1,308.6 238.2,308.6 238.2,308.6 238.3,308.6 238.3,308.6 238.4,308.6 238.5,308.6 238.5,308.6 238.6,308.6 238.7,245.9 238.7,308.6 238.8,245.9 238.9,245.9 238.9,245.9 239,245.9 239,245.9 239.1,245.9 239.2,245.9 239.2,245.9 239.3,245.9 239.4,245.9 239.4,245.9 239.5,245.9 239.6,245.9 239.6,245.9 239.7,245.9 239.7,245.9 239.8,245.9 239.9,245.9 239.9,245.9 240,245.9 240.1,245.9 240.1,245.9 240.2,245.9 240.3,245.9 240.3,245.9 240.4,245.9 240.4,245.9 240.5,245.9 240.6,308.6 240.6,245.9 240.7,308.6 240.8,308.6 240.8,308.6 240.9,308.6 240.9,308.6 241,308.6 241.1,308.6 241.1,308.6 241.2,308.6 241.3,308.6 241.3,308.6 241.4,308.6 241.5,308.6 241.5,308.6 241.6,308.6 241.6,308.6 241.7,308.6 241.8,308.6 241.8,308.6 241.9,308.6 242,308.6 242,308.6 242.1,308.6 242.2,308.6 242.2,308.6 242.3,308.6 242.3,245.9 242.4,308.6 242.5,245.9 242.5,308.6 242.6,245.9 242.7,308.6 242.7,245.9 242.8,308.6 242.9,245.9 242.9,308.6 243,245.9 243,308.6 243.1,308.6 243.2,308.6 243.2,308.6 243.3,308.6 243.4,308.6 243.4,245.9 243.5,308.6 243.6,308.6 243.6,308.6 243.7,308.6 243.7,308.6 243.8,308.6 243.9,245.9 243.9,308.6 244,245.9 244.1,308.6 244.1,245.9 244.2,308.6 244.2,308.6 244.3,308.6 244.4,308.6 244.4,308.6 244.5,308.6 244.6,245.9 244.6,245.9 244.7,245.9 244.8,245.9 244.8,245.9 244.9,245.9 244.9,245.9 245,245.9 245.1,245.9 245.1,245.9 245.2,245.9 245.3,245.9 245.3,245.9 245.4,245.9 245.5,245.9 245.5,245.9 245.6,245.9 245.6,245.9 245.7,245.9 245.8,245.9 245.8,245.9 245.9,245.9 246,245.9 246,245.9 246.1,245.9 246.2,245.9 246.2,245.9 246.3,245.9 246.3,245.9 246.4,308.6 246.5,245.9 246.5,308.6 246.6,245.9 246.7,308.6 246.7,308.6 246.8,308.6 246.9,308.6 246.9,308.6 247,308.6 247,308.6 247.1,308.6 247.2,308.6 247.2,308.6 247.3,308.6 247.4,308.6 247.4,308.6 247.5,308.6 247.5,308.6 247.6,308.6 247.7,308.6 247.7,308.6 247.8,308.6 247.9,308.6 247.9,245.9 248,245.9 248.1,245.9 248.1,245.9 248.2,245.9 248.2,245.9 248.3,245.9 248.4,245.9 248.4,245.9 248.5,245.9 248.6,245.9 248.6,245.9 248.7,245.9 248.8,245.9 248.8,245.9 248.9,245.9 248.9,245.9 249,245.9 249.1,245.9 249.1,245.9 249.2,245.9 249.3,245.9 249.3,245.9 249.4,245.9 249.5,245.9 249.5,308.6 249.6,308.6 249.6,308.6 249.7,308.6 249.8,308.6 249.8,308.6 249.9,308.6 250,308.6 250,308.6 250.1,308.6 250.2,308.6 250.2,308.6 250.3,308.6 250.3,308.6 250.4,308.6 250.5,308.6 250.5,308.6 250.6,308.6 250.7,308.6 250.7,308.6 250.8,245.9 250.9,245.9 250.9,245.9 251,245.9 251,245.9 251.1,245.9 251.2,245.9 251.2,245.9 251.3,245.9 251.4,245.9 251.4,245.9 251.5,245.9 251.5,245.9 251.6,245.9 251.7,245.9 251.7,245.9 251.8,245.9 251.9,245.9 251.9,245.9 252,245.9 252.1,308.6 252.1,245.9 252.2,308.6 252.2,245.9 252.3,308.6 252.4,245.9 252.4,245.9 252.5,245.9 252.6,245.9 252.6,245.9 252.7,245.9 252.8,245.9 252.8,245.9 252.9,245.9 252.9,308.6 253,245.9 253.1,245.9 253.1,245.9 253.2,245.9 253.3,245.9 253.3,245.9 253.4,245.9 253.5,245.9 253.5,245.9 253.6,245.9 253.6,245.9 253.7,245.9 253.8,245.9 253.8,245.9 253.9,245.9 254,308.6 254,308.6 254.1,308.6 254.2,308.6 254.2,308.6 254.3,308.6 254.3,308.6 254.4,308.6 254.5,308.6 254.5,308.6 254.6,308.6 254.7,308.6 254.7,308.6 254.8,308.6 254.8,308.6 254.9,245.9 255,308.6 255,308.6 255.1,308.6 255.2,308.6 255.2,308.6 255.3,308.6 255.4,308.6 255.4,308.6 255.5,308.6 255.5,308.6 255.6,308.6 255.7,308.6 255.7,308.6 255.8,308.6 255.9,308.6 255.9,308.6 256,308.6 256.1,308.6 256.1,308.6 256.2,308.6 256.2,308.6 256.3,308.6 256.4,308.6 256.4,308.6 256.5,245.9 256.6,308.6 256.6,245.9 256.7,308.6 256.8,245.9 256.8,308.6 256.9,245.9 256.9,245.9 257,245.9 257.1,245.9 257.1,245.9 257.2,245.9 257.3,245.9 257.3,245.9 257.4,245.9 257.5,245.9 257.5,245.9 257.6,245.9 257.6,245.9 257.7,245.9 257.8,245.9 257.8,245.9 257.9,245.9 258,245.9 258,245.9 258.1,308.6 258.1,245.9 258.2,308.6 258.3,245.9 258.3,308.6 258.4,245.9 258.5,245.9 258.5,245.9 258.6,245.9 258.7,245.9 258.7,245.9 258.8,308.6 258.8,308.6 258.9,308.6 259,308.6 259,308.6 259.1,308.6 259.2,245.9 259.2,308.6 259.3,245.9 259.4,308.6 259.4,245.9 259.5,308.6 259.5,308.6 259.6,308.6 259.7,308.6 259.7,308.6 259.8,308.6 259.9,308.6 259.9,308.6 260,308.6 260.1,308.6 260.1,245.9 260.2,245.9 260.2,245.9 260.3,245.9 260.4,245.9 260.4,245.9 260.5,245.9 260.6,245.9 260.6,245.9 260.7,245.9 260.8,245.9 260.8,245.9 260.9,245.9 260.9,245.9 261,245.9 261.1,245.9 261.1,245.9 261.2,245.9 261.3,245.9 261.3,245.9 261.4,245.9 261.4,245.9 261.5,308.6 261.6,308.6 261.6,308.6 261.7,308.6 261.8,308.6 261.8,308.6 261.9,308.6 262,308.6 262,308.6 262.1,308.6 262.1,308.6 262.2,308.6 262.3,308.6 262.3,308.6 262.4,245.9 262.5,308.6 262.5,245.9 262.6,245.9 262.7,245.9 262.7,245.9 262.8,245.9 262.8,245.9 262.9,245.9 263,245.9 263,245.9 263.1,245.9 263.2,245.9 263.2,245.9 263.3,245.9 263.4,245.9 263.4,245.9 263.5,245.9 263.5,245.9 263.6,245.9 263.7,245.9 263.7,245.9 263.8,245.9 263.9,245.9 263.9,245.9 264,308.6 264.1,245.9 264.1,245.9 264.2,245.9 264.2,245.9 264.3,245.9 264.4,245.9 264.4,245.9 264.5,245.9 264.6,245.9 264.6,245.9 264.7,245.9 264.7,245.9 264.8,245.9 264.9,245.9 264.9,245.9 265,245.9 265.1,245.9 265.1,245.9 265.2,245.9 265.3,245.9 265.3,245.9 265.4,245.9 265.4,245.9 265.5,308.6 265.6,308.6 265.6,308.6 265.7,308.6 265.8,308.6 265.8,308.6 265.9,245.9 266,245.9 266,245.9 266.1,245.9 266.1,245.9 266.2,245.9 266.3,245.9 266.3,245.9 266.4,245.9 266.5,245.9 266.5,245.9 266.6,308.6 266.7,308.6 266.7,308.6 266.8,308.6 266.8,308.6 266.9,308.6 267,308.6 267,308.6" fill="none" stroke="#9fe7ee" stroke-width="0.45" stroke-opacity="0.9" stroke-linejoin="round"/>
<rect x="168.5" y="233.6" width="101.2" height="81.8" fill="none" stroke="#8c8c8c" stroke-width="0.9"/>
<line x1="166.7" y1="233.3" x2="168.5" y2="233.3" stroke="#555" stroke-width="0.6"/>
<text x="165.7" y="235.5" text-anchor="end">120</text>
<line x1="166.7" y1="245.9" x2="168.5" y2="245.9" stroke="#555" stroke-width="0.6"/>
<text x="165.7" y="248.1" text-anchor="end">100</text>
<line x1="166.7" y1="258.4" x2="168.5" y2="258.4" stroke="#555" stroke-width="0.6"/>
<text x="165.7" y="260.6" text-anchor="end">80</text>
<line x1="166.7" y1="271" x2="168.5" y2="271" stroke="#555" stroke-width="0.6"/>
<text x="165.7" y="273.2" text-anchor="end">60</text>
<line x1="166.7" y1="283.5" x2="168.5" y2="283.5" stroke="#555" stroke-width="0.6"/>
<text x="165.7" y="285.7" text-anchor="end">40</text>
<line x1="166.7" y1="296.1" x2="168.5" y2="296.1" stroke="#555" stroke-width="0.6"/>
<text x="165.7" y="298.3" text-anchor="end">20</text>
<line x1="166.7" y1="308.6" x2="168.5" y2="308.6" stroke="#555" stroke-width="0.6"/>
<text x="165.7" y="310.8" text-anchor="end">0</text>
<line x1="182.8" y1="315.4" x2="182.8" y2="316.5" stroke="#777" stroke-width="0.5"/>
<line x1="204.5" y1="315.4" x2="204.5" y2="316.5" stroke="#777" stroke-width="0.5"/>
<line x1="226.2" y1="315.4" x2="226.2" y2="316.5" stroke="#777" stroke-width="0.5"/>
<line x1="247.9" y1="315.4" x2="247.9" y2="316.5" stroke="#777" stroke-width="0.5"/>
<line x1="167.4" y1="239.6" x2="168.5" y2="239.6" stroke="#777" stroke-width="0.5"/>
<line x1="167.4" y1="252.1" x2="168.5" y2="252.1" stroke="#777" stroke-width="0.5"/>
<line x1="167.4" y1="264.7" x2="168.5" y2="264.7" stroke="#777" stroke-width="0.5"/>
<line x1="167.4" y1="277.2" x2="168.5" y2="277.2" stroke="#777" stroke-width="0.5"/>
<line x1="167.4" y1="289.8" x2="168.5" y2="289.8" stroke="#777" stroke-width="0.5"/>
<line x1="167.4" y1="302.3" x2="168.5" y2="302.3" stroke="#777" stroke-width="0.5"/>
<line x1="171.9" y1="315.4" x2="171.9" y2="317.2" stroke="#555" stroke-width="0.6"/>
<text x="171.9" y="323.6" text-anchor="middle">0</text>
<line x1="193.6" y1="315.4" x2="193.6" y2="317.2" stroke="#555" stroke-width="0.6"/>
<text x="193.6" y="323.6" text-anchor="middle">2000</text>
<line x1="215.3" y1="315.4" x2="215.3" y2="317.2" stroke="#555" stroke-width="0.6"/>
<text x="215.3" y="323.6" text-anchor="middle">4000</text>
<line x1="237.1" y1="315.4" x2="237.1" y2="317.2" stroke="#555" stroke-width="0.6"/>
<text x="237.1" y="323.6" text-anchor="middle">6000</text>
<line x1="258.8" y1="315.4" x2="258.8" y2="317.2" stroke="#555" stroke-width="0.6"/>
<text x="258.8" y="323.6" text-anchor="middle">8000</text>
<text x="219.1" y="333.9" text-anchor="middle">Time (hours)</text>
<text transform="translate(152.9 274.5) rotate(-90)" text-anchor="middle">Cloudiness (%)</text>
<line x1="213.9" y1="239.5" x2="229" y2="239.5" stroke="#9fe7ee" stroke-width="0.6" stroke-opacity="0.6"/>
<text x="232" y="241.8">Cloudiness</text>
</g>
<g font-size="6.77">
<line x1="307.4" y1="244.4" x2="408.4" y2="244.4" stroke="#f0f0f0" stroke-width="0.5"/>
<line x1="307.4" y1="266.4" x2="408.4" y2="266.4" stroke="#f0f0f0" stroke-width="0.5"/>
<line x1="307.4" y1="288.2" x2="408.4" y2="288.2" stroke="#f0f0f0" stroke-width="0.5"/>
<line x1="307.4" y1="310.1" x2="408.4" y2="310.1" stroke="#f0f0f0" stroke-width="0.5"/>
<polyline points="310.4,244.4 317.1,243.7 317.2,310.1 317.2,244.4 322.2,244.4 322.2,310.1 322.2,244.4 324.5,243.5 324.5,310.1 324.5,244.4 325.9,244.4 325.9,310.1 325.9,244.4 326,244.2 326,310.1 326,244.4 329.1,244.4 329.1,310.1 329.1,244.4 330.2,244.4 330.2,310.1 330.3,244.4 330.3,244.4 330.3,310.1 330.4,244.4 332.1,244.4 332.1,310.1 332.1,244.4 333.9,243.5 333.9,310.1 334,244.4 334,243.7 334.1,310.1 334.1,244.4 336,243.5 336,310.1 336,244.4 337.8,243.5 337.8,310.1 337.9,244.4 338,243.5 338,310.1 338,244.4 339.7,244.2 339.7,310.1 339.7,244.4 341.8,243.7 341.8,310.1 341.9,244.4 343.3,243.7 343.4,310.1 343.4,244.4 343.9,243.7 343.9,310.1 344,244.4 345,244.2 345,310.1 345,244.4 346.1,244.4 346.2,310.1 346.2,244.4 347.1,243.7 347.1,310.1 347.2,244.4 348.5,244.4 348.5,310.1 348.5,244.4 349.2,244.4 349.2,310.1 349.2,244.4 350.7,243.7 350.8,310.1 350.8,244.4 351.6,244.4 351.6,310.1 351.7,244.4 351.8,244.2 351.8,310.1 351.8,244.4 352.9,243.5 352.9,310.1 352.9,244.4 353.9,244.2 353.9,310.1 354,244.4 355.1,243.5 355.1,310.1 355.2,244.4 355.2,243.7 355.2,310.1 355.2,244.4 355.2,244.2 355.2,310.1 355.2,244.4 355.2,244.4 355.2,310.1 355.3,244.4 355.4,244.4 355.4,310.1 355.4,244.4 355.6,243.5 355.6,310.1 355.6,244.4 355.9,243.5 355.9,310.1 355.9,244.4 355.9,243.7 355.9,310.1 356,244.4 356,243.7 356,310.1 356.1,244.4 356.1,244.4 356.1,310.1 356.1,244.4 356.1,243.7 356.1,310.1 356.2,244.4 356.2,244.2 356.2,310.1 356.3,244.4 356.3,243.7 356.3,310.1 356.3,244.4 356.3,243.5 356.3,310.1 356.3,244.4 356.4,244.4 356.4,310.1 356.4,244.4 356.6,244.4 356.6,310.1 356.6,244.4 356.6,244.4 356.7,310.1 356.7,244.4 356.7,244.4 356.7,310.1 356.7,244.4 356.9,243.5 356.9,310.1 356.9,244.4 356.9,244.4 356.9,310.1 356.9,244.4 357,244.2 357.1,310.1 357.1,244.4 357.1,244.2 357.1,310.1 357.1,244.4 357.2,244.2 357.2,310.1 357.3,244.4 357.3,244.4 357.3,310.1 357.3,244.4 357.6,244.4 357.6,310.1 357.6,244.4 357.8,244.4 357.9,310.1 357.9,244.4 357.8,243.5 357.9,310.1 357.9,244.4 357.9,244.4 357.9,310.1 357.9,244.4 357.9,243.5 357.9,310.1 357.9,244.4 357.9,243.5 357.9,310.1 358,244.4 358,243.5 358,310.1 358,244.4 358,243.5 358.1,310.1 358.1,244.4 358.2,243.7 358.2,310.1 358.2,244.4 358.3,244.4 358.3,310.1 358.3,244.4 358.3,243.5 358.4,310.1 358.4,244.4 358.6,244.2 358.6,310.1 358.7,244.4 358.7,243.5 358.7,310.1 358.7,244.4 358.9,243.7 358.9,310.1 358.9,244.4 358.9,244.4 358.9,310.1 358.9,244.4 359.2,244.4 359.2,310.1 359.3,244.4 359.4,244.4 359.4,310.1 359.4,244.4 359.4,243.5 359.4,310.1 359.4,244.4 359.6,243.7 359.7,310.1 359.7,244.4 359.8,243.7 359.9,310.1 359.9,244.4 361,244.2 361,310.1 361.1,244.4 361,243.7 361,310.1 361.1,244.4 361.1,243.7 361.1,310.1 361.1,244.4 361.2,244.2 361.2,310.1 361.2,244.4 361.2,244.2 361.3,310.1 361.3,244.4 361.5,243.7 361.5,310.1 361.5,244.4 361.7,244.4 361.7,310.1 361.7,244.4 361.7,243.5 361.8,310.1 361.8,244.4 361.8,244.2 361.8,310.1 361.8,244.4 361.9,244.4 361.9,310.1 361.9,244.4 362,244.4 362,310.1 362,244.4 362.1,244.4 362.1,310.1 362.1,244.4 362.2,244.4 362.2,310.1 362.2,244.4 362.2,243.5 362.2,310.1 362.3,244.4 362.4,244.2 362.4,310.1 362.5,244.4 362.4,244.2 362.4,310.1 362.5,244.4 362.7,244.4 362.8,310.1 362.8,244.4 362.9,244.2 363,310.1 363,244.4 363,243.7 363,310.1 363,244.4 363,243.5 363.1,310.1 363.1,244.4 363.3,244.4 363.3,310.1 363.3,244.4 363.9,243.7 363.9,310.1 363.9,244.4 363.9,244.4 363.9,310.1 363.9,244.4 364,243.7 364,310.1 364,244.4 364.1,243.7 364.2,310.1 364.2,244.4 364.6,243.5 364.6,310.1 364.7,244.4 364.8,243.7 364.8,310.1 364.8,244.4 364.9,243.5 365,310.1 365,244.4 365.1,243.5 365.1,310.1 365.1,244.4 365.2,243.7 365.2,310.1 365.2,244.4 365.2,244.4 365.2,310.1 365.2,244.4 365.2,243.5 365.3,310.1 365.3,244.4 365.3,243.5 365.3,310.1 365.3,244.4 365.3,243.7 365.3,310.1 365.3,244.4 365.3,243.5 365.3,310.1 365.3,244.4 365.3,243.5 365.3,310.1 365.3,244.4 365.3,244.4 365.3,310.1 365.4,244.4 365.5,243.5 365.6,310.1 365.6,244.4 365.7,244.4 365.7,310.1 365.7,244.4 365.8,244.4 365.8,310.1 365.8,244.4 366,244.2 366,310.1 366,244.4 366.1,243.5 366.1,310.1 366.2,244.4 366.1,244.4 366.2,310.1 366.2,244.4 366.3,243.7 366.3,310.1 366.3,244.4 366.3,244.2 366.3,310.1 366.3,244.4 366.5,244.4 366.5,310.1 366.5,244.4 366.5,243.7 366.5,310.1 366.6,244.4 366.5,243.7 366.6,310.1 366.6,244.4 366.6,243.7 366.6,310.1 366.6,244.4 366.6,243.7 366.6,310.1 366.6,244.4 366.7,243.7 366.8,310.1 366.8,244.4 366.8,244.2 366.8,310.1 366.8,244.4 366.9,244.2 366.9,310.1 366.9,244.4 367.1,244.4 367.1,310.1 367.2,244.4 367.3,243.7 367.3,310.1 367.3,244.4 367.6,244.2 367.7,310.1 367.7,244.4 367.7,243.7 367.7,310.1 367.7,244.4 367.7,244.4 367.7,310.1 367.8,244.4 367.9,244.4 367.9,310.1 367.9,244.4 367.9,244.4 367.9,310.1 367.9,244.4 368,243.7 368,310.1 368,244.4 368,243.7 368,310.1 368.1,244.4 368.1,244.2 368.2,310.1 368.2,244.4 368.2,243.7 368.2,310.1 368.2,244.4 368.3,243.5 368.3,310.1 368.3,244.4 368.4,244.2 368.4,310.1 368.4,244.4 368.4,244.4 368.4,310.1 368.4,244.4 368.5,243.5 368.5,310.1 368.6,244.4 368.6,243.7 368.6,310.1 368.6,244.4 368.6,243.5 368.6,310.1 368.7,244.4 368.6,243.7 368.7,310.1 368.7,244.4 368.7,243.5 368.7,310.1 368.8,244.4 368.8,244.2 368.8,310.1 368.9,244.4 368.9,244.2 368.9,310.1 368.9,244.4 368.9,244.4 369,310.1 369,244.4 368.9,244.4 369,310.1 369,244.4 369,244.4 369,310.1 369,244.4 369,244.4 369,310.1 369,244.4 369,244.4 369,310.1 369,244.4 369,244.2 369.1,310.1 369.1,244.4 369.2,243.5 369.2,310.1 369.3,244.4 369.8,244.2 369.8,310.1 369.9,244.4 369.9,243.5 369.9,310.1 369.9,244.4 370.1,244.4 370.1,310.1 370.1,244.4 370.3,243.7 370.3,310.1 370.4,244.4 370.4,244.4 370.4,310.1 370.4,244.4 370.4,244.2 370.4,310.1 370.4,244.4 370.6,243.5 370.6,310.1 370.6,244.4 370.8,244.2 370.8,310.1 370.9,244.4 370.9,243.7 370.9,310.1 370.9,244.4 371.9,243.7 371.9,310.1 371.9,244.4 372.3,243.5 372.3,310.1 372.3,244.4 372.4,243.5 372.4,310.1 372.4,244.4 372.4,244.4 372.4,310.1 372.5,244.4 372.6,243.7 372.6,310.1 372.6,244.4 372.6,244.2 372.6,310.1 372.6,244.4 372.8,243.5 372.9,310.1 372.9,244.4 372.9,244.2 372.9,310.1 372.9,244.4 373.1,244.2 373.1,310.1 373.1,244.4 373.2,244.2 373.2,310.1 373.2,244.4 373.4,244.4 373.4,310.1 373.4,244.4 373.4,244.4 373.4,310.1 373.4,244.4 373.4,243.7 373.5,310.1 373.5,244.4 373.6,244.2 373.7,310.1 373.7,244.4 373.8,243.7 373.8,310.1 373.9,244.4 373.9,243.7 373.9,310.1 373.9,244.4 373.9,243.5 373.9,310.1 373.9,244.4 374.2,244.4 374.2,310.1 374.2,244.4 374.4,244.2 374.4,310.1 374.5,244.4 375.4,243.5 375.4,310.1 375.4,244.4 375.4,244.4 375.5,310.1 375.5,244.4 375.5,243.5 375.5,310.1 375.5,244.4 375.6,244.2 375.7,310.1 375.7,244.4 375.8,244.4 375.8,310.1 375.9,244.4 375.9,244.2 375.9,310.1 375.9,244.4 375.9,244.2 375.9,310.1 375.9,244.4 376.8,244.2 376.8,310.1 376.9,244.4 377.4,243.7 377.4,310.1 377.5,244.4 377.7,244.2 377.7,310.1 377.7,244.4 377.7,244.2 377.7,310.1 377.7,244.4 377.8,244.2 377.8,310.1 377.9,244.4 377.9,243.5 377.9,310.1 377.9,244.4 378.2,244.4 378.2,310.1 378.2,244.4 378.3,244.4 378.3,310.1 378.3,244.4 379.3,243.7 379.3,310.1 379.3,244.4 379.3,243.5 379.3,310.1 379.4,244.4 379.4,244.4 379.4,310.1 379.4,244.4 379.4,244.4 379.5,310.1 379.5,244.4 380.5,244.4 380.5,310.1 380.5,244.4 380.5,243.5 380.5,310.1 380.6,244.4 380.8,244.4 380.8,310.1 380.8,244.4 380.9,244.4 380.9,310.1 380.9,244.4 381,244.2 381,310.1 381,244.4 381.4,243.5 381.5,310.1 381.5,244.4 381.5,243.7 381.5,310.1 381.6,244.4 381.7,243.5 381.8,310.1 381.8,244.4 381.9,243.5 382,310.1 382,244.4 382.1,244.2 382.1,310.1 382.1,244.4 382.1,244.4 382.2,310.1 382.2,244.4 382.1,244.4 382.2,310.1 382.2,244.4 382.3,243.7 382.3,310.1 382.3,244.4 382.3,244.4 382.3,310.1 382.4,244.4 382.4,244.2 382.4,310.1 382.4,244.4 382.9,244.4 382.9,310.1 382.9,244.4 383.1,244.2 383.1,310.1 383.1,244.4 383.5,244.4 383.5,310.1 383.5,244.4 383.6,243.7 383.6,310.1 383.6,244.4 383.6,244.2 383.7,310.1 383.7,244.4 383.7,244.4 383.7,310.1 383.7,244.4 383.7,244.2 383.7,310.1 383.7,244.4 390.7,244.4 390.7,310.1 390.8,244.4 390.9,244.2 390.9,310.1 390.9,244.4 394.8,243.7 394.8,310.1 394.8,244.4 398.7,243.5 398.7,279.4 398.7,244.4 401.4,243.7 401.4,288.2 401.4,244.4 403.5,244.4 403.5,288.2 403.6,244.4 405.9,244.4" fill="none" stroke="#ffc60f" stroke-width="0.32" stroke-opacity="0.9" stroke-linejoin="round"/>
<polyline points="310.4,244.3 405.9,244.3" fill="none" stroke="#ffc60f" stroke-width="0.6" stroke-opacity="0.9" stroke-linejoin="round"/>
<rect x="307.4" y="233.6" width="101" height="81.7" fill="none" stroke="#8c8c8c" stroke-width="0.9"/>
<line x1="305.6" y1="244.4" x2="307.4" y2="244.4" stroke="#555" stroke-width="0.6"/>
<text x="304.6" y="246.6" text-anchor="end">800</text>
<line x1="305.6" y1="266.4" x2="307.4" y2="266.4" stroke="#555" stroke-width="0.6"/>
<text x="304.6" y="268.6" text-anchor="end">700</text>
<line x1="305.6" y1="288.2" x2="307.4" y2="288.2" stroke="#555" stroke-width="0.6"/>
<text x="304.6" y="290.4" text-anchor="end">600</text>
<line x1="305.6" y1="310.1" x2="307.4" y2="310.1" stroke="#555" stroke-width="0.6"/>
<text x="304.6" y="312.3" text-anchor="end">500</text>
<line x1="321.3" y1="315.2" x2="321.3" y2="316.4" stroke="#777" stroke-width="0.5"/>
<line x1="343.1" y1="315.2" x2="343.1" y2="316.4" stroke="#777" stroke-width="0.5"/>
<line x1="364.9" y1="315.2" x2="364.9" y2="316.4" stroke="#777" stroke-width="0.5"/>
<line x1="386.7" y1="315.2" x2="386.7" y2="316.4" stroke="#777" stroke-width="0.5"/>
<line x1="306.2" y1="255.4" x2="307.4" y2="255.4" stroke="#777" stroke-width="0.5"/>
<line x1="306.2" y1="277.2" x2="307.4" y2="277.2" stroke="#777" stroke-width="0.5"/>
<line x1="306.2" y1="299.2" x2="307.4" y2="299.2" stroke="#777" stroke-width="0.5"/>
<line x1="310.4" y1="315.2" x2="310.4" y2="317.1" stroke="#555" stroke-width="0.6"/>
<text x="310.4" y="323.6" text-anchor="middle">0</text>
<line x1="332.2" y1="315.2" x2="332.2" y2="317.1" stroke="#555" stroke-width="0.6"/>
<text x="332.2" y="323.6" text-anchor="middle">2000</text>
<line x1="354" y1="315.2" x2="354" y2="317.1" stroke="#555" stroke-width="0.6"/>
<text x="354" y="323.6" text-anchor="middle">4000</text>
<line x1="375.8" y1="315.2" x2="375.8" y2="317.1" stroke="#555" stroke-width="0.6"/>
<text x="375.8" y="323.6" text-anchor="middle">6000</text>
<line x1="397.6" y1="315.2" x2="397.6" y2="317.1" stroke="#555" stroke-width="0.6"/>
<text x="397.6" y="323.6" text-anchor="middle">8000</text>
<text x="357.9" y="333.9" text-anchor="middle">Time (hours)</text>
<text transform="translate(291.9 274.4) rotate(-90)" text-anchor="middle">Weather id</text>
<line x1="358.2" y1="238.5" x2="373.2" y2="238.5" stroke="#ffc60f" stroke-width="0.6" stroke-opacity="0.6"/>
<text x="376" y="241">Weather id</text>
</g>
</svg>
</body></html>
